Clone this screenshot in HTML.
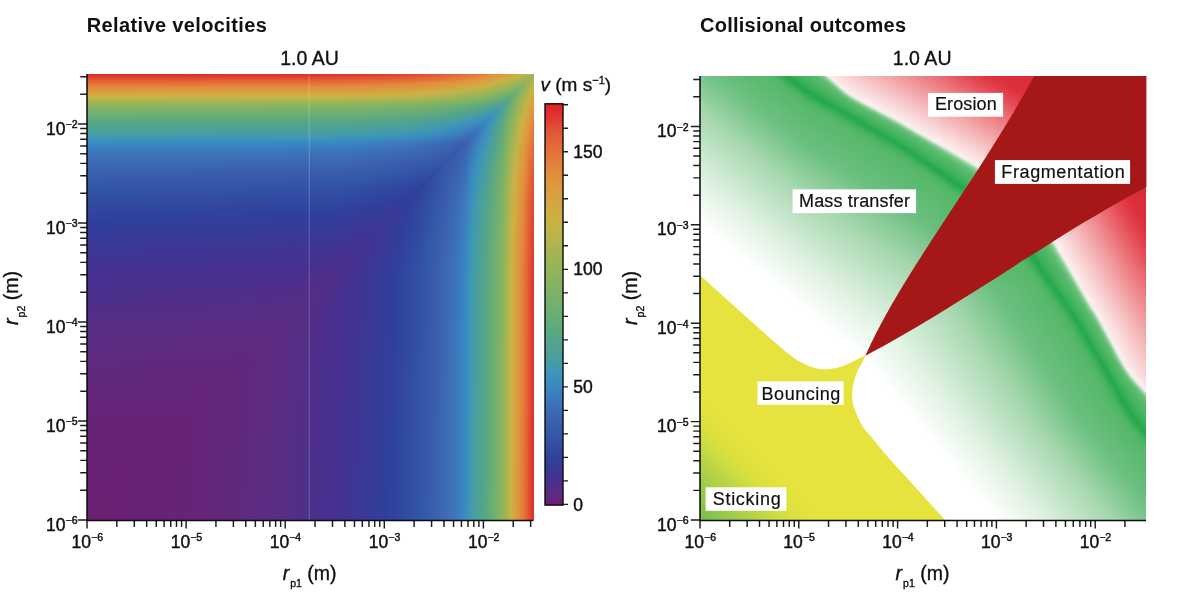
<!DOCTYPE html>
<html lang="en"><head><meta charset="utf-8"><title>Relative velocities and collisional outcomes</title><style>
html,body{margin:0;padding:0;background:#fff}
body{width:1196px;height:600px;overflow:hidden;font-family:'Liberation Sans',sans-serif}
svg{display:block;position:absolute;left:0;top:0}
text{font-family:'Liberation Sans',sans-serif;fill:#111;stroke:#111;stroke-width:.45px}
.tt{stroke-width:0}
.tk{font-size:17.5px}
.sp{font-size:10.5px}
.sp2{font-size:11px}
.sb{font-size:10.5px}
.ax{font-size:19.5px;stroke-width:.35px}
.tt{font-size:20px;font-weight:bold}
.lb{font-size:18px;stroke-width:.2px}
</style></head>
<body>
<svg width="1196" height="600" viewBox="0 0 1196 600">
<defs>
<linearGradient id="ta" gradientUnits="userSpaceOnUse" x1="87" y1="0" x2="533" y2="0"/>
<linearGradient id="tb" gradientUnits="userSpaceOnUse" x1="0" y1="76" x2="0" y2="520"/>
<linearGradient id="a0" href="#ta" x2="533.5"><stop offset="0" stop-color="#e12b2e"/><stop offset=".538" stop-color="#e02f2e"/><stop offset=".659" stop-color="#e0392f"/><stop offset=".749" stop-color="#e04d33"/><stop offset=".836" stop-color="#e36938"/><stop offset=".877" stop-color="#e47d3a"/><stop offset=".928" stop-color="#dd9a3e"/><stop offset=".971" stop-color="#c7b346"/><stop offset=".998" stop-color="#a2b453"/><stop offset="1" stop-color="#a4b452"/></linearGradient>
<linearGradient id="a1" href="#ta" x2="533.5"><stop offset="0" stop-color="#e0332e"/><stop offset=".509" stop-color="#e0382f"/><stop offset=".659" stop-color="#e04431"/><stop offset=".778" stop-color="#e05e36"/><stop offset=".85" stop-color="#e57539"/><stop offset=".915" stop-color="#de973e"/><stop offset=".964" stop-color="#c9b245"/><stop offset=".996" stop-color="#9fb454"/><stop offset=".998" stop-color="#a1b454"/><stop offset="1" stop-color="#a7b451"/></linearGradient>
<linearGradient id="a2" href="#ta" x2="533.5"><stop offset="0" stop-color="#e03b2f"/><stop offset=".507" stop-color="#e03f30"/><stop offset=".657" stop-color="#e04c33"/><stop offset=".762" stop-color="#e05f36"/><stop offset=".836" stop-color="#e57439"/><stop offset=".908" stop-color="#de973e"/><stop offset=".957" stop-color="#cbb244"/><stop offset=".993" stop-color="#9db455"/><stop offset=".996" stop-color="#9eb455"/><stop offset="1" stop-color="#abb44f"/></linearGradient>
<linearGradient id="a3" href="#ta" x2="533.5"><stop offset="0" stop-color="#e04331"/><stop offset=".507" stop-color="#e04732"/><stop offset=".688" stop-color="#e05635"/><stop offset=".794" stop-color="#e36b38"/><stop offset=".845" stop-color="#e47e3a"/><stop offset=".906" stop-color="#dd993e"/><stop offset=".955" stop-color="#c8b245"/><stop offset=".991" stop-color="#9bb456"/><stop offset=".996" stop-color="#a1b454"/><stop offset="1" stop-color="#aeb44e"/></linearGradient>
<linearGradient id="a4" href="#ta" x2="533"><stop offset="0" stop-color="#e04b32"/><stop offset=".518" stop-color="#e04f33"/><stop offset=".679" stop-color="#e05b36"/><stop offset=".803" stop-color="#e57138"/><stop offset=".892" stop-color="#df963e"/><stop offset=".944" stop-color="#cdaf43"/><stop offset=".955" stop-color="#c4b347"/><stop offset=".991" stop-color="#98b458"/><stop offset="1" stop-color="#aeb44e"/></linearGradient>
<linearGradient id="a5" href="#ta" x2="532"><stop offset="0" stop-color="#e05334"/><stop offset=".537" stop-color="#e05735"/><stop offset=".712" stop-color="#e16537"/><stop offset=".793" stop-color="#e57439"/><stop offset=".885" stop-color="#df973e"/><stop offset=".935" stop-color="#cead43"/><stop offset=".948" stop-color="#c7b346"/><stop offset=".991" stop-color="#95b459"/><stop offset="1" stop-color="#aab450"/></linearGradient>
<linearGradient id="a6" href="#ta" x2="531"><stop offset="0" stop-color="#e05c36"/><stop offset=".536" stop-color="#e06137"/><stop offset=".721" stop-color="#e46c38"/><stop offset=".8" stop-color="#e47e3a"/><stop offset=".881" stop-color="#de993e"/><stop offset=".935" stop-color="#ccb043"/><stop offset=".95" stop-color="#c0b449"/><stop offset=".991" stop-color="#92b45b"/><stop offset="1" stop-color="#a8b451"/></linearGradient>
<linearGradient id="a7" href="#ta" x2="530"><stop offset="0" stop-color="#e16437"/><stop offset=".58" stop-color="#e26837"/><stop offset=".718" stop-color="#e57338"/><stop offset=".824" stop-color="#e28b3c"/><stop offset=".892" stop-color="#d99f40"/><stop offset=".937" stop-color="#c8b245"/><stop offset=".984" stop-color="#96b459"/><stop offset=".991" stop-color="#8eb45d"/><stop offset="1" stop-color="#a5b452"/></linearGradient>
<linearGradient id="a8" href="#ta" x2="529"><stop offset="0" stop-color="#e36a38"/><stop offset=".581" stop-color="#e56e38"/><stop offset=".719" stop-color="#e47a39"/><stop offset=".848" stop-color="#df963e"/><stop offset=".905" stop-color="#d1a942"/><stop offset=".932" stop-color="#c7b346"/><stop offset=".98" stop-color="#98b458"/><stop offset=".991" stop-color="#8bb35e"/><stop offset="1" stop-color="#a3b453"/></linearGradient>
<linearGradient id="a9" href="#ta" x2="528"><stop offset="0" stop-color="#e57038"/><stop offset=".556" stop-color="#e57439"/><stop offset=".71" stop-color="#e4803a"/><stop offset=".839" stop-color="#de983e"/><stop offset=".896" stop-color="#d1a842"/><stop offset=".925" stop-color="#c8b245"/><stop offset=".975" stop-color="#99b457"/><stop offset=".991" stop-color="#88b360"/><stop offset="1" stop-color="#a0b454"/></linearGradient>
<linearGradient id="a10" href="#ta" x2="527"><stop offset="0" stop-color="#e57739"/><stop offset=".557" stop-color="#e47b39"/><stop offset=".734" stop-color="#e3883b"/><stop offset=".848" stop-color="#db9c3f"/><stop offset=".918" stop-color="#c9b245"/><stop offset=".961" stop-color="#a3b453"/><stop offset=".991" stop-color="#86b362"/><stop offset="1" stop-color="#9cb456"/></linearGradient>
<linearGradient id="a11" href="#ta" x2="526"><stop offset="0" stop-color="#e47d3a"/><stop offset=".569" stop-color="#e4823a"/><stop offset=".729" stop-color="#e28d3c"/><stop offset=".843" stop-color="#d99e40"/><stop offset=".911" stop-color="#c9b245"/><stop offset=".954" stop-color="#a6b452"/><stop offset=".991" stop-color="#83b364"/><stop offset="1" stop-color="#99b458"/></linearGradient>
<linearGradient id="a12" href="#ta" x2="525"><stop offset="0" stop-color="#e4833a"/><stop offset=".578" stop-color="#e3873b"/><stop offset=".769" stop-color="#df953d"/><stop offset=".861" stop-color="#d3a641"/><stop offset=".906" stop-color="#c8b245"/><stop offset=".952" stop-color="#a4b452"/><stop offset=".991" stop-color="#81b265"/><stop offset="1" stop-color="#95b459"/></linearGradient>
<linearGradient id="a13" href="#ta" x2="524"><stop offset="0" stop-color="#e3883b"/><stop offset=".579" stop-color="#e28c3c"/><stop offset=".764" stop-color="#de983e"/><stop offset=".851" stop-color="#d3a641"/><stop offset=".899" stop-color="#c8b245"/><stop offset=".947" stop-color="#a5b452"/><stop offset=".991" stop-color="#7eb267"/><stop offset="1" stop-color="#92b45b"/></linearGradient>
<linearGradient id="a14" href="#ta" x2="523"><stop offset="0" stop-color="#e28d3c"/><stop offset=".615" stop-color="#e1913d"/><stop offset=".791" stop-color="#da9e3f"/><stop offset=".89" stop-color="#c8b245"/><stop offset=".938" stop-color="#a9b450"/><stop offset=".986" stop-color="#80b266"/><stop offset=".991" stop-color="#7cb269"/><stop offset="1" stop-color="#8fb45c"/></linearGradient>
<linearGradient id="a15" href="#ta" x2="522"><stop offset="0" stop-color="#e1913d"/><stop offset=".614" stop-color="#df953d"/><stop offset=".791" stop-color="#d7a140"/><stop offset=".88" stop-color="#c8b245"/><stop offset=".931" stop-color="#aab450"/><stop offset=".982" stop-color="#82b265"/><stop offset=".991" stop-color="#79b16a"/><stop offset="1" stop-color="#8cb35e"/></linearGradient>
<linearGradient id="a16" href="#ta" x2="521"><stop offset="0" stop-color="#de973e"/><stop offset=".641" stop-color="#dc9b3f"/><stop offset=".781" stop-color="#d4a541"/><stop offset=".864" stop-color="#c8b245"/><stop offset=".917" stop-color="#acb44f"/><stop offset=".975" stop-color="#83b364"/><stop offset=".991" stop-color="#75b16d"/><stop offset="1" stop-color="#8ab35f"/></linearGradient>
<linearGradient id="a17" href="#ta" x2="520"><stop offset="0" stop-color="#db9c3f"/><stop offset=".642" stop-color="#d8a040"/><stop offset=".804" stop-color="#ceae43"/><stop offset=".845" stop-color="#c7b346"/><stop offset=".903" stop-color="#aeb44e"/><stop offset=".968" stop-color="#84b363"/><stop offset=".991" stop-color="#71b06f"/><stop offset="1" stop-color="#87b361"/></linearGradient>
<linearGradient id="a18" href="#ta" x2="519"><stop offset="0" stop-color="#d7a140"/><stop offset=".62" stop-color="#d4a541"/><stop offset=".812" stop-color="#c9b245"/><stop offset=".88" stop-color="#b2b44d"/><stop offset=".954" stop-color="#89b35f"/><stop offset=".991" stop-color="#6eaf72"/><stop offset="1" stop-color="#85b363"/></linearGradient>
<linearGradient id="a19" href="#ta" x2="518"><stop offset="0" stop-color="#d4a541"/><stop offset=".622" stop-color="#d1a942"/><stop offset=".791" stop-color="#c9b245"/><stop offset=".865" stop-color="#b3b44d"/><stop offset=".947" stop-color="#8ab35f"/><stop offset=".991" stop-color="#6baf74"/><stop offset="1" stop-color="#82b264"/></linearGradient>
<linearGradient id="a20" href="#ta" x2="517"><stop offset="0" stop-color="#d1a942"/><stop offset=".647" stop-color="#cead43"/><stop offset=".765" stop-color="#c8b245"/><stop offset=".847" stop-color="#b5b44c"/><stop offset=".93" stop-color="#90b45c"/><stop offset=".991" stop-color="#69ae75"/><stop offset="1" stop-color="#7eb268"/></linearGradient>
<linearGradient id="a21" href="#ta" x2="516"><stop offset="0" stop-color="#cfac43"/><stop offset=".648" stop-color="#ccb044"/><stop offset=".746" stop-color="#c5b346"/><stop offset=".834" stop-color="#b3b44d"/><stop offset=".923" stop-color="#90b45c"/><stop offset=".986" stop-color="#6aae75"/><stop offset=".991" stop-color="#66ad77"/><stop offset="1" stop-color="#79b16a"/></linearGradient>
<linearGradient id="a22" href="#ta" x2="515"><stop offset="0" stop-color="#ccb044"/><stop offset=".619" stop-color="#c9b245"/><stop offset=".764" stop-color="#bcb44a"/><stop offset=".857" stop-color="#a6b452"/><stop offset=".932" stop-color="#87b361"/><stop offset=".991" stop-color="#63ac7a"/><stop offset="1" stop-color="#75b16d"/></linearGradient>
<linearGradient id="a23" href="#ta" x2="514"><stop offset="0" stop-color="#c7b346"/><stop offset=".593" stop-color="#c3b348"/><stop offset=".747" stop-color="#b7b44c"/><stop offset=".85" stop-color="#a2b453"/><stop offset=".925" stop-color="#86b361"/><stop offset=".986" stop-color="#63ac7a"/><stop offset=".991" stop-color="#5fab7c"/><stop offset="1" stop-color="#72b06f"/></linearGradient>
<linearGradient id="a24" href="#ta" x2="513"><stop offset="0" stop-color="#c0b449"/><stop offset=".589" stop-color="#bcb44a"/><stop offset=".749" stop-color="#b0b44e"/><stop offset=".857" stop-color="#9ab457"/><stop offset=".927" stop-color="#80b265"/><stop offset=".986" stop-color="#5fab7c"/><stop offset=".991" stop-color="#5ca97f"/><stop offset="1" stop-color="#70b071"/></linearGradient>
<linearGradient id="a25" href="#ta" x2="512"><stop offset="0" stop-color="#b8b44b"/><stop offset=".588" stop-color="#b4b44c"/><stop offset=".758" stop-color="#a7b451"/><stop offset=".868" stop-color="#91b45b"/><stop offset=".939" stop-color="#77b16c"/><stop offset=".986" stop-color="#5ca97f"/><stop offset=".991" stop-color="#59a783"/><stop offset="1" stop-color="#6daf72"/></linearGradient>
<linearGradient id="a26" href="#ta" x2="511"><stop offset="0" stop-color="#b0b44d"/><stop offset=".594" stop-color="#acb44f"/><stop offset=".757" stop-color="#a1b454"/><stop offset=".861" stop-color="#8eb35d"/><stop offset=".939" stop-color="#72b06f"/><stop offset=".983" stop-color="#5aa882"/><stop offset=".991" stop-color="#56a687"/><stop offset="1" stop-color="#6aae75"/></linearGradient>
<linearGradient id="a27" href="#ta" x2="510"><stop offset="0" stop-color="#a9b450"/><stop offset=".598" stop-color="#a5b452"/><stop offset=".78" stop-color="#98b458"/><stop offset=".879" stop-color="#84b363"/><stop offset=".957" stop-color="#66ad78"/><stop offset=".986" stop-color="#56a587"/><stop offset=".991" stop-color="#54a48b"/><stop offset="1" stop-color="#67ad77"/></linearGradient>
<linearGradient id="a28" href="#ta" x2="509"><stop offset="0" stop-color="#a2b453"/><stop offset=".614" stop-color="#9eb455"/><stop offset=".78" stop-color="#92b45b"/><stop offset=".879" stop-color="#7fb267"/><stop offset=".955" stop-color="#63ac7a"/><stop offset=".983" stop-color="#55a489"/><stop offset=".991" stop-color="#51a38f"/><stop offset="1" stop-color="#63ac7a"/></linearGradient>
<linearGradient id="a29" href="#ta" x2="508"><stop offset="0" stop-color="#9cb456"/><stop offset=".62" stop-color="#98b458"/><stop offset=".784" stop-color="#8cb35e"/><stop offset=".886" stop-color="#78b16b"/><stop offset=".955" stop-color="#5fab7c"/><stop offset=".99" stop-color="#4fa193"/><stop offset="1" stop-color="#5fab7c"/></linearGradient>
<linearGradient id="a30" href="#ta" x2="507"><stop offset="0" stop-color="#96b459"/><stop offset=".621" stop-color="#92b45b"/><stop offset=".79" stop-color="#86b362"/><stop offset=".89" stop-color="#72b06f"/><stop offset=".952" stop-color="#5caa7f"/><stop offset=".99" stop-color="#4da098"/><stop offset="1" stop-color="#5ca980"/></linearGradient>
<linearGradient id="a31" href="#ta" x2="506"><stop offset="0" stop-color="#90b45c"/><stop offset=".625" stop-color="#8cb35e"/><stop offset=".8" stop-color="#7fb266"/><stop offset=".905" stop-color="#6aae74"/><stop offset=".952" stop-color="#59a783"/><stop offset=".99" stop-color="#4b9f9d"/><stop offset="1" stop-color="#59a783"/></linearGradient>
<linearGradient id="a32" href="#ta" x2="505"><stop offset="0" stop-color="#8ab35f"/><stop offset=".634" stop-color="#86b362"/><stop offset=".801" stop-color="#7ab16a"/><stop offset=".907" stop-color="#65ad78"/><stop offset=".947" stop-color="#57a685"/><stop offset=".986" stop-color="#4a9e9e"/><stop offset=".99" stop-color="#489ea2"/><stop offset="1" stop-color="#56a587"/></linearGradient>
<linearGradient id="a33" href="#ta" x2="504"><stop offset="0" stop-color="#85b362"/><stop offset=".638" stop-color="#81b265"/><stop offset=".803" stop-color="#75b16d"/><stop offset=".902" stop-color="#63ac7a"/><stop offset=".947" stop-color="#55a489"/><stop offset=".986" stop-color="#489da3"/><stop offset=".99" stop-color="#469ca6"/><stop offset="1" stop-color="#53a48c"/></linearGradient>
<linearGradient id="a34" href="#ta" x2="503"><stop offset="0" stop-color="#81b265"/><stop offset=".639" stop-color="#7db268"/><stop offset=".808" stop-color="#71b06f"/><stop offset=".899" stop-color="#61ab7b"/><stop offset=".95" stop-color="#52a38d"/><stop offset=".988" stop-color="#459ca8"/><stop offset=".99" stop-color="#449baa"/><stop offset="1" stop-color="#51a290"/></linearGradient>
<linearGradient id="a35" href="#ta" x2="502"><stop offset="0" stop-color="#7eb267"/><stop offset=".641" stop-color="#7ab16a"/><stop offset=".814" stop-color="#6eaf72"/><stop offset=".908" stop-color="#5ba980"/><stop offset=".959" stop-color="#4ea196"/><stop offset=".99" stop-color="#439aad"/><stop offset="1" stop-color="#4fa195"/></linearGradient>
<linearGradient id="a36" href="#ta" x2="501"><stop offset="0" stop-color="#7bb269"/><stop offset=".643" stop-color="#77b16c"/><stop offset=".821" stop-color="#6aae74"/><stop offset=".906" stop-color="#5aa882"/><stop offset=".957" stop-color="#4da097"/><stop offset=".99" stop-color="#4198b1"/><stop offset="1" stop-color="#4ca09a"/></linearGradient>
<linearGradient id="a37" href="#ta" x2="500"><stop offset="0" stop-color="#77b16c"/><stop offset=".644" stop-color="#73b06e"/><stop offset=".818" stop-color="#68ae76"/><stop offset=".898" stop-color="#59a883"/><stop offset=".952" stop-color="#4da098"/><stop offset=".985" stop-color="#4198b0"/><stop offset=".99" stop-color="#3f96b5"/><stop offset="1" stop-color="#4a9e9e"/></linearGradient>
<linearGradient id="a38" href="#ta" x2="499"><stop offset="0" stop-color="#74b06e"/><stop offset=".653" stop-color="#70b070"/><stop offset=".818" stop-color="#65ad78"/><stop offset=".891" stop-color="#58a784"/><stop offset=".949" stop-color="#4c9f9a"/><stop offset=".983" stop-color="#4097b2"/><stop offset=".99" stop-color="#3e95b9"/><stop offset="1" stop-color="#489ea1"/></linearGradient>
<linearGradient id="a39" href="#ta" x2="498"><stop offset="0" stop-color="#71b070"/><stop offset=".657" stop-color="#6daf73"/><stop offset=".815" stop-color="#62ac7a"/><stop offset=".888" stop-color="#57a686"/><stop offset=".946" stop-color="#4b9f9c"/><stop offset=".978" stop-color="#4198b1"/><stop offset=".99" stop-color="#3c93bc"/><stop offset="1" stop-color="#479da5"/></linearGradient>
<linearGradient id="a40" href="#ta" x2="497"><stop offset="0" stop-color="#6eaf72"/><stop offset=".659" stop-color="#6aae74"/><stop offset=".82" stop-color="#5fab7d"/><stop offset=".902" stop-color="#52a38d"/><stop offset=".954" stop-color="#479da3"/><stop offset=".988" stop-color="#3c92bc"/><stop offset=".993" stop-color="#3d94ba"/><stop offset="1" stop-color="#459ca8"/></linearGradient>
<linearGradient id="a41" href="#ta" x2="496"><stop offset="0" stop-color="#6caf74"/><stop offset=".658" stop-color="#68ae76"/><stop offset=".826" stop-color="#5ca980"/><stop offset=".905" stop-color="#50a291"/><stop offset=".958" stop-color="#449ba9"/><stop offset=".985" stop-color="#3c92bd"/><stop offset=".99" stop-color="#3b8fbd"/><stop offset=".995" stop-color="#3e95b8"/><stop offset="1" stop-color="#439aac"/></linearGradient>
<linearGradient id="a42" href="#ta" x2="495"><stop offset="0" stop-color="#69ae75"/><stop offset=".65" stop-color="#65ad78"/><stop offset=".814" stop-color="#5ba881"/><stop offset=".897" stop-color="#50a292"/><stop offset=".953" stop-color="#449baa"/><stop offset=".98" stop-color="#3c92bc"/><stop offset=".99" stop-color="#3b8ebe"/><stop offset=".995" stop-color="#3c93bb"/><stop offset="1" stop-color="#4299af"/></linearGradient>
<linearGradient id="a43" href="#ta" x2="494"><stop offset="0" stop-color="#66ad77"/><stop offset=".654" stop-color="#62ac7a"/><stop offset=".801" stop-color="#5aa883"/><stop offset=".887" stop-color="#50a292"/><stop offset=".946" stop-color="#459ca9"/><stop offset=".978" stop-color="#3c91bd"/><stop offset=".99" stop-color="#3b8cbf"/><stop offset=".998" stop-color="#3d94b9"/><stop offset="1" stop-color="#4097b3"/></linearGradient>
<linearGradient id="a44" href="#ta" x2="493"><stop offset="0" stop-color="#63ac7a"/><stop offset=".655" stop-color="#5fab7d"/><stop offset=".81" stop-color="#56a687"/><stop offset=".899" stop-color="#4da099"/><stop offset=".951" stop-color="#4299af"/><stop offset=".973" stop-color="#3c92bd"/><stop offset=".99" stop-color="#3a8abf"/><stop offset=".998" stop-color="#3c93bc"/><stop offset="1" stop-color="#3e95b7"/></linearGradient>
<linearGradient id="a45" href="#ta" x2="492"><stop offset="0" stop-color="#60ab7c"/><stop offset=".662" stop-color="#5ca97f"/><stop offset=".822" stop-color="#53a48b"/><stop offset=".906" stop-color="#4a9e9e"/><stop offset=".948" stop-color="#4198b2"/><stop offset=".97" stop-color="#3c91bd"/><stop offset=".99" stop-color="#3a88c0"/><stop offset="1" stop-color="#3d94ba"/></linearGradient>
<linearGradient id="a46" href="#ta" x2="491"><stop offset="0" stop-color="#5eaa7e"/><stop offset=".644" stop-color="#5ba881"/><stop offset=".809" stop-color="#53a38c"/><stop offset=".896" stop-color="#4a9e9e"/><stop offset=".943" stop-color="#4097b2"/><stop offset=".965" stop-color="#3c91bd"/><stop offset=".99" stop-color="#3a86c0"/><stop offset="1" stop-color="#3c92bc"/></linearGradient>
<linearGradient id="a47" href="#ta" x2="490"><stop offset="0" stop-color="#5ba980"/><stop offset=".648" stop-color="#58a784"/><stop offset=".806" stop-color="#51a38f"/><stop offset=".891" stop-color="#499ea0"/><stop offset=".938" stop-color="#4097b3"/><stop offset=".96" stop-color="#3c91bd"/><stop offset=".99" stop-color="#3a84bf"/><stop offset="1" stop-color="#3c90bd"/></linearGradient>
<linearGradient id="a48" href="#ta" x2="489"><stop offset="0" stop-color="#59a883"/><stop offset=".649" stop-color="#56a687"/><stop offset=".806" stop-color="#50a292"/><stop offset=".891" stop-color="#489da3"/><stop offset=".955" stop-color="#3c91bd"/><stop offset=".99" stop-color="#3a82be"/><stop offset="1" stop-color="#3b8fbe"/></linearGradient>
<linearGradient id="a49" href="#ta" x2="488"><stop offset="0" stop-color="#57a686"/><stop offset=".651" stop-color="#54a48a"/><stop offset=".813" stop-color="#4ea196"/><stop offset=".9" stop-color="#459ca9"/><stop offset=".948" stop-color="#3c91bd"/><stop offset=".985" stop-color="#3a82bf"/><stop offset=".99" stop-color="#3b80be"/><stop offset="1" stop-color="#3b8dbe"/></linearGradient>
<linearGradient id="a50" href="#ta" x2="487"><stop offset="0" stop-color="#55a589"/><stop offset=".637" stop-color="#53a38d"/><stop offset=".807" stop-color="#4da098"/><stop offset=".895" stop-color="#449bab"/><stop offset=".943" stop-color="#3c91bd"/><stop offset=".98" stop-color="#3a83bf"/><stop offset=".99" stop-color="#3b7dbd"/><stop offset="1" stop-color="#3b8bbf"/></linearGradient>
<linearGradient id="a51" href="#ta" x2="486"><stop offset="0" stop-color="#53a48b"/><stop offset=".637" stop-color="#51a28f"/><stop offset=".802" stop-color="#4c9f9b"/><stop offset=".89" stop-color="#439aad"/><stop offset=".937" stop-color="#3c91bd"/><stop offset=".977" stop-color="#3a82bf"/><stop offset=".99" stop-color="#3b7bbd"/><stop offset="1" stop-color="#3a8abf"/></linearGradient>
<linearGradient id="a52" href="#ta" x2="485"><stop offset="0" stop-color="#52a38e"/><stop offset=".638" stop-color="#50a292"/><stop offset=".799" stop-color="#4b9f9d"/><stop offset=".884" stop-color="#4299ae"/><stop offset=".93" stop-color="#3c91bd"/><stop offset=".972" stop-color="#3a83bf"/><stop offset=".99" stop-color="#3b7abc"/><stop offset="1" stop-color="#3a88c0"/></linearGradient>
<linearGradient id="a53" href="#ta" x2="484"><stop offset="0" stop-color="#51a290"/><stop offset=".64" stop-color="#4fa194"/><stop offset=".796" stop-color="#4a9e9f"/><stop offset=".877" stop-color="#4299ae"/><stop offset=".924" stop-color="#3c91bd"/><stop offset=".97" stop-color="#3a83bf"/><stop offset=".99" stop-color="#3b78bc"/><stop offset="1" stop-color="#3a86bf"/></linearGradient>
<linearGradient id="a54" href="#ta" x2="483"><stop offset="0" stop-color="#50a293"/><stop offset=".641" stop-color="#4ea097"/><stop offset=".803" stop-color="#489da2"/><stop offset=".879" stop-color="#4198b2"/><stop offset=".919" stop-color="#3c91bd"/><stop offset=".967" stop-color="#3a82bf"/><stop offset=".99" stop-color="#3b77bb"/><stop offset="1" stop-color="#3a83bf"/></linearGradient>
<linearGradient id="a55" href="#ta" x2="482"><stop offset="0" stop-color="#4fa195"/><stop offset=".638" stop-color="#4ca099"/><stop offset=".805" stop-color="#469da5"/><stop offset=".889" stop-color="#3e95b8"/><stop offset=".922" stop-color="#3b8fbe"/><stop offset=".965" stop-color="#3a81be"/><stop offset=".99" stop-color="#3b75ba"/><stop offset="1" stop-color="#3a81be"/></linearGradient>
<linearGradient id="a56" href="#ta" x2="481"><stop offset="0" stop-color="#4da097"/><stop offset=".627" stop-color="#4b9f9b"/><stop offset=".802" stop-color="#459ca7"/><stop offset=".906" stop-color="#3c91bd"/><stop offset=".959" stop-color="#3a82be"/><stop offset=".99" stop-color="#3c74ba"/><stop offset="1" stop-color="#3b7fbe"/></linearGradient>
<linearGradient id="a57" href="#ta" x2="480"><stop offset="0" stop-color="#4c9f9a"/><stop offset=".628" stop-color="#4a9e9e"/><stop offset=".796" stop-color="#449baa"/><stop offset=".898" stop-color="#3c90bd"/><stop offset=".954" stop-color="#3a82be"/><stop offset=".99" stop-color="#3c72b9"/><stop offset="1" stop-color="#3b7ebd"/></linearGradient>
<linearGradient id="a58" href="#ta" x2="479"><stop offset="0" stop-color="#4a9f9d"/><stop offset=".63" stop-color="#489ea1"/><stop offset=".788" stop-color="#439aac"/><stop offset=".888" stop-color="#3c90bd"/><stop offset=".946" stop-color="#3a83bf"/><stop offset=".99" stop-color="#3c71b8"/><stop offset="1" stop-color="#3b7cbd"/></linearGradient>
<linearGradient id="a59" href="#ta" x2="478"><stop offset="0" stop-color="#499ea1"/><stop offset=".632" stop-color="#479da5"/><stop offset=".78" stop-color="#4299af"/><stop offset=".875" stop-color="#3c90bd"/><stop offset=".939" stop-color="#3a83bf"/><stop offset=".99" stop-color="#3c6fb7"/><stop offset="1" stop-color="#3b7abd"/></linearGradient>
<linearGradient id="a60" href="#ta" x2="477"><stop offset="0" stop-color="#479da4"/><stop offset=".631" stop-color="#459ca8"/><stop offset=".795" stop-color="#3f96b5"/><stop offset=".864" stop-color="#3b90bd"/><stop offset=".931" stop-color="#3a83bf"/><stop offset=".99" stop-color="#3d6db6"/><stop offset="1" stop-color="#3b79bc"/></linearGradient>
<linearGradient id="a61" href="#ta" x2="476"><stop offset="0" stop-color="#459ca8"/><stop offset=".609" stop-color="#439aac"/><stop offset=".784" stop-color="#3e95b8"/><stop offset=".887" stop-color="#3a8abf"/><stop offset=".959" stop-color="#3b77bb"/><stop offset=".99" stop-color="#3d6bb5"/><stop offset="1" stop-color="#3b77bb"/></linearGradient>
<linearGradient id="a62" href="#ta" x2="475"><stop offset="0" stop-color="#439aac"/><stop offset=".613" stop-color="#4198b1"/><stop offset=".827" stop-color="#3b8fbd"/><stop offset=".91" stop-color="#3a83bf"/><stop offset=".977" stop-color="#3c6eb6"/><stop offset=".99" stop-color="#3d69b4"/><stop offset="1" stop-color="#3b75ba"/></linearGradient>
<linearGradient id="a63" href="#ta" x2="474"><stop offset="0" stop-color="#4198b1"/><stop offset=".615" stop-color="#3f96b5"/><stop offset=".819" stop-color="#3b8ebe"/><stop offset=".902" stop-color="#3a82bf"/><stop offset=".974" stop-color="#3d6db6"/><stop offset=".99" stop-color="#3c68b3"/><stop offset="1" stop-color="#3c73b9"/></linearGradient>
<linearGradient id="a64" href="#ta" x2="473"><stop offset="0" stop-color="#3f96b6"/><stop offset=".617" stop-color="#3d94ba"/><stop offset=".829" stop-color="#3a8abf"/><stop offset=".917" stop-color="#3b7bbd"/><stop offset=".99" stop-color="#3c66b2"/><stop offset="1" stop-color="#3c71b8"/></linearGradient>
<linearGradient id="a65" href="#ta" x2="472"><stop offset="0" stop-color="#3c93bb"/><stop offset=".686" stop-color="#3b90bd"/><stop offset=".847" stop-color="#3a85bf"/><stop offset=".945" stop-color="#3c71b8"/><stop offset=".99" stop-color="#3b64b1"/><stop offset="1" stop-color="#3c6fb7"/></linearGradient>
<linearGradient id="a66" href="#ta" x2="471"><stop offset="0" stop-color="#3c91bd"/><stop offset=".69" stop-color="#3b8dbe"/><stop offset=".833" stop-color="#3a84bf"/><stop offset=".938" stop-color="#3c70b8"/><stop offset=".99" stop-color="#3b63b0"/><stop offset="1" stop-color="#3d6db6"/></linearGradient>
<linearGradient id="a67" href="#ta" x2="470"><stop offset="0" stop-color="#3b8ebe"/><stop offset=".695" stop-color="#3a8abf"/><stop offset=".838" stop-color="#3b7fbe"/><stop offset=".943" stop-color="#3d6cb5"/><stop offset=".99" stop-color="#3a61af"/><stop offset="1" stop-color="#3d6bb5"/></linearGradient>
<linearGradient id="a68" href="#ta" x2="469"><stop offset="0" stop-color="#3b8bbf"/><stop offset=".683" stop-color="#3a87c0"/><stop offset=".848" stop-color="#3b7abd"/><stop offset=".971" stop-color="#3b63b0"/><stop offset=".99" stop-color="#3a5fae"/><stop offset="1" stop-color="#3d69b4"/></linearGradient>
<linearGradient id="a69" href="#ta" x2="468"><stop offset="0" stop-color="#3a89c0"/><stop offset=".659" stop-color="#3a86bf"/><stop offset=".837" stop-color="#3b79bc"/><stop offset=".969" stop-color="#3b63b0"/><stop offset=".992" stop-color="#3a60ae"/><stop offset="1" stop-color="#3c67b3"/></linearGradient>
<linearGradient id="a70" href="#ta" x2="467"><stop offset="0" stop-color="#3a88c0"/><stop offset=".655" stop-color="#3a84bf"/><stop offset=".837" stop-color="#3b78bc"/><stop offset=".963" stop-color="#3b63b0"/><stop offset=".992" stop-color="#3a5fae"/><stop offset="1" stop-color="#3c65b2"/></linearGradient>
<linearGradient id="a71" href="#ta" x2="466"><stop offset="0" stop-color="#3a86bf"/><stop offset=".657" stop-color="#3a82be"/><stop offset=".844" stop-color="#3b75ba"/><stop offset=".963" stop-color="#3b62b0"/><stop offset=".992" stop-color="#395ead"/><stop offset="1" stop-color="#3b64b0"/></linearGradient>
<linearGradient id="a72" href="#ta" x2="465"><stop offset="0" stop-color="#3a84bf"/><stop offset=".659" stop-color="#3b80be"/><stop offset=".852" stop-color="#3c73b9"/><stop offset=".966" stop-color="#3a61af"/><stop offset=".992" stop-color="#395ead"/><stop offset="1" stop-color="#3b62af"/></linearGradient>
<linearGradient id="a73" href="#ta" x2="464"><stop offset="0" stop-color="#3a82bf"/><stop offset=".658" stop-color="#3b7ebd"/><stop offset=".857" stop-color="#3c71b8"/><stop offset=".973" stop-color="#3a5eae"/><stop offset=".995" stop-color="#395ead"/><stop offset="1" stop-color="#3a60af"/></linearGradient>
<linearGradient id="a74" href="#ta" x2="463"><stop offset="0" stop-color="#3a80be"/><stop offset=".66" stop-color="#3b7cbd"/><stop offset=".856" stop-color="#3c6fb7"/><stop offset=".976" stop-color="#395ead"/><stop offset=".995" stop-color="#395ead"/><stop offset="1" stop-color="#3a60ae"/></linearGradient>
<linearGradient id="a75" href="#ta" x2="462"><stop offset="0" stop-color="#3b7ebe"/><stop offset=".661" stop-color="#3b7abd"/><stop offset=".856" stop-color="#3c6eb6"/><stop offset=".981" stop-color="#385cac"/><stop offset=".997" stop-color="#395ead"/><stop offset="1" stop-color="#3a5fae"/></linearGradient>
<linearGradient id="a76" href="#ta" x2="461"><stop offset="0" stop-color="#3b7cbd"/><stop offset=".663" stop-color="#3b78bc"/><stop offset=".856" stop-color="#3d6db5"/><stop offset=".984" stop-color="#375bab"/><stop offset="1" stop-color="#395ead"/></linearGradient>
<linearGradient id="a77" href="#ta" x2="460"><stop offset="0" stop-color="#3b7abd"/><stop offset=".676" stop-color="#3b76bb"/><stop offset=".863" stop-color="#3d6ab4"/><stop offset=".992" stop-color="#375bab"/><stop offset="1" stop-color="#395ead"/></linearGradient>
<linearGradient id="a78" href="#ta" x2="459"><stop offset="0" stop-color="#3b78bc"/><stop offset=".683" stop-color="#3c74ba"/><stop offset=".879" stop-color="#3c68b3"/><stop offset=".992" stop-color="#365baa"/><stop offset="1" stop-color="#395dad"/></linearGradient>
<linearGradient id="a79" href="#ta" x2="458"><stop offset="0" stop-color="#3b77bb"/><stop offset=".682" stop-color="#3c73b9"/><stop offset=".887" stop-color="#3c66b2"/><stop offset=".992" stop-color="#365aaa"/><stop offset="1" stop-color="#385dac"/></linearGradient>
<linearGradient id="a80" href="#ta" x2="457"><stop offset="0" stop-color="#3b76bb"/><stop offset=".684" stop-color="#3c72b8"/><stop offset=".895" stop-color="#3b64b1"/><stop offset=".992" stop-color="#355aa9"/><stop offset="1" stop-color="#385cac"/></linearGradient>
<linearGradient id="a81" href="#ta" x2="456"><stop offset="0" stop-color="#3c74ba"/><stop offset=".686" stop-color="#3c70b8"/><stop offset=".902" stop-color="#3b62b0"/><stop offset=".992" stop-color="#3559a9"/><stop offset="1" stop-color="#375cab"/></linearGradient>
<linearGradient id="a82" href="#ta" x2="455"><stop offset="0" stop-color="#3c73b9"/><stop offset=".688" stop-color="#3c6fb7"/><stop offset=".905" stop-color="#3b61af"/><stop offset=".995" stop-color="#355aa9"/><stop offset="1" stop-color="#375bab"/></linearGradient>
<linearGradient id="a83" href="#ta" x2="454"><stop offset="0" stop-color="#3c72b8"/><stop offset=".687" stop-color="#3c6eb6"/><stop offset=".902" stop-color="#3a61af"/><stop offset=".992" stop-color="#3458a8"/><stop offset="1" stop-color="#365baa"/></linearGradient>
<linearGradient id="a84" href="#ta" x2="453"><stop offset="0" stop-color="#3c71b8"/><stop offset=".689" stop-color="#3d6cb5"/><stop offset=".902" stop-color="#3a60af"/><stop offset=".992" stop-color="#3458a8"/><stop offset="1" stop-color="#365aaa"/></linearGradient>
<linearGradient id="a85" href="#ta" x2="452"><stop offset="0" stop-color="#3c6fb7"/><stop offset=".69" stop-color="#3d6bb5"/><stop offset=".899" stop-color="#3a60ae"/><stop offset=".992" stop-color="#3457a8"/><stop offset="1" stop-color="#365aaa"/></linearGradient>
<linearGradient id="a86" href="#ta" x2="451"><stop offset="0" stop-color="#3c6eb6"/><stop offset=".692" stop-color="#3d6ab4"/><stop offset=".904" stop-color="#3a5eae"/><stop offset=".992" stop-color="#3457a7"/><stop offset="1" stop-color="#3559a9"/></linearGradient>
<linearGradient id="a87" href="#ta" x2="450"><stop offset="0" stop-color="#3d6db6"/><stop offset=".708" stop-color="#3d68b3"/><stop offset=".939" stop-color="#375bab"/><stop offset=".992" stop-color="#3456a7"/><stop offset="1" stop-color="#3559a9"/></linearGradient>
<linearGradient id="a88" href="#ta" x2="449"><stop offset="0" stop-color="#3d6bb5"/><stop offset=".724" stop-color="#3c67b2"/><stop offset=".939" stop-color="#365baa"/><stop offset=".992" stop-color="#3355a7"/><stop offset="1" stop-color="#3559a9"/></linearGradient>
<linearGradient id="a89" href="#ta" x2="448"><stop offset="0" stop-color="#3d6ab4"/><stop offset=".726" stop-color="#3c66b2"/><stop offset=".936" stop-color="#365aaa"/><stop offset=".992" stop-color="#3355a6"/><stop offset="1" stop-color="#3458a8"/></linearGradient>
<linearGradient id="a90" href="#ta" x2="447"><stop offset="0" stop-color="#3d69b3"/><stop offset=".725" stop-color="#3c65b1"/><stop offset=".933" stop-color="#365aaa"/><stop offset=".992" stop-color="#3354a6"/><stop offset="1" stop-color="#3458a8"/></linearGradient>
<linearGradient id="a91" href="#ta" x2="446"><stop offset="0" stop-color="#3c68b3"/><stop offset=".727" stop-color="#3b64b1"/><stop offset=".936" stop-color="#3559a9"/><stop offset=".992" stop-color="#3353a6"/><stop offset="1" stop-color="#3457a7"/></linearGradient>
<linearGradient id="a92" href="#ta" x2="445"><stop offset="0" stop-color="#3c67b2"/><stop offset=".729" stop-color="#3b63b0"/><stop offset=".955" stop-color="#3457a7"/><stop offset=".992" stop-color="#3352a5"/><stop offset="1" stop-color="#3456a7"/></linearGradient>
<linearGradient id="a93" href="#ta" x2="444"><stop offset="0" stop-color="#3c66b2"/><stop offset=".731" stop-color="#3b62af"/><stop offset=".952" stop-color="#3456a7"/><stop offset=".992" stop-color="#3351a5"/><stop offset="1" stop-color="#3356a7"/></linearGradient>
<linearGradient id="a94" href="#ta" x2="443"><stop offset="0" stop-color="#3c65b1"/><stop offset=".73" stop-color="#3a61af"/><stop offset=".947" stop-color="#3456a7"/><stop offset=".992" stop-color="#3251a4"/><stop offset="1" stop-color="#3355a6"/></linearGradient>
<linearGradient id="a95" href="#ta" x2="442"><stop offset="0" stop-color="#3b63b0"/><stop offset=".732" stop-color="#3a5fae"/><stop offset=".938" stop-color="#3456a7"/><stop offset=".992" stop-color="#3250a4"/><stop offset="1" stop-color="#3354a6"/></linearGradient>
<linearGradient id="a96" href="#ta" x2="441"><stop offset="0" stop-color="#3b62b0"/><stop offset=".754" stop-color="#395ead"/><stop offset=".938" stop-color="#3355a7"/><stop offset=".992" stop-color="#324fa3"/><stop offset="1" stop-color="#3353a6"/></linearGradient>
<linearGradient id="a97" href="#ta" x2="440"><stop offset="0" stop-color="#3b61af"/><stop offset=".779" stop-color="#385dac"/><stop offset=".938" stop-color="#3354a6"/><stop offset=".992" stop-color="#324ea3"/><stop offset="1" stop-color="#3352a5"/></linearGradient>
<linearGradient id="a98" href="#ta" x2="439"><stop offset="0" stop-color="#3a60af"/><stop offset=".801" stop-color="#375cab"/><stop offset=".938" stop-color="#3353a6"/><stop offset=".991" stop-color="#324da3"/><stop offset="1" stop-color="#3351a5"/></linearGradient>
<linearGradient id="a99" href="#ta" x2="438"><stop offset="0" stop-color="#3a5fae"/><stop offset=".798" stop-color="#375bab"/><stop offset=".932" stop-color="#3353a6"/><stop offset=".991" stop-color="#324ca2"/><stop offset="1" stop-color="#3250a4"/></linearGradient>
<linearGradient id="a100" href="#ta" x2="437"><stop offset="0" stop-color="#395ead"/><stop offset=".797" stop-color="#365baa"/><stop offset=".931" stop-color="#3352a5"/><stop offset=".991" stop-color="#314ca2"/><stop offset="1" stop-color="#3250a4"/></linearGradient>
<linearGradient id="a101" href="#ta" x2="436"><stop offset="0" stop-color="#395ead"/><stop offset=".799" stop-color="#365aaa"/><stop offset=".937" stop-color="#3351a4"/><stop offset=".991" stop-color="#314ba1"/><stop offset="1" stop-color="#324fa3"/></linearGradient>
<linearGradient id="a102" href="#ta" x2="435"><stop offset="0" stop-color="#395dad"/><stop offset=".802" stop-color="#3559a9"/><stop offset=".948" stop-color="#324fa3"/><stop offset=".991" stop-color="#314aa1"/><stop offset="1" stop-color="#324ea3"/></linearGradient>
<linearGradient id="a103" href="#ta" x2="434"><stop offset="0" stop-color="#385dac"/><stop offset=".801" stop-color="#3559a9"/><stop offset=".957" stop-color="#324da2"/><stop offset=".991" stop-color="#314aa1"/><stop offset="1" stop-color="#324da2"/></linearGradient>
<linearGradient id="a104" href="#ta" x2="433"><stop offset="0" stop-color="#385cac"/><stop offset=".803" stop-color="#3458a8"/><stop offset=".965" stop-color="#314ba1"/><stop offset=".991" stop-color="#3149a0"/><stop offset="1" stop-color="#324ca2"/></linearGradient>
<linearGradient id="a105" href="#ta" x2="432"><stop offset="0" stop-color="#375cab"/><stop offset=".8" stop-color="#3458a8"/><stop offset=".968" stop-color="#314aa1"/><stop offset=".991" stop-color="#3148a0"/><stop offset="1" stop-color="#314ca2"/></linearGradient>
<linearGradient id="a106" href="#ta" x2="431"><stop offset="0" stop-color="#375bab"/><stop offset=".791" stop-color="#3457a8"/><stop offset=".965" stop-color="#314aa1"/><stop offset=".991" stop-color="#3148a0"/><stop offset="1" stop-color="#314ba1"/></linearGradient>
<linearGradient id="a107" href="#ta" x2="430"><stop offset="0" stop-color="#365aaa"/><stop offset=".778" stop-color="#3457a7"/><stop offset=".959" stop-color="#314aa1"/><stop offset=".991" stop-color="#30479f"/><stop offset="1" stop-color="#314aa1"/></linearGradient>
<linearGradient id="a108" href="#ta" x2="429"><stop offset="0" stop-color="#365aaa"/><stop offset=".769" stop-color="#3456a7"/><stop offset=".953" stop-color="#314aa1"/><stop offset=".991" stop-color="#30469f"/><stop offset="1" stop-color="#314aa1"/></linearGradient>
<linearGradient id="a109" href="#ta" x2="428"><stop offset="0" stop-color="#3559a9"/><stop offset=".754" stop-color="#3456a7"/><stop offset=".947" stop-color="#314aa1"/><stop offset=".991" stop-color="#30459f"/><stop offset="1" stop-color="#3149a0"/></linearGradient>
<linearGradient id="a110" href="#ta" x2="427"><stop offset="0" stop-color="#3559a9"/><stop offset=".738" stop-color="#3355a7"/><stop offset=".941" stop-color="#3149a1"/><stop offset=".991" stop-color="#30459e"/><stop offset="1" stop-color="#3148a0"/></linearGradient>
<linearGradient id="a111" href="#ta" x2="426"><stop offset="0" stop-color="#3458a8"/><stop offset=".737" stop-color="#3354a6"/><stop offset=".941" stop-color="#3149a0"/><stop offset=".991" stop-color="#30449e"/><stop offset="1" stop-color="#3147a0"/></linearGradient>
<linearGradient id="a112" href="#ta" x2="425"><stop offset="0" stop-color="#3457a8"/><stop offset=".743" stop-color="#3353a6"/><stop offset=".947" stop-color="#3147a0"/><stop offset=".991" stop-color="#30439e"/><stop offset="1" stop-color="#30479f"/></linearGradient>
<linearGradient id="a113" href="#ta" x2="424"><stop offset="0" stop-color="#3456a7"/><stop offset=".745" stop-color="#3352a5"/><stop offset=".95" stop-color="#30469f"/><stop offset=".991" stop-color="#30439d"/><stop offset="1" stop-color="#30469f"/></linearGradient>
<linearGradient id="a114" href="#ta" x2="423"><stop offset="0" stop-color="#3355a7"/><stop offset=".747" stop-color="#3351a5"/><stop offset=".949" stop-color="#30469f"/><stop offset=".991" stop-color="#2f429d"/><stop offset="1" stop-color="#30459f"/></linearGradient>
<linearGradient id="a115" href="#ta" x2="422"><stop offset="0" stop-color="#3355a6"/><stop offset=".746" stop-color="#3251a4"/><stop offset=".952" stop-color="#30459e"/><stop offset=".991" stop-color="#2f419d"/><stop offset="1" stop-color="#30459e"/></linearGradient>
<linearGradient id="a116" href="#ta" x2="421"><stop offset="0" stop-color="#3354a6"/><stop offset=".749" stop-color="#3250a4"/><stop offset=".952" stop-color="#30449e"/><stop offset=".991" stop-color="#2f419c"/><stop offset="1" stop-color="#30449e"/></linearGradient>
<linearGradient id="a117" href="#ta" x2="420"><stop offset="0" stop-color="#3353a6"/><stop offset=".751" stop-color="#324fa4"/><stop offset=".955" stop-color="#30439e"/><stop offset=".994" stop-color="#2f419d"/><stop offset="1" stop-color="#30439e"/></linearGradient>
<linearGradient id="a118" href="#ta" x2="419"><stop offset="0" stop-color="#3353a5"/><stop offset=".75" stop-color="#324fa3"/><stop offset=".955" stop-color="#30439d"/><stop offset=".994" stop-color="#2f419c"/><stop offset="1" stop-color="#30439d"/></linearGradient>
<linearGradient id="a119" href="#ta" x2="418"><stop offset="0" stop-color="#3352a5"/><stop offset=".752" stop-color="#324ea3"/><stop offset=".994" stop-color="#2f409c"/><stop offset="1" stop-color="#2f429d"/></linearGradient>
<linearGradient id="a120" href="#ta" x2="417"><stop offset="0" stop-color="#3351a5"/><stop offset=".752" stop-color="#324da3"/><stop offset=".994" stop-color="#2f409c"/><stop offset="1" stop-color="#2f429d"/></linearGradient>
<linearGradient id="a121" href="#ta" x2="416"><stop offset="0" stop-color="#3251a4"/><stop offset=".754" stop-color="#324ca2"/><stop offset=".96" stop-color="#2f419c"/><stop offset=".994" stop-color="#30409c"/><stop offset="1" stop-color="#2f419d"/></linearGradient>
<linearGradient id="a122" href="#ta" x2="415"><stop offset="0" stop-color="#3250a4"/><stop offset=".756" stop-color="#314ca2"/><stop offset=".976" stop-color="#313f9b"/><stop offset="1" stop-color="#2f419c"/></linearGradient>
<linearGradient id="a123" href="#ta" x2="414"><stop offset="0" stop-color="#324fa4"/><stop offset=".755" stop-color="#314ba1"/><stop offset=".972" stop-color="#313f9b"/><stop offset=".994" stop-color="#313f9b"/><stop offset="1" stop-color="#2f409c"/></linearGradient>
<linearGradient id="a124" href="#ta" x2="413"><stop offset="0" stop-color="#324ea3"/><stop offset=".758" stop-color="#314aa1"/><stop offset=".969" stop-color="#313f9b"/><stop offset=".994" stop-color="#313f9b"/><stop offset="1" stop-color="#2f409c"/></linearGradient>
<linearGradient id="a125" href="#ta" x2="412"><stop offset="0" stop-color="#324ea3"/><stop offset=".76" stop-color="#3149a1"/><stop offset=".963" stop-color="#313f9b"/><stop offset=".994" stop-color="#323e9b"/><stop offset="1" stop-color="#303f9b"/></linearGradient>
<linearGradient id="a126" href="#ta" x2="411"><stop offset="0" stop-color="#324da2"/><stop offset=".759" stop-color="#3149a0"/><stop offset=".96" stop-color="#313f9b"/><stop offset=".994" stop-color="#323e9a"/><stop offset="1" stop-color="#303f9b"/></linearGradient>
<linearGradient id="a127" href="#ta" x2="410"><stop offset="0" stop-color="#324ca2"/><stop offset=".762" stop-color="#3148a0"/><stop offset=".954" stop-color="#313f9b"/><stop offset=".994" stop-color="#323e9a"/><stop offset="1" stop-color="#313f9b"/></linearGradient>
<linearGradient id="a128" href="#ta" x2="409"><stop offset="0" stop-color="#314ca2"/><stop offset=".764" stop-color="#3147a0"/><stop offset=".947" stop-color="#313f9b"/><stop offset=".994" stop-color="#333d9a"/><stop offset="1" stop-color="#313e9b"/></linearGradient>
<linearGradient id="a129" href="#ta" x2="408"><stop offset="0" stop-color="#314ba1"/><stop offset=".763" stop-color="#30479f"/><stop offset=".941" stop-color="#313f9b"/><stop offset=".994" stop-color="#333d99"/><stop offset="1" stop-color="#323e9a"/></linearGradient>
<linearGradient id="a130" href="#ta" x2="407"><stop offset="0" stop-color="#314aa1"/><stop offset=".766" stop-color="#30469f"/><stop offset=".938" stop-color="#313e9b"/><stop offset=".994" stop-color="#343d99"/><stop offset="1" stop-color="#323e9a"/></linearGradient>
<linearGradient id="a131" href="#ta" x2="406"><stop offset="0" stop-color="#3149a1"/><stop offset=".768" stop-color="#30459f"/><stop offset=".931" stop-color="#313e9b"/><stop offset=".994" stop-color="#343c99"/><stop offset="1" stop-color="#333d9a"/></linearGradient>
<linearGradient id="a132" href="#ta" x2="405"><stop offset="0" stop-color="#3149a0"/><stop offset=".767" stop-color="#30459e"/><stop offset=".925" stop-color="#313e9b"/><stop offset=".994" stop-color="#353c99"/><stop offset="1" stop-color="#333d9a"/></linearGradient>
<linearGradient id="a133" href="#ta" x2="404"><stop offset="0" stop-color="#3148a0"/><stop offset=".77" stop-color="#30449e"/><stop offset=".918" stop-color="#323e9b"/><stop offset=".994" stop-color="#353c98"/><stop offset="1" stop-color="#343d99"/></linearGradient>
<linearGradient id="a134" href="#ta" x2="403"><stop offset="0" stop-color="#3147a0"/><stop offset=".772" stop-color="#30439e"/><stop offset=".915" stop-color="#323e9a"/><stop offset=".994" stop-color="#363b98"/><stop offset="1" stop-color="#343c99"/></linearGradient>
<linearGradient id="a135" href="#ta" x2="402"><stop offset="0" stop-color="#30479f"/><stop offset=".771" stop-color="#30429d"/><stop offset=".914" stop-color="#323e9a"/><stop offset=".994" stop-color="#363b98"/><stop offset="1" stop-color="#353c99"/></linearGradient>
<linearGradient id="a136" href="#ta" x2="401"><stop offset="0" stop-color="#30469f"/><stop offset=".774" stop-color="#2f429d"/><stop offset=".93" stop-color="#343d99"/><stop offset=".994" stop-color="#373b98"/><stop offset="1" stop-color="#353c98"/></linearGradient>
<linearGradient id="a137" href="#ta" x2="400"><stop offset="0" stop-color="#30459f"/><stop offset=".776" stop-color="#2f419c"/><stop offset=".971" stop-color="#383a97"/><stop offset=".997" stop-color="#363b98"/><stop offset="1" stop-color="#363b98"/></linearGradient>
<linearGradient id="a138" href="#ta" x2="399"><stop offset="0" stop-color="#30459e"/><stop offset=".779" stop-color="#2f409c"/><stop offset=".994" stop-color="#383a97"/><stop offset="1" stop-color="#363b98"/></linearGradient>
<linearGradient id="a139" href="#ta" x2="398"><stop offset="0" stop-color="#30449e"/><stop offset=".785" stop-color="#2f409c"/><stop offset=".994" stop-color="#383a97"/><stop offset="1" stop-color="#373b98"/></linearGradient>
<linearGradient id="a140" href="#ta" x2="397"><stop offset="0" stop-color="#30449e"/><stop offset=".797" stop-color="#303f9b"/><stop offset=".994" stop-color="#393997"/><stop offset="1" stop-color="#373a97"/></linearGradient>
<linearGradient id="a141" href="#ta" x2="396"><stop offset="0" stop-color="#30439e"/><stop offset=".809" stop-color="#313f9b"/><stop offset=".994" stop-color="#393996"/><stop offset="1" stop-color="#383a97"/></linearGradient>
<linearGradient id="a142" href="#ta" x2="395"><stop offset="0" stop-color="#30439d"/><stop offset=".805" stop-color="#313e9b"/><stop offset=".994" stop-color="#393996"/><stop offset="1" stop-color="#383a97"/></linearGradient>
<linearGradient id="a143" href="#ta" x2="394"><stop offset="0" stop-color="#2f429d"/><stop offset=".792" stop-color="#313e9b"/><stop offset=".993" stop-color="#3a3996"/><stop offset="1" stop-color="#383997"/></linearGradient>
<linearGradient id="a144" href="#ta" x2="393"><stop offset="0" stop-color="#2f429d"/><stop offset=".778" stop-color="#313e9b"/><stop offset=".993" stop-color="#3a3896"/><stop offset="1" stop-color="#393996"/></linearGradient>
<linearGradient id="a145" href="#ta" x2="392"><stop offset="0" stop-color="#2f419d"/><stop offset=".77" stop-color="#323e9b"/><stop offset=".993" stop-color="#3a3896"/><stop offset="1" stop-color="#393996"/></linearGradient>
<linearGradient id="a146" href="#ta" x2="391"><stop offset="0" stop-color="#2f419c"/><stop offset=".773" stop-color="#323e9a"/><stop offset=".993" stop-color="#3b3895"/><stop offset="1" stop-color="#393996"/></linearGradient>
<linearGradient id="a147" href="#ta" x2="390"><stop offset="0" stop-color="#2f409c"/><stop offset=".792" stop-color="#333d9a"/><stop offset=".993" stop-color="#3b3895"/><stop offset="1" stop-color="#3a3896"/></linearGradient>
<linearGradient id="a148" href="#ta" x2="389"><stop offset="0" stop-color="#2f409c"/><stop offset=".795" stop-color="#343d99"/><stop offset=".993" stop-color="#3b3795"/><stop offset="1" stop-color="#3a3896"/></linearGradient>
<linearGradient id="a149" href="#ta" x2="388"><stop offset="0" stop-color="#303f9c"/><stop offset=".797" stop-color="#343c99"/><stop offset=".993" stop-color="#3c3795"/><stop offset="1" stop-color="#3a3896"/></linearGradient>
<linearGradient id="a150" href="#ta" x2="387"><stop offset="0" stop-color="#303f9b"/><stop offset=".797" stop-color="#343c99"/><stop offset=".993" stop-color="#3c3795"/><stop offset="1" stop-color="#3b3895"/></linearGradient>
<linearGradient id="a151" href="#ta" x2="386"><stop offset="0" stop-color="#313f9b"/><stop offset=".799" stop-color="#353c99"/><stop offset=".993" stop-color="#3c3794"/><stop offset="1" stop-color="#3b3895"/></linearGradient>
<linearGradient id="a152" href="#ta" x2="385"><stop offset="0" stop-color="#313e9b"/><stop offset=".802" stop-color="#363b98"/><stop offset=".993" stop-color="#3d3794"/><stop offset="1" stop-color="#3b3795"/></linearGradient>
<linearGradient id="a153" href="#ta" x2="384"><stop offset="0" stop-color="#323e9a"/><stop offset=".801" stop-color="#363b98"/><stop offset=".993" stop-color="#3d3694"/><stop offset="1" stop-color="#3c3795"/></linearGradient>
<linearGradient id="a154" href="#ta" x2="383"><stop offset="0" stop-color="#323e9a"/><stop offset=".804" stop-color="#363b98"/><stop offset=".993" stop-color="#3d3694"/><stop offset="1" stop-color="#3c3795"/></linearGradient>
<linearGradient id="a155" href="#ta" x2="382"><stop offset="0" stop-color="#333d9a"/><stop offset=".807" stop-color="#373a98"/><stop offset=".993" stop-color="#3e3694"/><stop offset="1" stop-color="#3d3794"/></linearGradient>
<linearGradient id="a156" href="#ta" x2="381"><stop offset="0" stop-color="#333d9a"/><stop offset=".806" stop-color="#373a97"/><stop offset=".993" stop-color="#3e3694"/><stop offset="1" stop-color="#3d3694"/></linearGradient>
<linearGradient id="a157" href="#ta" x2="380"><stop offset="0" stop-color="#343d99"/><stop offset=".809" stop-color="#383a97"/><stop offset=".993" stop-color="#3e3593"/><stop offset="1" stop-color="#3d3694"/></linearGradient>
<linearGradient id="a158" href="#ta" x2="379"><stop offset="0" stop-color="#343c99"/><stop offset=".812" stop-color="#383997"/><stop offset=".993" stop-color="#3f3593"/><stop offset="1" stop-color="#3e3694"/></linearGradient>
<linearGradient id="a159" href="#ta" x2="378"><stop offset="0" stop-color="#353c99"/><stop offset=".811" stop-color="#393996"/><stop offset=".993" stop-color="#3f3593"/><stop offset="1" stop-color="#3e3694"/></linearGradient>
<linearGradient id="a160" href="#ta" x2="377"><stop offset="0" stop-color="#353c99"/><stop offset=".814" stop-color="#393996"/><stop offset=".993" stop-color="#3f3593"/><stop offset="1" stop-color="#3e3593"/></linearGradient>
<linearGradient id="a161" href="#ta" x2="376"><stop offset="0" stop-color="#353b98"/><stop offset=".817" stop-color="#3a3896"/><stop offset=".997" stop-color="#3f3593"/><stop offset="1" stop-color="#3f3593"/></linearGradient>
<linearGradient id="a162" href="#ta" x2="375"><stop offset="0" stop-color="#363b98"/><stop offset=".816" stop-color="#3a3896"/><stop offset=".997" stop-color="#3f3593"/><stop offset="1" stop-color="#3f3593"/></linearGradient>
<linearGradient id="a163" href="#ta" x2="374"><stop offset="0" stop-color="#363b98"/><stop offset=".819" stop-color="#3b3895"/><stop offset=".997" stop-color="#403493"/><stop offset="1" stop-color="#3f3593"/></linearGradient>
<linearGradient id="a164" href="#ta" x2="373"><stop offset="0" stop-color="#373a98"/><stop offset=".822" stop-color="#3b3795"/><stop offset=".997" stop-color="#403492"/><stop offset="1" stop-color="#403493"/></linearGradient>
<linearGradient id="a165" href="#ta" x2="372"><stop offset="0" stop-color="#373a97"/><stop offset=".821" stop-color="#3c3795"/><stop offset=".996" stop-color="#403492"/><stop offset="1" stop-color="#403492"/></linearGradient>
<linearGradient id="a166" href="#ta" x2="371"><stop offset="0" stop-color="#383a97"/><stop offset=".824" stop-color="#3c3795"/><stop offset=".996" stop-color="#413492"/><stop offset="1" stop-color="#403492"/></linearGradient>
<linearGradient id="a167" href="#ta" x2="370"><stop offset="0" stop-color="#383a97"/><stop offset=".827" stop-color="#3d3794"/><stop offset=".996" stop-color="#413392"/><stop offset="1" stop-color="#413492"/></linearGradient>
<linearGradient id="a168" href="#ta" x2="369"><stop offset="0" stop-color="#393997"/><stop offset=".826" stop-color="#3d3694"/><stop offset=".996" stop-color="#413392"/><stop offset="1" stop-color="#413492"/></linearGradient>
<linearGradient id="a169" href="#ta" x2="368"><stop offset="0" stop-color="#393996"/><stop offset=".829" stop-color="#3d3694"/><stop offset=".996" stop-color="#423391"/><stop offset="1" stop-color="#413392"/></linearGradient>
<linearGradient id="a170" href="#ta" x2="367"><stop offset="0" stop-color="#393996"/><stop offset=".832" stop-color="#3e3694"/><stop offset=".996" stop-color="#423391"/><stop offset="1" stop-color="#423391"/></linearGradient>
<linearGradient id="a171" href="#ta" x2="366"><stop offset="0" stop-color="#3a3896"/><stop offset=".832" stop-color="#3e3593"/><stop offset=".996" stop-color="#423291"/><stop offset="1" stop-color="#423391"/></linearGradient>
<linearGradient id="a172" href="#ta" x2="365"><stop offset="0" stop-color="#3a3896"/><stop offset=".835" stop-color="#3f3593"/><stop offset=".996" stop-color="#433291"/><stop offset="1" stop-color="#423391"/></linearGradient>
<linearGradient id="a173" href="#ta" x2="364"><stop offset="0" stop-color="#3b3895"/><stop offset=".838" stop-color="#3f3593"/><stop offset=".996" stop-color="#433291"/><stop offset="1" stop-color="#433291"/></linearGradient>
<linearGradient id="a174" href="#ta" x2="363"><stop offset="0" stop-color="#3b3895"/><stop offset=".837" stop-color="#3f3593"/><stop offset=".996" stop-color="#433291"/><stop offset="1" stop-color="#433291"/></linearGradient>
<linearGradient id="a175" href="#ta" x2="362"><stop offset="0" stop-color="#3b3795"/><stop offset=".84" stop-color="#403492"/><stop offset=".996" stop-color="#443290"/><stop offset="1" stop-color="#433291"/></linearGradient>
<linearGradient id="a176" href="#ta" x2="361"><stop offset="0" stop-color="#3c3795"/><stop offset=".843" stop-color="#403492"/><stop offset=".996" stop-color="#443290"/><stop offset="1" stop-color="#433290"/></linearGradient>
<linearGradient id="a177" href="#ta" x2="360"><stop offset="0" stop-color="#3c3795"/><stop offset=".842" stop-color="#413492"/><stop offset=".996" stop-color="#443190"/><stop offset="1" stop-color="#443290"/></linearGradient>
<linearGradient id="a178" href="#ta" x2="359"><stop offset="0" stop-color="#3d3794"/><stop offset=".846" stop-color="#413392"/><stop offset=".996" stop-color="#443190"/><stop offset="1" stop-color="#443190"/></linearGradient>
<linearGradient id="a179" href="#ta" x2="358"><stop offset="0" stop-color="#3d3694"/><stop offset=".849" stop-color="#413392"/><stop offset=".996" stop-color="#453190"/><stop offset="1" stop-color="#443190"/></linearGradient>
<linearGradient id="a180" href="#ta" x2="357"><stop offset="0" stop-color="#3d3694"/><stop offset=".848" stop-color="#423391"/><stop offset=".996" stop-color="#453190"/><stop offset="1" stop-color="#453190"/></linearGradient>
<linearGradient id="a181" href="#ta" x2="356"><stop offset="0" stop-color="#3e3694"/><stop offset=".851" stop-color="#423391"/><stop offset=".993" stop-color="#46308f"/><stop offset="1" stop-color="#453190"/></linearGradient>
<linearGradient id="a182" href="#ta" x2="355"><stop offset="0" stop-color="#3e3593"/><stop offset=".854" stop-color="#433291"/><stop offset=".993" stop-color="#46308f"/><stop offset="1" stop-color="#453190"/></linearGradient>
<linearGradient id="a183" href="#ta" x2="354"><stop offset="0" stop-color="#3f3593"/><stop offset=".858" stop-color="#433291"/><stop offset=".993" stop-color="#47308f"/><stop offset="1" stop-color="#45308f"/></linearGradient>
<linearGradient id="a184" href="#ta" x2="353"><stop offset="0" stop-color="#3f3593"/><stop offset=".857" stop-color="#433290"/><stop offset=".992" stop-color="#47308e"/><stop offset="1" stop-color="#46308f"/></linearGradient>
<linearGradient id="a185" href="#ta" x2="352"><stop offset="0" stop-color="#3f3593"/><stop offset=".86" stop-color="#443290"/><stop offset=".992" stop-color="#48308e"/><stop offset="1" stop-color="#46308f"/></linearGradient>
<linearGradient id="a186" href="#ta" x2="351"><stop offset="0" stop-color="#403493"/><stop offset=".864" stop-color="#443190"/><stop offset=".992" stop-color="#48308e"/><stop offset="1" stop-color="#46308f"/></linearGradient>
<linearGradient id="a187" href="#ta" x2="350"><stop offset="0" stop-color="#403492"/><stop offset=".863" stop-color="#453190"/><stop offset=".992" stop-color="#49308d"/><stop offset="1" stop-color="#47308e"/></linearGradient>
<linearGradient id="a188" href="#ta" x2="349"><stop offset="0" stop-color="#413492"/><stop offset=".866" stop-color="#453190"/><stop offset=".989" stop-color="#4a2f8d"/><stop offset="1" stop-color="#48308e"/></linearGradient>
<linearGradient id="a189" href="#ta" x2="348"><stop offset="0" stop-color="#413392"/><stop offset=".87" stop-color="#45308f"/><stop offset=".989" stop-color="#4b2f8c"/><stop offset="1" stop-color="#48308e"/></linearGradient>
<linearGradient id="a190" href="#ta" x2="347"><stop offset="0" stop-color="#413392"/><stop offset=".873" stop-color="#46308f"/><stop offset=".988" stop-color="#4b2f8c"/><stop offset="1" stop-color="#49308d"/></linearGradient>
<linearGradient id="a191" href="#ta" x2="346"><stop offset="0" stop-color="#423391"/><stop offset=".869" stop-color="#46308f"/><stop offset=".988" stop-color="#4c2f8c"/><stop offset="1" stop-color="#492f8d"/></linearGradient>
<linearGradient id="a192" href="#ta" x2="345"><stop offset="0" stop-color="#423391"/><stop offset=".864" stop-color="#47308f"/><stop offset=".988" stop-color="#4c2f8b"/><stop offset="1" stop-color="#4a2f8d"/></linearGradient>
<linearGradient id="a193" href="#ta" x2="344"><stop offset="0" stop-color="#433291"/><stop offset=".856" stop-color="#47308e"/><stop offset=".988" stop-color="#4d2f8b"/><stop offset="1" stop-color="#4a2f8c"/></linearGradient>
<linearGradient id="a194" href="#ta" x2="343"><stop offset="0" stop-color="#433291"/><stop offset=".848" stop-color="#47308e"/><stop offset=".988" stop-color="#4d2f8b"/><stop offset="1" stop-color="#4b2f8c"/></linearGradient>
<linearGradient id="a195" href="#ta" x2="342"><stop offset="0" stop-color="#433290"/><stop offset=".835" stop-color="#47308e"/><stop offset=".992" stop-color="#4d2f8b"/><stop offset="1" stop-color="#4b2f8c"/></linearGradient>
<linearGradient id="a196" href="#ta" x2="341"><stop offset="0" stop-color="#443290"/><stop offset=".827" stop-color="#48308e"/><stop offset=".992" stop-color="#4e2f8b"/><stop offset="1" stop-color="#4c2f8c"/></linearGradient>
<linearGradient id="a197" href="#ta" x2="340"><stop offset="0" stop-color="#443190"/><stop offset=".818" stop-color="#48308e"/><stop offset=".992" stop-color="#4e2f8a"/><stop offset="1" stop-color="#4c2f8b"/></linearGradient>
<linearGradient id="a198" href="#ta" x2="339"><stop offset="0" stop-color="#443190"/><stop offset=".813" stop-color="#48308e"/><stop offset=".992" stop-color="#4f2e8a"/><stop offset="1" stop-color="#4d2f8b"/></linearGradient>
<linearGradient id="a199" href="#ta" x2="338"><stop offset="0" stop-color="#443190"/><stop offset=".809" stop-color="#48308e"/><stop offset=".992" stop-color="#4f2e8a"/><stop offset="1" stop-color="#4e2f8b"/></linearGradient>
<linearGradient id="a200" href="#ta" x2="337"><stop offset="0" stop-color="#453190"/><stop offset=".8" stop-color="#48308e"/><stop offset=".996" stop-color="#4f2e8a"/><stop offset="1" stop-color="#4e2f8a"/></linearGradient>
<linearGradient id="a201" href="#ta" x2="336"><stop offset="0" stop-color="#453190"/><stop offset=".795" stop-color="#49308d"/><stop offset=".996" stop-color="#4f2e8a"/><stop offset="1" stop-color="#4e2e8a"/></linearGradient>
<linearGradient id="a202" href="#ta" x2="335"><stop offset="0" stop-color="#453190"/><stop offset=".786" stop-color="#492f8d"/><stop offset=".996" stop-color="#4f2e8a"/><stop offset="1" stop-color="#4f2e8a"/></linearGradient>
<linearGradient id="a203" href="#ta" x2="334"><stop offset="0" stop-color="#45318f"/><stop offset=".777" stop-color="#492f8d"/><stop offset=".996" stop-color="#4f2e89"/><stop offset="1" stop-color="#4f2e8a"/></linearGradient>
<linearGradient id="a204" href="#ta" x2="333"><stop offset="0" stop-color="#45308f"/><stop offset=".772" stop-color="#492f8d"/><stop offset=".996" stop-color="#502e89"/><stop offset="1" stop-color="#4f2e8a"/></linearGradient>
<linearGradient id="a205" href="#ta" x2="332"><stop offset="0" stop-color="#46308f"/><stop offset=".776" stop-color="#4a2f8d"/><stop offset=".996" stop-color="#502e89"/><stop offset="1" stop-color="#502e89"/></linearGradient>
<linearGradient id="a206" href="#ta" x2="331"><stop offset="0" stop-color="#46308f"/><stop offset=".783" stop-color="#4a2f8d"/><stop offset=".996" stop-color="#502e89"/><stop offset="1" stop-color="#502e89"/></linearGradient>
<linearGradient id="a207" href="#ta" x2="330"><stop offset="0" stop-color="#46308f"/><stop offset=".79" stop-color="#4b2f8c"/><stop offset=".996" stop-color="#512e89"/><stop offset="1" stop-color="#502e89"/></linearGradient>
<linearGradient id="a208" href="#ta" x2="329"><stop offset="0" stop-color="#46308f"/><stop offset=".793" stop-color="#4b2f8c"/><stop offset=".996" stop-color="#512e89"/><stop offset="1" stop-color="#502e89"/></linearGradient>
<linearGradient id="a209" href="#ta" x2="328"><stop offset="0" stop-color="#47308f"/><stop offset=".797" stop-color="#4c2f8c"/><stop offset=".996" stop-color="#512e88"/><stop offset="1" stop-color="#512e89"/></linearGradient>
<linearGradient id="a210" href="#ta" x2="327"><stop offset="0" stop-color="#47308e"/><stop offset=".796" stop-color="#4c2f8c"/><stop offset=".996" stop-color="#512e88"/><stop offset="1" stop-color="#512e89"/></linearGradient>
<linearGradient id="a211" href="#ta" x2="326"><stop offset="0" stop-color="#47308e"/><stop offset=".799" stop-color="#4c2f8b"/><stop offset=".996" stop-color="#522e88"/><stop offset="1" stop-color="#512e88"/></linearGradient>
<linearGradient id="a212" href="#ta" x2="325"><stop offset="0" stop-color="#48308e"/><stop offset=".798" stop-color="#4d2f8b"/><stop offset=".996" stop-color="#522e88"/><stop offset="1" stop-color="#512e88"/></linearGradient>
<linearGradient id="a213" href="#ta" x2="324"><stop offset="0" stop-color="#48308e"/><stop offset=".802" stop-color="#4d2f8b"/><stop offset=".996" stop-color="#522e88"/><stop offset="1" stop-color="#522e88"/></linearGradient>
<linearGradient id="a214" href="#ta" x2="323"><stop offset="0" stop-color="#48308e"/><stop offset=".805" stop-color="#4d2f8b"/><stop offset=".996" stop-color="#522e88"/><stop offset="1" stop-color="#522e88"/></linearGradient>
<linearGradient id="a215" href="#ta" x2="322"><stop offset="0" stop-color="#492f8d"/><stop offset=".804" stop-color="#4e2f8a"/><stop offset=".996" stop-color="#532e87"/><stop offset="1" stop-color="#522e88"/></linearGradient>
<linearGradient id="a216" href="#ta" x2="321"><stop offset="0" stop-color="#492f8d"/><stop offset=".808" stop-color="#4e2f8a"/><stop offset=".996" stop-color="#532e87"/><stop offset="1" stop-color="#532e88"/></linearGradient>
<linearGradient id="a217" href="#ta" x2="320"><stop offset="0" stop-color="#4a2f8d"/><stop offset=".807" stop-color="#4f2e8a"/><stop offset=".996" stop-color="#532e87"/><stop offset="1" stop-color="#532e87"/></linearGradient>
<linearGradient id="a218" href="#ta" x2="319"><stop offset="0" stop-color="#4a2f8d"/><stop offset=".81" stop-color="#4f2e8a"/><stop offset=".996" stop-color="#542e87"/><stop offset="1" stop-color="#532e87"/></linearGradient>
<linearGradient id="a219" href="#ta" x2="318"><stop offset="0" stop-color="#4a2f8c"/><stop offset=".814" stop-color="#4f2e89"/><stop offset=".996" stop-color="#542d87"/><stop offset="1" stop-color="#532e87"/></linearGradient>
<linearGradient id="a220" href="#ta" x2="317"><stop offset="0" stop-color="#4b2f8c"/><stop offset=".813" stop-color="#502e89"/><stop offset=".996" stop-color="#542d87"/><stop offset="1" stop-color="#542e87"/></linearGradient>
<linearGradient id="a221" href="#ta" x2="316"><stop offset="0" stop-color="#4b2f8c"/><stop offset=".817" stop-color="#502e89"/><stop offset=".996" stop-color="#542d87"/><stop offset="1" stop-color="#542d87"/></linearGradient>
<linearGradient id="a222" href="#ta" x2="315"><stop offset="0" stop-color="#4c2f8c"/><stop offset=".82" stop-color="#512e89"/><stop offset=".996" stop-color="#552d86"/><stop offset="1" stop-color="#542d87"/></linearGradient>
<linearGradient id="a223" href="#ta" x2="314"><stop offset="0" stop-color="#4c2f8c"/><stop offset=".824" stop-color="#512e89"/><stop offset=".996" stop-color="#552d86"/><stop offset="1" stop-color="#542d87"/></linearGradient>
<linearGradient id="a224" href="#ta" x2="313"><stop offset="0" stop-color="#4c2f8b"/><stop offset=".823" stop-color="#512e88"/><stop offset=".996" stop-color="#552d86"/><stop offset="1" stop-color="#552d86"/></linearGradient>
<linearGradient id="a225" href="#ta" x2="312"><stop offset="0" stop-color="#4d2f8b"/><stop offset=".827" stop-color="#522e88"/><stop offset=".996" stop-color="#552d86"/><stop offset="1" stop-color="#552d86"/></linearGradient>
<linearGradient id="a226" href="#ta" x2="311"><stop offset="0" stop-color="#4d2f8b"/><stop offset=".83" stop-color="#522e88"/><stop offset=".996" stop-color="#562d86"/><stop offset="1" stop-color="#552d86"/></linearGradient>
<linearGradient id="a227" href="#ta" x2="310"><stop offset="0" stop-color="#4d2f8b"/><stop offset=".834" stop-color="#522e88"/><stop offset=".996" stop-color="#562d86"/><stop offset="1" stop-color="#552d86"/></linearGradient>
<linearGradient id="a228" href="#ta" x2="309"><stop offset="0" stop-color="#4e2f8a"/><stop offset=".833" stop-color="#532e87"/><stop offset=".995" stop-color="#562d86"/><stop offset="1" stop-color="#562d86"/></linearGradient>
<linearGradient id="a229" href="#ta" x2="308"><stop offset="0" stop-color="#4e2f8a"/><stop offset=".837" stop-color="#532e87"/><stop offset=".995" stop-color="#562d85"/><stop offset="1" stop-color="#562d86"/></linearGradient>
<linearGradient id="a230" href="#ta" x2="307"><stop offset="0" stop-color="#4f2e8a"/><stop offset=".841" stop-color="#542e87"/><stop offset=".995" stop-color="#572d85"/><stop offset="1" stop-color="#562d85"/></linearGradient>
<linearGradient id="a231" href="#ta" x2="306"><stop offset="0" stop-color="#4f2e8a"/><stop offset=".845" stop-color="#542d87"/><stop offset=".995" stop-color="#572d85"/><stop offset="1" stop-color="#562d85"/></linearGradient>
<linearGradient id="a232" href="#ta" x2="305"><stop offset="0" stop-color="#4f2e8a"/><stop offset=".849" stop-color="#542d86"/><stop offset=".995" stop-color="#572d85"/><stop offset="1" stop-color="#572d85"/></linearGradient>
<linearGradient id="a233" href="#ta" x2="304"><stop offset="0" stop-color="#502e89"/><stop offset=".848" stop-color="#552d86"/><stop offset="1" stop-color="#572d85"/></linearGradient>
<linearGradient id="a234" href="#ta" x2="303"><stop offset="0" stop-color="#502e89"/><stop offset=".852" stop-color="#552d86"/><stop offset="1" stop-color="#572d85"/></linearGradient>
<linearGradient id="a235" href="#ta" x2="302"><stop offset="0" stop-color="#502e89"/><stop offset=".856" stop-color="#562d86"/><stop offset="1" stop-color="#572d85"/></linearGradient>
<linearGradient id="a236" href="#ta" x2="301"><stop offset="0" stop-color="#512e89"/><stop offset=".86" stop-color="#562d86"/><stop offset="1" stop-color="#582d85"/></linearGradient>
<linearGradient id="a237" href="#ta" x2="300"><stop offset="0" stop-color="#512e88"/><stop offset=".864" stop-color="#562d85"/><stop offset="1" stop-color="#582d84"/></linearGradient>
<linearGradient id="a238" href="#ta" x2="299"><stop offset="0" stop-color="#522e88"/><stop offset=".863" stop-color="#572d85"/><stop offset="1" stop-color="#582d84"/></linearGradient>
<linearGradient id="a239" href="#ta" x2="298"><stop offset="0" stop-color="#522e88"/><stop offset=".867" stop-color="#572d85"/><stop offset="1" stop-color="#582d84"/></linearGradient>
<linearGradient id="a240" href="#ta" x2="297"><stop offset="0" stop-color="#522e88"/><stop offset=".871" stop-color="#572d85"/><stop offset="1" stop-color="#592d84"/></linearGradient>
<linearGradient id="a241" href="#ta" x2="296"><stop offset="0" stop-color="#532e88"/><stop offset=".876" stop-color="#582d84"/><stop offset="1" stop-color="#592d84"/></linearGradient>
<linearGradient id="a242" href="#ta" x2="295"><stop offset="0" stop-color="#532e87"/><stop offset=".88" stop-color="#582d84"/><stop offset="1" stop-color="#592d84"/></linearGradient>
<linearGradient id="a243" href="#ta" x2="294"><stop offset="0" stop-color="#532e87"/><stop offset=".884" stop-color="#592d84"/><stop offset="1" stop-color="#592c84"/></linearGradient>
<linearGradient id="a244" href="#ta" x2="293"><stop offset="0" stop-color="#542d87"/><stop offset=".883" stop-color="#592d84"/><stop offset="1" stop-color="#5a2c83"/></linearGradient>
<linearGradient id="a245" href="#ta" x2="292"><stop offset="0" stop-color="#542d87"/><stop offset=".888" stop-color="#592c84"/><stop offset="1" stop-color="#5a2c83"/></linearGradient>
<linearGradient id="a246" href="#ta" x2="291"><stop offset="0" stop-color="#552d86"/><stop offset=".892" stop-color="#5a2c83"/><stop offset="1" stop-color="#5a2c83"/></linearGradient>
<linearGradient id="a247" href="#ta" x2="290"><stop offset="0" stop-color="#552d86"/><stop offset=".897" stop-color="#5a2c83"/><stop offset="1" stop-color="#5a2c83"/></linearGradient>
<linearGradient id="a248" href="#ta" x2="289"><stop offset="0" stop-color="#552d86"/><stop offset=".901" stop-color="#5a2c83"/><stop offset="1" stop-color="#5b2c83"/></linearGradient>
<linearGradient id="a249" href="#ta" x2="288"><stop offset="0" stop-color="#562d86"/><stop offset=".905" stop-color="#5b2c83"/><stop offset="1" stop-color="#5b2c83"/></linearGradient>
<linearGradient id="a250" href="#ta" x2="287"><stop offset="0" stop-color="#562d85"/><stop offset=".91" stop-color="#5b2c82"/><stop offset="1" stop-color="#5b2c82"/></linearGradient>
<linearGradient id="a251" href="#ta" x2="286"><stop offset="0" stop-color="#562d85"/><stop offset=".915" stop-color="#5c2c82"/><stop offset="1" stop-color="#5b2c82"/></linearGradient>
<linearGradient id="a252" href="#ta" x2="285"><stop offset="0" stop-color="#572d85"/><stop offset=".919" stop-color="#5c2c82"/><stop offset="1" stop-color="#5c2c82"/></linearGradient>
<linearGradient id="a253" href="#ta" x2="284"><stop offset="0" stop-color="#572d85"/><stop offset=".934" stop-color="#5c2c82"/><stop offset="1" stop-color="#5c2c82"/></linearGradient>
<linearGradient id="a254" href="#ta" x2="283"><stop offset="0" stop-color="#582d85"/><stop offset=".954" stop-color="#5d2b81"/><stop offset="1" stop-color="#5c2c82"/></linearGradient>
<linearGradient id="a255" href="#ta" x2="282"><stop offset="0" stop-color="#582d84"/><stop offset="1" stop-color="#5c2c82"/></linearGradient>
<linearGradient id="a256" href="#ta" x2="281"><stop offset="0" stop-color="#582d84"/><stop offset="1" stop-color="#5d2c81"/></linearGradient>
<linearGradient id="a257" href="#ta" x2="280"><stop offset="0" stop-color="#582d84"/><stop offset="1" stop-color="#5d2b81"/></linearGradient>
<linearGradient id="a258" href="#ta" x2="279"><stop offset="0" stop-color="#592d84"/><stop offset="1" stop-color="#5d2b81"/></linearGradient>
<linearGradient id="a259" href="#ta" x2="278"><stop offset="0" stop-color="#592d84"/><stop offset="1" stop-color="#5d2b81"/></linearGradient>
<linearGradient id="a260" href="#ta" x2="277"><stop offset="0" stop-color="#592d84"/><stop offset="1" stop-color="#5d2b81"/></linearGradient>
<linearGradient id="a261" href="#ta" x2="276"><stop offset="0" stop-color="#592c84"/><stop offset="1" stop-color="#5d2b80"/></linearGradient>
<linearGradient id="a262" href="#ta" x2="275"><stop offset="0" stop-color="#5a2c83"/><stop offset="1" stop-color="#5d2b80"/></linearGradient>
<linearGradient id="a263" href="#ta" x2="274"><stop offset="0" stop-color="#5a2c83"/><stop offset="1" stop-color="#5e2b80"/></linearGradient>
<linearGradient id="a264" href="#ta" x2="273"><stop offset="0" stop-color="#5a2c83"/><stop offset="1" stop-color="#5e2b80"/></linearGradient>
<linearGradient id="a265" href="#ta" x2="272"><stop offset="0" stop-color="#5a2c83"/><stop offset="1" stop-color="#5e2a80"/></linearGradient>
<linearGradient id="a266" href="#ta" x2="271"><stop offset="0" stop-color="#5b2c83"/><stop offset="1" stop-color="#5e2a80"/></linearGradient>
<linearGradient id="a267" href="#ta" x2="270"><stop offset="0" stop-color="#5b2c83"/><stop offset="1" stop-color="#5e2a80"/></linearGradient>
<linearGradient id="a268" href="#ta" x2="269"><stop offset="0" stop-color="#5b2c82"/><stop offset="1" stop-color="#5e2a7f"/></linearGradient>
<linearGradient id="a269" href="#ta" x2="268"><stop offset="0" stop-color="#5b2c82"/><stop offset="1" stop-color="#5e2a7f"/></linearGradient>
<linearGradient id="a270" href="#ta" x2="267"><stop offset="0" stop-color="#5c2c82"/><stop offset="1" stop-color="#5e2a7f"/></linearGradient>
<linearGradient id="a271" href="#ta" x2="266"><stop offset="0" stop-color="#5c2c82"/><stop offset="1" stop-color="#5e2a7f"/></linearGradient>
<linearGradient id="a272" href="#ta" x2="265"><stop offset="0" stop-color="#5c2c82"/><stop offset="1" stop-color="#5f2a7f"/></linearGradient>
<linearGradient id="a273" href="#ta" x2="264"><stop offset="0" stop-color="#5c2c82"/><stop offset="1" stop-color="#5f2a7f"/></linearGradient>
<linearGradient id="a274" href="#ta" x2="263"><stop offset="0" stop-color="#5c2c81"/><stop offset="1" stop-color="#5f2a7f"/></linearGradient>
<linearGradient id="a275" href="#ta" x2="262"><stop offset="0" stop-color="#5d2b81"/><stop offset="1" stop-color="#5f297e"/></linearGradient>
<linearGradient id="a276" href="#ta" x2="261"><stop offset="0" stop-color="#5d2b81"/><stop offset="1" stop-color="#5f297e"/></linearGradient>
<linearGradient id="a277" href="#ta" x2="260"><stop offset="0" stop-color="#5d2b81"/><stop offset="1" stop-color="#5f297e"/></linearGradient>
<linearGradient id="a278" href="#ta" x2="259"><stop offset="0" stop-color="#5d2b81"/><stop offset="1" stop-color="#5f297e"/></linearGradient>
<linearGradient id="a279" href="#ta" x2="258"><stop offset="0" stop-color="#5d2b80"/><stop offset="1" stop-color="#5f297e"/></linearGradient>
<linearGradient id="a280" href="#ta" x2="257"><stop offset="0" stop-color="#5e2b80"/><stop offset="1" stop-color="#60297e"/></linearGradient>
<linearGradient id="a281" href="#ta" x2="256"><stop offset="0" stop-color="#5e2b80"/><stop offset="1" stop-color="#60297e"/></linearGradient>
<linearGradient id="a282" href="#ta" x2="255"><stop offset="0" stop-color="#5e2a80"/><stop offset="1" stop-color="#60297d"/></linearGradient>
<linearGradient id="a283" href="#ta" x2="254"><stop offset="0" stop-color="#5e2a80"/><stop offset="1" stop-color="#60297d"/></linearGradient>
<linearGradient id="a284" href="#ta" x2="253"><stop offset="0" stop-color="#5e2a7f"/><stop offset="1" stop-color="#60287d"/></linearGradient>
<linearGradient id="a285" href="#ta" x2="252"><stop offset="0" stop-color="#5e2a7f"/><stop offset="1" stop-color="#60287d"/></linearGradient>
<linearGradient id="a286" href="#ta" x2="251"><stop offset="0" stop-color="#5f2a7f"/><stop offset="1" stop-color="#60287d"/></linearGradient>
<linearGradient id="a287" href="#ta" x2="250"><stop offset="0" stop-color="#5f2a7f"/><stop offset="1" stop-color="#60287d"/></linearGradient>
<linearGradient id="a288" href="#ta" x2="249"><stop offset="0" stop-color="#5f297f"/><stop offset="1" stop-color="#61287d"/></linearGradient>
<linearGradient id="a289" href="#ta" x2="248"><stop offset="0" stop-color="#5f297e"/><stop offset="1" stop-color="#61287c"/></linearGradient>
<linearGradient id="a290" href="#ta" x2="247"><stop offset="0" stop-color="#5f297e"/><stop offset="1" stop-color="#61287c"/></linearGradient>
<linearGradient id="a291" href="#ta" x2="246"><stop offset="0" stop-color="#5f297e"/><stop offset="1" stop-color="#61287c"/></linearGradient>
<linearGradient id="a292" href="#ta" x2="245"><stop offset="0" stop-color="#60297e"/><stop offset="1" stop-color="#61287c"/></linearGradient>
<linearGradient id="a293" href="#ta" x2="244"><stop offset="0" stop-color="#60297d"/><stop offset="1" stop-color="#61277c"/></linearGradient>
<linearGradient id="a294" href="#ta" x2="243"><stop offset="0" stop-color="#60297d"/><stop offset="1" stop-color="#61277c"/></linearGradient>
<linearGradient id="a295" href="#ta" x2="242"><stop offset="0" stop-color="#60287d"/><stop offset="1" stop-color="#61277b"/></linearGradient>
<linearGradient id="a296" href="#ta" x2="241"><stop offset="0" stop-color="#60287d"/><stop offset="1" stop-color="#62277b"/></linearGradient>
<linearGradient id="a297" href="#ta" x2="240"><stop offset="0" stop-color="#60287d"/><stop offset="1" stop-color="#62277b"/></linearGradient>
<linearGradient id="a298" href="#ta" x2="239"><stop offset="0" stop-color="#61287c"/><stop offset="1" stop-color="#62277b"/></linearGradient>
<linearGradient id="a299" href="#ta" x2="238"><stop offset="0" stop-color="#61287c"/><stop offset="1" stop-color="#62277b"/></linearGradient>
<linearGradient id="a300" href="#ta" x2="237"><stop offset="0" stop-color="#61287c"/><stop offset="1" stop-color="#62277b"/></linearGradient>
<linearGradient id="a301" href="#ta" x2="236"><stop offset="0" stop-color="#61287c"/><stop offset="1" stop-color="#62277b"/></linearGradient>
<linearGradient id="a302" href="#ta" x2="235"><stop offset="0" stop-color="#61287c"/><stop offset="1" stop-color="#62267a"/></linearGradient>
<linearGradient id="a303" href="#ta" x2="234"><stop offset="0" stop-color="#61287c"/><stop offset="1" stop-color="#62267a"/></linearGradient>
<linearGradient id="a304" href="#ta" x2="233"><stop offset="0" stop-color="#61277c"/><stop offset="1" stop-color="#63267a"/></linearGradient>
<linearGradient id="a305" href="#ta" x2="232"><stop offset="0" stop-color="#61277c"/><stop offset="1" stop-color="#63267a"/></linearGradient>
<linearGradient id="a306" href="#ta" x2="231"><stop offset="0" stop-color="#61277b"/><stop offset="1" stop-color="#63267a"/></linearGradient>
<linearGradient id="a307" href="#ta" x2="230"><stop offset="0" stop-color="#62277b"/><stop offset="1" stop-color="#63267a"/></linearGradient>
<linearGradient id="a308" href="#ta" x2="229"><stop offset="0" stop-color="#62277b"/><stop offset="1" stop-color="#63267a"/></linearGradient>
<linearGradient id="a309" href="#ta" x2="228"><stop offset="0" stop-color="#62277b"/><stop offset="1" stop-color="#63267a"/></linearGradient>
<linearGradient id="a310" href="#ta" x2="227"><stop offset="0" stop-color="#62277b"/><stop offset="1" stop-color="#63267a"/></linearGradient>
<linearGradient id="a311" href="#ta" x2="226"><stop offset="0" stop-color="#62277b"/><stop offset="1" stop-color="#632679"/></linearGradient>
<linearGradient id="a312" href="#ta" x2="225"><stop offset="0" stop-color="#62277b"/><stop offset="1" stop-color="#632679"/></linearGradient>
<linearGradient id="a313" href="#ta" x2="224"><stop offset="0" stop-color="#62277b"/><stop offset="1" stop-color="#632679"/></linearGradient>
<linearGradient id="a314" href="#ta" x2="223"><stop offset="0" stop-color="#62277a"/><stop offset="1" stop-color="#632679"/></linearGradient>
<linearGradient id="a315" href="#ta" x2="222"><stop offset="0" stop-color="#62267a"/><stop offset="1" stop-color="#632679"/></linearGradient>
<linearGradient id="a316" href="#ta" x2="221"><stop offset="0" stop-color="#62267a"/><stop offset="1" stop-color="#642579"/></linearGradient>
<linearGradient id="a317" href="#ta" x2="220"><stop offset="0" stop-color="#63267a"/><stop offset="1" stop-color="#642579"/></linearGradient>
<linearGradient id="a318" href="#ta" x2="219"><stop offset="0" stop-color="#63267a"/><stop offset="1" stop-color="#642579"/></linearGradient>
<linearGradient id="a319" href="#ta" x2="218"><stop offset="0" stop-color="#63267a"/><stop offset="1" stop-color="#642579"/></linearGradient>
<linearGradient id="a320" href="#ta" x2="217"><stop offset="0" stop-color="#63267a"/><stop offset="1" stop-color="#642579"/></linearGradient>
<linearGradient id="a321" href="#ta" x2="216"><stop offset="0" stop-color="#63267a"/><stop offset="1" stop-color="#642578"/></linearGradient>
<linearGradient id="a322" href="#ta" x2="215"><stop offset="0" stop-color="#632679"/><stop offset="1" stop-color="#642578"/></linearGradient>
<linearGradient id="a323" href="#ta" x2="214"><stop offset="0" stop-color="#632679"/><stop offset="1" stop-color="#642578"/></linearGradient>
<linearGradient id="a324" href="#ta" x2="213"><stop offset="0" stop-color="#632679"/><stop offset="1" stop-color="#642578"/></linearGradient>
<linearGradient id="a325" href="#ta" x2="212"><stop offset="0" stop-color="#632679"/><stop offset="1" stop-color="#642578"/></linearGradient>
<linearGradient id="a326" href="#ta" x2="211"><stop offset="0" stop-color="#642579"/><stop offset="1" stop-color="#642578"/></linearGradient>
<linearGradient id="a327" href="#ta" x2="210"><stop offset="0" stop-color="#642579"/><stop offset="1" stop-color="#642578"/></linearGradient>
<linearGradient id="a328" href="#ta" x2="209"><stop offset="0" stop-color="#642579"/><stop offset="1" stop-color="#652578"/></linearGradient>
<linearGradient id="a329" href="#ta" x2="208"><stop offset="0" stop-color="#642579"/><stop offset="1" stop-color="#652578"/></linearGradient>
<linearGradient id="a330" href="#ta" x2="207"><stop offset="0" stop-color="#642578"/><stop offset="1" stop-color="#652478"/></linearGradient>
<linearGradient id="a331" href="#ta" x2="206"><stop offset="0" stop-color="#642578"/><stop offset="1" stop-color="#652477"/></linearGradient>
<linearGradient id="a332" href="#ta" x2="205"><stop offset="0" stop-color="#642578"/><stop offset="1" stop-color="#652477"/></linearGradient>
<linearGradient id="a333" href="#ta" x2="204"><stop offset="0" stop-color="#642578"/><stop offset="1" stop-color="#652477"/></linearGradient>
<linearGradient id="a334" href="#ta" x2="203"><stop offset="0" stop-color="#642578"/><stop offset="1" stop-color="#652477"/></linearGradient>
<linearGradient id="a335" href="#ta" x2="202"><stop offset="0" stop-color="#642578"/><stop offset="1" stop-color="#652477"/></linearGradient>
<linearGradient id="a336" href="#ta" x2="201"><stop offset="0" stop-color="#652578"/><stop offset="1" stop-color="#652477"/></linearGradient>
<linearGradient id="a337" href="#ta" x2="200"><stop offset="0" stop-color="#652578"/><stop offset="1" stop-color="#652477"/></linearGradient>
<linearGradient id="a338" href="#ta" x2="199"><stop offset="0" stop-color="#652477"/><stop offset="1" stop-color="#652477"/></linearGradient>
<linearGradient id="a339" href="#ta" x2="198"><stop offset="0" stop-color="#652477"/><stop offset="1" stop-color="#652477"/></linearGradient>
<linearGradient id="a340" href="#ta" x2="197"><stop offset="0" stop-color="#652477"/><stop offset="1" stop-color="#662477"/></linearGradient>
<linearGradient id="a341" href="#ta" x2="196"><stop offset="0" stop-color="#652477"/><stop offset="1" stop-color="#662476"/></linearGradient>
<linearGradient id="a342" href="#ta" x2="195"><stop offset="0" stop-color="#652477"/><stop offset="1" stop-color="#662476"/></linearGradient>
<linearGradient id="a343" href="#ta" x2="194"><stop offset="0" stop-color="#652477"/><stop offset="1" stop-color="#662476"/></linearGradient>
<linearGradient id="a344" href="#ta" x2="193"><stop offset="0" stop-color="#652477"/><stop offset="1" stop-color="#662376"/></linearGradient>
<linearGradient id="a345" href="#ta" x2="192"><stop offset="0" stop-color="#652477"/><stop offset="1" stop-color="#662376"/></linearGradient>
<linearGradient id="a346" href="#ta" x2="191"><stop offset="0" stop-color="#662477"/><stop offset="1" stop-color="#662376"/></linearGradient>
<linearGradient id="a347" href="#ta" x2="190"><stop offset="0" stop-color="#662476"/><stop offset="1" stop-color="#662376"/></linearGradient>
<linearGradient id="a348" href="#ta" x2="189"><stop offset="0" stop-color="#662476"/><stop offset="1" stop-color="#662376"/></linearGradient>
<linearGradient id="a349" href="#ta" x2="188"><stop offset="0" stop-color="#662376"/><stop offset="1" stop-color="#662376"/></linearGradient>
<linearGradient id="a350" href="#ta" x2="187"><stop offset="0" stop-color="#662376"/><stop offset="1" stop-color="#662376"/></linearGradient>
<linearGradient id="a351" href="#ta" x2="186"><stop offset="0" stop-color="#662376"/><stop offset="1" stop-color="#662375"/></linearGradient>
<linearGradient id="a352" href="#ta" x2="185"><stop offset="0" stop-color="#662376"/><stop offset="1" stop-color="#672375"/></linearGradient>
<linearGradient id="a353" href="#ta" x2="184"><stop offset="0" stop-color="#662376"/><stop offset="1" stop-color="#672375"/></linearGradient>
<linearGradient id="a354" href="#ta" x2="183"><stop offset="0" stop-color="#662376"/><stop offset="1" stop-color="#672375"/></linearGradient>
<linearGradient id="a355" href="#ta" x2="182"><stop offset="0" stop-color="#662375"/><stop offset="1" stop-color="#672375"/></linearGradient>
<linearGradient id="a356" href="#ta" x2="181"><stop offset="0" stop-color="#672375"/><stop offset="1" stop-color="#672375"/></linearGradient>
<linearGradient id="a357" href="#ta" x2="180"><stop offset="0" stop-color="#672375"/><stop offset="1" stop-color="#672375"/></linearGradient>
<linearGradient id="a358" href="#ta" x2="179"><stop offset="0" stop-color="#672375"/><stop offset="1" stop-color="#672275"/></linearGradient>
<linearGradient id="a359" href="#ta" x2="178"><stop offset="0" stop-color="#672375"/><stop offset="1" stop-color="#672275"/></linearGradient>
<linearGradient id="a360" href="#ta" x2="177"><stop offset="0" stop-color="#672375"/><stop offset="1" stop-color="#672275"/></linearGradient>
<linearGradient id="a361" href="#ta" x2="176"><stop offset="0" stop-color="#672375"/><stop offset="1" stop-color="#672275"/></linearGradient>
<linearGradient id="a362" href="#ta" x2="175"><stop offset="0" stop-color="#672375"/><stop offset="1" stop-color="#672274"/></linearGradient>
<linearGradient id="a363" href="#ta" x2="174"><stop offset="0" stop-color="#672375"/><stop offset="1" stop-color="#672274"/></linearGradient>
<linearGradient id="a364" href="#ta" x2="173"><stop offset="0" stop-color="#672375"/><stop offset="1" stop-color="#672274"/></linearGradient>
<linearGradient id="a365" href="#ta" x2="172"><stop offset="0" stop-color="#672375"/><stop offset="1" stop-color="#672274"/></linearGradient>
<linearGradient id="a366" href="#ta" x2="171"><stop offset="0" stop-color="#672275"/><stop offset="1" stop-color="#672274"/></linearGradient>
<linearGradient id="a367" href="#ta" x2="170"><stop offset="0" stop-color="#672275"/><stop offset="1" stop-color="#672274"/></linearGradient>
<linearGradient id="a368" href="#ta" x2="169"><stop offset="0" stop-color="#672275"/><stop offset="1" stop-color="#672274"/></linearGradient>
<linearGradient id="a369" href="#ta" x2="168"><stop offset="0" stop-color="#672275"/><stop offset="1" stop-color="#672274"/></linearGradient>
<linearGradient id="a370" href="#ta" x2="167"><stop offset="0" stop-color="#672275"/><stop offset="1" stop-color="#672274"/></linearGradient>
<linearGradient id="a371" href="#ta" x2="166"><stop offset="0" stop-color="#672275"/><stop offset="1" stop-color="#682274"/></linearGradient>
<linearGradient id="a372" href="#ta" x2="165"><stop offset="0" stop-color="#672275"/><stop offset="1" stop-color="#682274"/></linearGradient>
<linearGradient id="a373" href="#ta" x2="164"><stop offset="0" stop-color="#672275"/><stop offset="1" stop-color="#682274"/></linearGradient>
<linearGradient id="a374" href="#ta" x2="163"><stop offset="0" stop-color="#672274"/><stop offset="1" stop-color="#682274"/></linearGradient>
<linearGradient id="a375" href="#ta" x2="162"><stop offset="0" stop-color="#672274"/><stop offset="1" stop-color="#682274"/></linearGradient>
<linearGradient id="a376" href="#ta" x2="161"><stop offset="0" stop-color="#672274"/><stop offset="1" stop-color="#682274"/></linearGradient>
<linearGradient id="a377" href="#ta" x2="160"><stop offset="0" stop-color="#672274"/><stop offset="1" stop-color="#682274"/></linearGradient>
<linearGradient id="a378" href="#ta" x2="159"><stop offset="0" stop-color="#672274"/><stop offset="1" stop-color="#682274"/></linearGradient>
<linearGradient id="a379" href="#ta" x2="158"><stop offset="0" stop-color="#672274"/><stop offset="1" stop-color="#682274"/></linearGradient>
<linearGradient id="a380" href="#ta" x2="157"><stop offset="0" stop-color="#672274"/><stop offset="1" stop-color="#682274"/></linearGradient>
<linearGradient id="a381" href="#ta" x2="156"><stop offset="0" stop-color="#682274"/><stop offset="1" stop-color="#682274"/></linearGradient>
<linearGradient id="a382" href="#ta" x2="155"><stop offset="0" stop-color="#682274"/><stop offset="1" stop-color="#682274"/></linearGradient>
<linearGradient id="a383" href="#ta" x2="154"><stop offset="0" stop-color="#682274"/><stop offset="1" stop-color="#682274"/></linearGradient>
<linearGradient id="a384" href="#ta" x2="153"><stop offset="0" stop-color="#682274"/><stop offset="1" stop-color="#682274"/></linearGradient>
<linearGradient id="a385" href="#ta" x2="152"><stop offset="0" stop-color="#682274"/><stop offset="1" stop-color="#682274"/></linearGradient>
<linearGradient id="a386" href="#ta" x2="151"><stop offset="0" stop-color="#682274"/><stop offset="1" stop-color="#682274"/></linearGradient>
<linearGradient id="a387" href="#ta" x2="150"><stop offset="0" stop-color="#682274"/><stop offset="1" stop-color="#682274"/></linearGradient>
<linearGradient id="a388" href="#ta" x2="149"><stop offset="0" stop-color="#682274"/><stop offset="1" stop-color="#682274"/></linearGradient>
<linearGradient id="a389" href="#ta" x2="148"><stop offset="0" stop-color="#682274"/><stop offset="1" stop-color="#682274"/></linearGradient>
<linearGradient id="a390" href="#ta" x2="147"><stop offset="0" stop-color="#682274"/><stop offset="1" stop-color="#682274"/></linearGradient>
<linearGradient id="a391" href="#ta" x2="146"><stop offset="0" stop-color="#682274"/><stop offset="1" stop-color="#682274"/></linearGradient>
<linearGradient id="a392" href="#ta" x2="145"><stop offset="0" stop-color="#682274"/><stop offset="1" stop-color="#682273"/></linearGradient>
<linearGradient id="a393" href="#ta" x2="144"><stop offset="0" stop-color="#682274"/><stop offset="1" stop-color="#682273"/></linearGradient>
<linearGradient id="a394" href="#ta" x2="143"><stop offset="0" stop-color="#682274"/><stop offset="1" stop-color="#682173"/></linearGradient>
<linearGradient id="a395" href="#ta" x2="142"><stop offset="0" stop-color="#682274"/><stop offset="1" stop-color="#682173"/></linearGradient>
<linearGradient id="a396" href="#ta" x2="141"><stop offset="0" stop-color="#682274"/><stop offset="1" stop-color="#682173"/></linearGradient>
<linearGradient id="a397" href="#ta" x2="140"><stop offset="0" stop-color="#682274"/><stop offset="1" stop-color="#682173"/></linearGradient>
<linearGradient id="a398" href="#ta" x2="139"><stop offset="0" stop-color="#682273"/><stop offset="1" stop-color="#682173"/></linearGradient>
<linearGradient id="a399" href="#ta" x2="138"><stop offset="0" stop-color="#682173"/><stop offset="1" stop-color="#682173"/></linearGradient>
<linearGradient id="a400" href="#ta" x2="137"><stop offset="0" stop-color="#682173"/><stop offset="1" stop-color="#682173"/></linearGradient>
<linearGradient id="a401" href="#ta" x2="136"><stop offset="0" stop-color="#682173"/><stop offset="1" stop-color="#682173"/></linearGradient>
<linearGradient id="a402" href="#ta" x2="135"><stop offset="0" stop-color="#682173"/><stop offset="1" stop-color="#682173"/></linearGradient>
<linearGradient id="a403" href="#ta" x2="134"><stop offset="0" stop-color="#682173"/><stop offset="1" stop-color="#682173"/></linearGradient>
<linearGradient id="a404" href="#ta" x2="133"><stop offset="0" stop-color="#682173"/><stop offset="1" stop-color="#682173"/></linearGradient>
<linearGradient id="a405" href="#ta" x2="132"><stop offset="0" stop-color="#682173"/><stop offset="1" stop-color="#682173"/></linearGradient>
<linearGradient id="a406" href="#ta" x2="131"><stop offset="0" stop-color="#682173"/><stop offset="1" stop-color="#682173"/></linearGradient>
<linearGradient id="a407" href="#ta" x2="130"><stop offset="0" stop-color="#682173"/><stop offset="1" stop-color="#682173"/></linearGradient>
<linearGradient id="a408" href="#ta" x2="129"><stop offset="0" stop-color="#682173"/><stop offset="1" stop-color="#692173"/></linearGradient>
<linearGradient id="a409" href="#ta" x2="128"><stop offset="0" stop-color="#682173"/><stop offset="1" stop-color="#692173"/></linearGradient>
<linearGradient id="a410" href="#ta" x2="127"><stop offset="0" stop-color="#692173"/><stop offset="1" stop-color="#692173"/></linearGradient>
<linearGradient id="a411" href="#ta" x2="126"><stop offset="0" stop-color="#692173"/><stop offset="1" stop-color="#692173"/></linearGradient>
<linearGradient id="a412" href="#ta" x2="125"><stop offset="0" stop-color="#692173"/><stop offset="1" stop-color="#692173"/></linearGradient>
<linearGradient id="a413" href="#ta" x2="124"><stop offset="0" stop-color="#692173"/><stop offset="1" stop-color="#692173"/></linearGradient>
<linearGradient id="a414" href="#ta" x2="123"><stop offset="0" stop-color="#692173"/><stop offset="1" stop-color="#692173"/></linearGradient>
<linearGradient id="a415" href="#ta" x2="122"><stop offset="0" stop-color="#692173"/><stop offset="1" stop-color="#692173"/></linearGradient>
<linearGradient id="a416" href="#ta" x2="121"><stop offset="0" stop-color="#692173"/><stop offset="1" stop-color="#692173"/></linearGradient>
<linearGradient id="a417" href="#ta" x2="120"><stop offset="0" stop-color="#692173"/><stop offset="1" stop-color="#692173"/></linearGradient>
<linearGradient id="a418" href="#ta" x2="119"><stop offset="0" stop-color="#692173"/><stop offset="1" stop-color="#692173"/></linearGradient>
<linearGradient id="a419" href="#ta" x2="118"><stop offset="0" stop-color="#692173"/><stop offset="1" stop-color="#692173"/></linearGradient>
<linearGradient id="a420" href="#ta" x2="117"><stop offset="0" stop-color="#692173"/><stop offset="1" stop-color="#692173"/></linearGradient>
<linearGradient id="a421" href="#ta" x2="116"><stop offset="0" stop-color="#692173"/><stop offset="1" stop-color="#692173"/></linearGradient>
<linearGradient id="a422" href="#ta" x2="115"><stop offset="0" stop-color="#692172"/><stop offset="1" stop-color="#692173"/></linearGradient>
<linearGradient id="a423" href="#ta" x2="114"><stop offset="0" stop-color="#692172"/><stop offset="1" stop-color="#692172"/></linearGradient>
<linearGradient id="a424" href="#ta" x2="113"><stop offset="0" stop-color="#692172"/><stop offset="1" stop-color="#692172"/></linearGradient>
<linearGradient id="a425" href="#ta" x2="112"><stop offset="0" stop-color="#692172"/><stop offset="1" stop-color="#692172"/></linearGradient>
<linearGradient id="a426" href="#ta" x2="111"><stop offset="0" stop-color="#692172"/><stop offset="1" stop-color="#692172"/></linearGradient>
<linearGradient id="a427" href="#ta" x2="110"><stop offset="0" stop-color="#692172"/><stop offset="1" stop-color="#692172"/></linearGradient>
<linearGradient id="a428" href="#ta" x2="109"><stop offset="0" stop-color="#692172"/><stop offset="1" stop-color="#692172"/></linearGradient>
<linearGradient id="a429" href="#ta" x2="108"><stop offset="0" stop-color="#692172"/><stop offset="1" stop-color="#692172"/></linearGradient>
<linearGradient id="a430" href="#ta" x2="107"><stop offset="0" stop-color="#692172"/><stop offset="1" stop-color="#692172"/></linearGradient>
<linearGradient id="a431" href="#ta" x2="106"><stop offset="0" stop-color="#692172"/><stop offset="1" stop-color="#692172"/></linearGradient>
<linearGradient id="a432" href="#ta" x2="105"><stop offset="0" stop-color="#692072"/><stop offset="1" stop-color="#692172"/></linearGradient>
<linearGradient id="a433" href="#ta" x2="104"><stop offset="0" stop-color="#692072"/><stop offset="1" stop-color="#692172"/></linearGradient>
<linearGradient id="a434" href="#ta" x2="103"><stop offset="0" stop-color="#692072"/><stop offset="1" stop-color="#692172"/></linearGradient>
<linearGradient id="a435" href="#ta" x2="102"><stop offset="0" stop-color="#692072"/><stop offset="1" stop-color="#692072"/></linearGradient>
<linearGradient id="a436" href="#ta" x2="101"><stop offset="0" stop-color="#692072"/><stop offset="1" stop-color="#692072"/></linearGradient>
<linearGradient id="a437" href="#ta" x2="100"><stop offset="0" stop-color="#692072"/><stop offset="1" stop-color="#692072"/></linearGradient>
<linearGradient id="a438" href="#ta" x2="99"><stop offset="0" stop-color="#692072"/><stop offset="1" stop-color="#692072"/></linearGradient>
<linearGradient id="a439" href="#ta" x2="98"><stop offset="0" stop-color="#6a2072"/><stop offset="1" stop-color="#692072"/></linearGradient>
<linearGradient id="a440" href="#ta" x2="97"><stop offset="0" stop-color="#6a2072"/><stop offset="1" stop-color="#692072"/></linearGradient>
<linearGradient id="a441" href="#ta" x2="96"><stop offset="0" stop-color="#6a2072"/><stop offset="1" stop-color="#692072"/></linearGradient>
<linearGradient id="a442" href="#ta" x2="95"><stop offset="0" stop-color="#6a2072"/><stop offset="1" stop-color="#692072"/></linearGradient>
<linearGradient id="a443" href="#ta" x2="94"><stop offset="0" stop-color="#6a2072"/><stop offset="1" stop-color="#6a2072"/></linearGradient>
<linearGradient id="a444" href="#ta" x2="93"><stop offset="0" stop-color="#6a2072"/><stop offset="1" stop-color="#6a2072"/></linearGradient>
<linearGradient id="a445" href="#ta" x2="92"><stop offset="0" stop-color="#6a2072"/><stop offset="1" stop-color="#6a2072"/></linearGradient>
<linearGradient id="b0" href="#tb" y2="520"><stop offset="0" stop-color="#7bc58d"/><stop offset=".079" stop-color="#a6d7ae"/><stop offset=".225" stop-color="#def1e0"/><stop offset=".336" stop-color="#fff"/><stop offset="1" stop-color="#fff"/></linearGradient>
<linearGradient id="b1" href="#tb" y2="520"><stop offset="0" stop-color="#78c48c"/><stop offset=".081" stop-color="#a5d7ae"/><stop offset=".227" stop-color="#def1e0"/><stop offset=".34" stop-color="#fff"/><stop offset="1" stop-color="#fff"/></linearGradient>
<linearGradient id="b2" href="#tb" y2="520"><stop offset="0" stop-color="#76c48a"/><stop offset=".086" stop-color="#a6d7ae"/><stop offset=".232" stop-color="#def1e0"/><stop offset=".342" stop-color="#fff"/><stop offset="1" stop-color="#fff"/></linearGradient>
<linearGradient id="b3" href="#tb" y2="518"><stop offset="0" stop-color="#74c388"/><stop offset=".088" stop-color="#a5d7ae"/><stop offset=".235" stop-color="#def0e0"/><stop offset=".348" stop-color="#fff"/><stop offset="1" stop-color="#fff"/></linearGradient>
<linearGradient id="b4" href="#tb" y2="516"><stop offset="0" stop-color="#73c287"/><stop offset=".093" stop-color="#a5d7ae"/><stop offset=".241" stop-color="#def1e0"/><stop offset=".355" stop-color="#fff"/><stop offset="1" stop-color="#fff"/></linearGradient>
<linearGradient id="b5" href="#tb" y2="514"><stop offset="0" stop-color="#71c185"/><stop offset=".098" stop-color="#a6d7ae"/><stop offset=".247" stop-color="#def1e0"/><stop offset=".358" stop-color="#fff"/><stop offset="1" stop-color="#fff"/></linearGradient>
<linearGradient id="b6" href="#tb" y2="512"><stop offset="0" stop-color="#6fc184"/><stop offset=".103" stop-color="#a6d8af"/><stop offset=".252" stop-color="#def1e1"/><stop offset=".365" stop-color="#fff"/><stop offset="1" stop-color="#fff"/></linearGradient>
<linearGradient id="b7" href="#tb" y2="510"><stop offset="0" stop-color="#6dc082"/><stop offset=".108" stop-color="#a7d8af"/><stop offset=".258" stop-color="#dff1e1"/><stop offset=".371" stop-color="#fff"/><stop offset="1" stop-color="#fff"/></linearGradient>
<linearGradient id="b8" href="#tb" y2="508"><stop offset="0" stop-color="#6cc081"/><stop offset=".116" stop-color="#a8d9b0"/><stop offset=".264" stop-color="#dff1e1"/><stop offset=".375" stop-color="#fff"/><stop offset="1" stop-color="#fff"/></linearGradient>
<linearGradient id="b9" href="#tb" y2="506"><stop offset="0" stop-color="#6abf7f"/><stop offset=".121" stop-color="#a8d9b0"/><stop offset=".27" stop-color="#dff1e1"/><stop offset=".381" stop-color="#fff"/><stop offset="1" stop-color="#fff"/></linearGradient>
<linearGradient id="b10" href="#tb" y2="504"><stop offset="0" stop-color="#69bf7e"/><stop offset=".129" stop-color="#aad9b2"/><stop offset=".276" stop-color="#e0f1e2"/><stop offset=".388" stop-color="#fff"/><stop offset="1" stop-color="#fff"/></linearGradient>
<linearGradient id="b11" href="#tb" y2="502"><stop offset="0" stop-color="#68be7d"/><stop offset=".066" stop-color="#89cb98"/><stop offset=".155" stop-color="#b2ddb9"/><stop offset=".3" stop-color="#e6f4e7"/><stop offset=".392" stop-color="#fff"/><stop offset="1" stop-color="#fff"/></linearGradient>
<linearGradient id="b12" href="#tb" y2="500"><stop offset="0" stop-color="#67be7c"/><stop offset=".059" stop-color="#83c893"/><stop offset=".139" stop-color="#aadab2"/><stop offset=".288" stop-color="#e0f2e2"/><stop offset=".399" stop-color="#fff"/><stop offset="1" stop-color="#fff"/></linearGradient>
<linearGradient id="b13" href="#tb" y2="498"><stop offset="0" stop-color="#65bd7b"/><stop offset=".057" stop-color="#7fc791"/><stop offset=".137" stop-color="#a8d9b0"/><stop offset=".289" stop-color="#dff1e1"/><stop offset=".403" stop-color="#fff"/><stop offset="1" stop-color="#fff"/></linearGradient>
<linearGradient id="b14" href="#tb" y2="496"><stop offset="0" stop-color="#64bd7a"/><stop offset=".057" stop-color="#7dc68f"/><stop offset=".138" stop-color="#a6d8af"/><stop offset=".293" stop-color="#def1e1"/><stop offset=".41" stop-color="#fff"/><stop offset="1" stop-color="#fff"/></linearGradient>
<linearGradient id="b15" href="#tb" y2="494"><stop offset="0" stop-color="#63bd78"/><stop offset=".057" stop-color="#7bc58d"/><stop offset=".141" stop-color="#a6d7ae"/><stop offset=".297" stop-color="#def1e0"/><stop offset=".416" stop-color="#fff"/><stop offset="1" stop-color="#fff"/></linearGradient>
<linearGradient id="b16" href="#tb" y2="492"><stop offset="0" stop-color="#62bc77"/><stop offset=".058" stop-color="#79c48c"/><stop offset=".144" stop-color="#a5d7ae"/><stop offset=".3" stop-color="#def0e0"/><stop offset=".421" stop-color="#fff"/><stop offset="1" stop-color="#fff"/></linearGradient>
<linearGradient id="b17" href="#tb" y2="490"><stop offset="0" stop-color="#62bc76"/><stop offset=".058" stop-color="#77c48a"/><stop offset=".15" stop-color="#a6d7ae"/><stop offset=".307" stop-color="#def1e0"/><stop offset=".428" stop-color="#fff"/><stop offset="1" stop-color="#fff"/></linearGradient>
<linearGradient id="b18" href="#tb" y2="488"><stop offset="0" stop-color="#61bc76"/><stop offset=".058" stop-color="#75c388"/><stop offset=".153" stop-color="#a5d7ad"/><stop offset=".313" stop-color="#def1e0"/><stop offset=".434" stop-color="#fff"/><stop offset="1" stop-color="#fff"/></linearGradient>
<linearGradient id="b19" href="#tb" y2="486"><stop offset="0" stop-color="#60bb75"/><stop offset=".061" stop-color="#74c388"/><stop offset=".159" stop-color="#a5d7ae"/><stop offset=".317" stop-color="#def0e0"/><stop offset=".439" stop-color="#fff"/><stop offset="1" stop-color="#fff"/></linearGradient>
<linearGradient id="b20" href="#tb" y2="484"><stop offset="0" stop-color="#5fbb74"/><stop offset=".064" stop-color="#73c287"/><stop offset=".164" stop-color="#a6d7ae"/><stop offset=".324" stop-color="#def1e0"/><stop offset=".446" stop-color="#fff"/><stop offset="1" stop-color="#fff"/></linearGradient>
<linearGradient id="b21" href="#tb" y2="482"><stop offset="0" stop-color="#5ebb73"/><stop offset=".067" stop-color="#72c287"/><stop offset=".167" stop-color="#a5d7ae"/><stop offset=".33" stop-color="#def1e0"/><stop offset=".453" stop-color="#fff"/><stop offset="1" stop-color="#fff"/></linearGradient>
<linearGradient id="b22" href="#tb" y2="480"><stop offset="0" stop-color="#5ebb72"/><stop offset=".069" stop-color="#72c286"/><stop offset=".173" stop-color="#a6d7ae"/><stop offset=".334" stop-color="#def0e0"/><stop offset=".458" stop-color="#fff"/><stop offset="1" stop-color="#fff"/></linearGradient>
<linearGradient id="b23" href="#tb" y2="478"><stop offset="0" stop-color="#5dba71"/><stop offset=".07" stop-color="#70c185"/><stop offset=".179" stop-color="#a6d8ae"/><stop offset=".341" stop-color="#def1e0"/><stop offset=".465" stop-color="#fff"/><stop offset="1" stop-color="#fff"/></linearGradient>
<linearGradient id="b24" href="#tb" y2="476"><stop offset="0" stop-color="#5cba70"/><stop offset=".075" stop-color="#70c185"/><stop offset=".182" stop-color="#a5d7ae"/><stop offset=".347" stop-color="#def1e0"/><stop offset=".472" stop-color="#fff"/><stop offset="1" stop-color="#fff"/></linearGradient>
<linearGradient id="b25" href="#tb" y2="474"><stop offset="0" stop-color="#5bba6f"/><stop offset=".078" stop-color="#70c184"/><stop offset=".188" stop-color="#a6d7ae"/><stop offset=".352" stop-color="#def1e0"/><stop offset=".477" stop-color="#fff"/><stop offset="1" stop-color="#fff"/></linearGradient>
<linearGradient id="b26" href="#tb" y2="472"><stop offset="0" stop-color="#5bba6f"/><stop offset=".081" stop-color="#6fc184"/><stop offset=".194" stop-color="#a6d8ae"/><stop offset=".359" stop-color="#def1e0"/><stop offset=".485" stop-color="#fff"/><stop offset="1" stop-color="#fff"/></linearGradient>
<linearGradient id="b27" href="#tb" y2="470"><stop offset="0" stop-color="#5aba6e"/><stop offset=".084" stop-color="#6fc183"/><stop offset=".201" stop-color="#a6d8af"/><stop offset=".365" stop-color="#def1e1"/><stop offset=".49" stop-color="#fff"/><stop offset="1" stop-color="#fff"/></linearGradient>
<linearGradient id="b28" href="#tb" y2="468"><stop offset="0" stop-color="#59b96d"/><stop offset=".087" stop-color="#6ec083"/><stop offset=".207" stop-color="#a7d8af"/><stop offset=".372" stop-color="#dff1e1"/><stop offset=".497" stop-color="#fff"/><stop offset="1" stop-color="#fff"/></linearGradient>
<linearGradient id="b29" href="#tb" y2="466"><stop offset="0" stop-color="#59b96c"/><stop offset=".09" stop-color="#6dc082"/><stop offset=".213" stop-color="#a7d8af"/><stop offset=".379" stop-color="#dff1e1"/><stop offset=".505" stop-color="#fff"/><stop offset="1" stop-color="#fff"/></linearGradient>
<linearGradient id="b30" href="#tb" y2="464"><stop offset="0" stop-color="#58b96c"/><stop offset=".093" stop-color="#6dc082"/><stop offset=".216" stop-color="#a7d8af"/><stop offset=".384" stop-color="#def1e1"/><stop offset=".51" stop-color="#fff"/><stop offset="1" stop-color="#fff"/></linearGradient>
<linearGradient id="b31" href="#tb" y2="462"><stop offset="0" stop-color="#57b96b"/><stop offset=".098" stop-color="#6dc082"/><stop offset=".223" stop-color="#a7d8af"/><stop offset=".391" stop-color="#dff1e1"/><stop offset=".518" stop-color="#fff"/><stop offset="1" stop-color="#fff"/></linearGradient>
<linearGradient id="b32" href="#tb" y2="460"><stop offset="0" stop-color="#57b96a"/><stop offset=".102" stop-color="#6dc081"/><stop offset=".229" stop-color="#a7d8b0"/><stop offset=".398" stop-color="#dff1e1"/><stop offset=".526" stop-color="#fff"/><stop offset="1" stop-color="#fff"/></linearGradient>
<linearGradient id="b33" href="#tb" y2="458"><stop offset="0" stop-color="#56b86a"/><stop offset=".105" stop-color="#6cc081"/><stop offset=".236" stop-color="#a8d8b0"/><stop offset=".406" stop-color="#dff1e1"/><stop offset=".531" stop-color="#fff"/><stop offset="1" stop-color="#fff"/></linearGradient>
<linearGradient id="b34" href="#tb" y2="456"><stop offset="0" stop-color="#56b869"/><stop offset=".108" stop-color="#6bbf80"/><stop offset=".242" stop-color="#a8d9b0"/><stop offset=".411" stop-color="#dff1e1"/><stop offset=".539" stop-color="#fff"/><stop offset="1" stop-color="#fff"/></linearGradient>
<linearGradient id="b35" href="#tb" y2="454"><stop offset="0" stop-color="#53b768"/><stop offset=".116" stop-color="#6dc082"/><stop offset=".243" stop-color="#a7d8af"/><stop offset=".415" stop-color="#def1e1"/><stop offset=".548" stop-color="#fff"/><stop offset="1" stop-color="#fff"/></linearGradient>
<linearGradient id="b36" href="#tb" y2="452"><stop offset="0" stop-color="#50b665"/><stop offset=".016" stop-color="#57b86a"/><stop offset=".12" stop-color="#6cc081"/><stop offset=".25" stop-color="#a7d8af"/><stop offset=".423" stop-color="#dff1e1"/><stop offset=".553" stop-color="#fff"/><stop offset="1" stop-color="#fff"/></linearGradient>
<linearGradient id="b37" href="#tb" y2="450"><stop offset="0" stop-color="#4bb562"/><stop offset=".013" stop-color="#56b869"/><stop offset=".123" stop-color="#6cc081"/><stop offset=".257" stop-color="#a7d8b0"/><stop offset=".43" stop-color="#dff1e1"/><stop offset=".561" stop-color="#fff"/><stop offset="1" stop-color="#fff"/></linearGradient>
<linearGradient id="b38" href="#tb" y2="448"><stop offset="0" stop-color="#45b35e"/><stop offset=".016" stop-color="#55b869"/><stop offset=".129" stop-color="#6cc081"/><stop offset=".263" stop-color="#a8d8b0"/><stop offset=".438" stop-color="#dff1e1"/><stop offset=".567" stop-color="#fff"/><stop offset="1" stop-color="#fff"/></linearGradient>
<linearGradient id="b39" href="#tb" y2="446"><stop offset="0" stop-color="#3eb15a"/><stop offset=".016" stop-color="#53b767"/><stop offset=".138" stop-color="#6dc082"/><stop offset=".268" stop-color="#a7d8af"/><stop offset=".443" stop-color="#dff1e1"/><stop offset=".576" stop-color="#fff"/><stop offset="1" stop-color="#fff"/></linearGradient>
<linearGradient id="b40" href="#tb" y2="444"><stop offset="0" stop-color="#37ae55"/><stop offset=".019" stop-color="#51b766"/><stop offset=".052" stop-color="#59b96d"/><stop offset=".144" stop-color="#6ec083"/><stop offset=".272" stop-color="#a7d8af"/><stop offset=".448" stop-color="#def1e0"/><stop offset=".584" stop-color="#fff"/><stop offset="1" stop-color="#fff"/></linearGradient>
<linearGradient id="b41" href="#tb" y2="442"><stop offset="0" stop-color="#2eac50"/><stop offset=".019" stop-color="#4db563"/><stop offset=".033" stop-color="#56b869"/><stop offset=".142" stop-color="#6bbf80"/><stop offset=".281" stop-color="#a8d9b0"/><stop offset=".459" stop-color="#dff1e1"/><stop offset=".59" stop-color="#fff"/><stop offset="1" stop-color="#fff"/></linearGradient>
<linearGradient id="b42" href="#tb" y2="440"><stop offset="0" stop-color="#25a94b"/><stop offset=".019" stop-color="#48b460"/><stop offset=".036" stop-color="#56b869"/><stop offset=".148" stop-color="#6cc081"/><stop offset=".286" stop-color="#a7d8af"/><stop offset=".464" stop-color="#dff1e1"/><stop offset=".599" stop-color="#fff"/><stop offset="1" stop-color="#fff"/></linearGradient>
<linearGradient id="b43" href="#tb" y2="438"><stop offset="0" stop-color="#22a849"/><stop offset=".003" stop-color="#22a849"/><stop offset=".025" stop-color="#49b461"/><stop offset=".041" stop-color="#56b869"/><stop offset=".155" stop-color="#6cc081"/><stop offset=".293" stop-color="#a8d8b0"/><stop offset=".472" stop-color="#dff1e1"/><stop offset=".608" stop-color="#fff"/><stop offset="1" stop-color="#fff"/></linearGradient>
<linearGradient id="b44" href="#tb" y2="436"><stop offset="0" stop-color="#2aab4e"/><stop offset=".006" stop-color="#20a747"/><stop offset=".031" stop-color="#4bb562"/><stop offset=".044" stop-color="#56b869"/><stop offset=".158" stop-color="#6bbf81"/><stop offset=".3" stop-color="#a8d9b0"/><stop offset=".481" stop-color="#dff1e1"/><stop offset=".614" stop-color="#fff"/><stop offset="1" stop-color="#fff"/></linearGradient>
<linearGradient id="b45" href="#tb" y2="434"><stop offset="0" stop-color="#31ad53"/><stop offset=".011" stop-color="#21a848"/><stop offset=".034" stop-color="#49b461"/><stop offset=".05" stop-color="#56b869"/><stop offset=".165" stop-color="#6cc081"/><stop offset=".304" stop-color="#a7d8b0"/><stop offset=".486" stop-color="#dff1e1"/><stop offset=".623" stop-color="#fff"/><stop offset="1" stop-color="#fff"/></linearGradient>
<linearGradient id="b46" href="#tb" y2="432"><stop offset="0" stop-color="#36af56"/><stop offset=".014" stop-color="#20a748"/><stop offset=".039" stop-color="#4ab562"/><stop offset=".053" stop-color="#56b869"/><stop offset=".169" stop-color="#6bbf80"/><stop offset=".312" stop-color="#a8d8b0"/><stop offset=".494" stop-color="#dff1e1"/><stop offset=".632" stop-color="#fff"/><stop offset="1" stop-color="#fff"/></linearGradient>
<linearGradient id="b47" href="#tb" y2="430"><stop offset="0" stop-color="#3bb158"/><stop offset=".014" stop-color="#28aa4d"/><stop offset=".02" stop-color="#20a748"/><stop offset=".042" stop-color="#48b460"/><stop offset=".059" stop-color="#56b869"/><stop offset=".175" stop-color="#6cc081"/><stop offset=".316" stop-color="#a7d8af"/><stop offset=".5" stop-color="#dff1e1"/><stop offset=".638" stop-color="#fff"/><stop offset="1" stop-color="#fff"/></linearGradient>
<linearGradient id="b48" href="#tb" y2="428"><stop offset="0" stop-color="#3fb25b"/><stop offset=".017" stop-color="#2bab4f"/><stop offset=".023" stop-color="#21a848"/><stop offset=".051" stop-color="#4db664"/><stop offset=".065" stop-color="#56b869"/><stop offset=".182" stop-color="#6cc081"/><stop offset=".324" stop-color="#a8d8b0"/><stop offset=".509" stop-color="#dff1e1"/><stop offset=".648" stop-color="#fff"/><stop offset="1" stop-color="#fff"/></linearGradient>
<linearGradient id="b49" href="#tb" y2="426"><stop offset="0" stop-color="#44b45e"/><stop offset=".023" stop-color="#28aa4d"/><stop offset=".029" stop-color="#20a748"/><stop offset=".051" stop-color="#48b460"/><stop offset=".069" stop-color="#56b869"/><stop offset=".186" stop-color="#6cc081"/><stop offset=".329" stop-color="#a7d8af"/><stop offset=".514" stop-color="#dff1e1"/><stop offset=".657" stop-color="#fff"/><stop offset="1" stop-color="#fff"/></linearGradient>
<linearGradient id="b50" href="#tb" y2="424"><stop offset="0" stop-color="#47b560"/><stop offset=".026" stop-color="#2bab4f"/><stop offset=".032" stop-color="#20a848"/><stop offset=".057" stop-color="#4ab562"/><stop offset=".072" stop-color="#56b869"/><stop offset=".19" stop-color="#6bbf80"/><stop offset=".336" stop-color="#a8d8b0"/><stop offset=".523" stop-color="#dff1e1"/><stop offset=".664" stop-color="#fff"/><stop offset="1" stop-color="#fff"/></linearGradient>
<linearGradient id="b51" href="#tb" y2="422"><stop offset="0" stop-color="#4ab662"/><stop offset=".026" stop-color="#31ad53"/><stop offset=".038" stop-color="#21a848"/><stop offset=".061" stop-color="#48b461"/><stop offset=".078" stop-color="#56b869"/><stop offset=".197" stop-color="#6cc081"/><stop offset=".344" stop-color="#a8d9b0"/><stop offset=".532" stop-color="#dff1e1"/><stop offset=".673" stop-color="#fff"/><stop offset="1" stop-color="#fff"/></linearGradient>
<linearGradient id="b52" href="#tb" y2="420"><stop offset="0" stop-color="#4cb663"/><stop offset=".026" stop-color="#36af55"/><stop offset=".041" stop-color="#1fa747"/><stop offset=".064" stop-color="#47b460"/><stop offset=".081" stop-color="#56b869"/><stop offset=".201" stop-color="#6bbf80"/><stop offset=".349" stop-color="#a8d8b0"/><stop offset=".538" stop-color="#dff1e1"/><stop offset=".68" stop-color="#fff"/><stop offset="1" stop-color="#fff"/></linearGradient>
<linearGradient id="b53" href="#tb" y2="418"><stop offset="0" stop-color="#4fb765"/><stop offset=".026" stop-color="#3ab058"/><stop offset=".041" stop-color="#26aa4c"/><stop offset=".044" stop-color="#21a848"/><stop offset=".05" stop-color="#28aa4d"/><stop offset=".07" stop-color="#4ab461"/><stop offset=".085" stop-color="#55b869"/><stop offset=".208" stop-color="#6cc081"/><stop offset=".354" stop-color="#a7d8af"/><stop offset=".547" stop-color="#dff1e1"/><stop offset=".69" stop-color="#fff"/><stop offset="1" stop-color="#fff"/></linearGradient>
<linearGradient id="b54" href="#tb" y2="416"><stop offset="0" stop-color="#52b867"/><stop offset=".029" stop-color="#3bb159"/><stop offset=".044" stop-color="#28aa4d"/><stop offset=".05" stop-color="#21a848"/><stop offset=".074" stop-color="#48b461"/><stop offset=".091" stop-color="#56b869"/><stop offset=".212" stop-color="#6bbf80"/><stop offset=".362" stop-color="#a8d8b0"/><stop offset=".553" stop-color="#dff1e1"/><stop offset=".7" stop-color="#fff"/><stop offset="1" stop-color="#fff"/></linearGradient>
<linearGradient id="b55" href="#tb" y2="414"><stop offset="0" stop-color="#55b969"/><stop offset=".033" stop-color="#3cb159"/><stop offset=".047" stop-color="#2aab4e"/><stop offset=".053" stop-color="#1fa747"/><stop offset=".077" stop-color="#48b460"/><stop offset=".095" stop-color="#56b869"/><stop offset=".216" stop-color="#6bbf80"/><stop offset=".37" stop-color="#a8d9b0"/><stop offset=".562" stop-color="#dff1e1"/><stop offset=".707" stop-color="#fff"/><stop offset="1" stop-color="#fff"/></linearGradient>
<linearGradient id="b56" href="#tb" y2="412"><stop offset="0" stop-color="#58b96b"/><stop offset=".036" stop-color="#3db25a"/><stop offset=".051" stop-color="#2bab4f"/><stop offset=".057" stop-color="#20a748"/><stop offset=".083" stop-color="#4ab562"/><stop offset=".098" stop-color="#56b869"/><stop offset=".223" stop-color="#6cc081"/><stop offset=".375" stop-color="#a8d8b0"/><stop offset=".571" stop-color="#dff1e1"/><stop offset=".717" stop-color="#fff"/><stop offset="1" stop-color="#fff"/></linearGradient>
<linearGradient id="b57" href="#tb" y2="410"><stop offset="0" stop-color="#5aba6c"/><stop offset=".039" stop-color="#3eb25a"/><stop offset=".054" stop-color="#2cac4f"/><stop offset=".06" stop-color="#21a848"/><stop offset=".069" stop-color="#2fac50"/><stop offset=".09" stop-color="#4db563"/><stop offset=".105" stop-color="#56b869"/><stop offset=".228" stop-color="#6bbf81"/><stop offset=".38" stop-color="#a7d8b0"/><stop offset=".578" stop-color="#dff1e1"/><stop offset=".728" stop-color="#fff"/><stop offset="1" stop-color="#fff"/></linearGradient>
<linearGradient id="b58" href="#tb" y2="408"><stop offset="0" stop-color="#5ebc6f"/><stop offset=".045" stop-color="#3bb159"/><stop offset=".06" stop-color="#27aa4c"/><stop offset=".063" stop-color="#22a849"/><stop offset=".066" stop-color="#22a849"/><stop offset=".09" stop-color="#49b461"/><stop offset=".108" stop-color="#56b869"/><stop offset=".232" stop-color="#6bbf80"/><stop offset=".389" stop-color="#a8d9b0"/><stop offset=".587" stop-color="#dff1e1"/><stop offset=".735" stop-color="#fff"/><stop offset="1" stop-color="#fff"/></linearGradient>
<linearGradient id="b59" href="#tb" y2="406"><stop offset="0" stop-color="#69c079"/><stop offset=".006" stop-color="#5cbb6e"/><stop offset=".048" stop-color="#3cb159"/><stop offset=".064" stop-color="#28aa4d"/><stop offset=".07" stop-color="#21a848"/><stop offset=".094" stop-color="#49b461"/><stop offset=".112" stop-color="#56b869"/><stop offset=".239" stop-color="#6cc081"/><stop offset=".394" stop-color="#a8d8b0"/><stop offset=".594" stop-color="#dff1e1"/><stop offset=".745" stop-color="#fff"/><stop offset="1" stop-color="#fff"/></linearGradient>
<linearGradient id="b60" href="#tb" y2="404"><stop offset="0" stop-color="#73c583"/><stop offset=".009" stop-color="#5ebb6f"/><stop offset=".052" stop-color="#3db25a"/><stop offset=".067" stop-color="#29ab4e"/><stop offset=".073" stop-color="#20a748"/><stop offset=".098" stop-color="#48b460"/><stop offset=".116" stop-color="#56b869"/><stop offset=".244" stop-color="#6cc081"/><stop offset=".399" stop-color="#a7d8af"/><stop offset=".601" stop-color="#def1e1"/><stop offset=".756" stop-color="#fff"/><stop offset="1" stop-color="#fff"/></linearGradient>
<linearGradient id="b61" href="#tb" y2="402"><stop offset="0" stop-color="#82cb90"/><stop offset=".009" stop-color="#69c079"/><stop offset=".015" stop-color="#5cbb6d"/><stop offset=".055" stop-color="#3eb25a"/><stop offset=".071" stop-color="#2aab4e"/><stop offset=".077" stop-color="#20a747"/><stop offset=".101" stop-color="#48b460"/><stop offset=".12" stop-color="#56b869"/><stop offset=".248" stop-color="#6bbf80"/><stop offset=".408" stop-color="#a8d8b0"/><stop offset=".61" stop-color="#dff1e1"/><stop offset=".764" stop-color="#fff"/><stop offset="1" stop-color="#fff"/></linearGradient>
<linearGradient id="b62" href="#tb" y2="400"><stop offset="0" stop-color="#a6dbaf"/><stop offset=".006" stop-color="#7cc88b"/><stop offset=".019" stop-color="#5ebb6f"/><stop offset=".059" stop-color="#3fb25b"/><stop offset=".074" stop-color="#2bab4f"/><stop offset=".08" stop-color="#1fa747"/><stop offset=".105" stop-color="#47b460"/><stop offset=".123" stop-color="#56b869"/><stop offset=".253" stop-color="#6bbf80"/><stop offset=".414" stop-color="#a7d8b0"/><stop offset=".62" stop-color="#dff1e1"/><stop offset=".775" stop-color="#fff"/><stop offset="1" stop-color="#fff"/></linearGradient>
<linearGradient id="b63" href="#tb" y2="398"><stop offset="0" stop-color="#eaf5ea"/><stop offset=".003" stop-color="#bfe5c5"/><stop offset=".006" stop-color="#9ed8a8"/><stop offset=".009" stop-color="#87cd94"/><stop offset=".012" stop-color="#79c788"/><stop offset=".025" stop-color="#5cbb6d"/><stop offset=".065" stop-color="#3cb159"/><stop offset=".078" stop-color="#2cab4f"/><stop offset=".084" stop-color="#1fa747"/><stop offset=".109" stop-color="#47b460"/><stop offset=".127" stop-color="#56b869"/><stop offset=".258" stop-color="#6bbf80"/><stop offset=".422" stop-color="#a8d9b0"/><stop offset=".63" stop-color="#dff1e2"/><stop offset=".786" stop-color="#fff"/><stop offset="1" stop-color="#fff"/></linearGradient>
<linearGradient id="b64" href="#tb" y2="396"><stop offset="0" stop-color="#fdefef"/><stop offset=".003" stop-color="#fdf2f1"/><stop offset=".006" stop-color="#e0f1e2"/><stop offset=".009" stop-color="#b2e0ba"/><stop offset=".016" stop-color="#7fca8e"/><stop offset=".028" stop-color="#5ebc6f"/><stop offset=".069" stop-color="#3db15a"/><stop offset=".084" stop-color="#26aa4c"/><stop offset=".087" stop-color="#20a748"/><stop offset=".116" stop-color="#4ab562"/><stop offset=".131" stop-color="#55b869"/><stop offset=".266" stop-color="#6cc081"/><stop offset=".428" stop-color="#a8d8b0"/><stop offset=".637" stop-color="#dff1e1"/><stop offset=".794" stop-color="#fff"/><stop offset="1" stop-color="#fff"/></linearGradient>
<linearGradient id="b65" href="#tb" y2="394"><stop offset="0" stop-color="#fceceb"/><stop offset=".006" stop-color="#fdf0f0"/><stop offset=".009" stop-color="#f7f8f4"/><stop offset=".013" stop-color="#d5edd9"/><stop offset=".016" stop-color="#a8dcb1"/><stop offset=".022" stop-color="#7bc88a"/><stop offset=".035" stop-color="#5cbb6e"/><stop offset=".072" stop-color="#3eb25a"/><stop offset=".088" stop-color="#27aa4c"/><stop offset=".091" stop-color="#21a848"/><stop offset=".119" stop-color="#4ab562"/><stop offset=".135" stop-color="#55b869"/><stop offset=".27" stop-color="#6bbf81"/><stop offset=".434" stop-color="#a7d8b0"/><stop offset=".645" stop-color="#dff1e1"/><stop offset=".805" stop-color="#fff"/><stop offset="1" stop-color="#fff"/></linearGradient>
<linearGradient id="b66" href="#tb" y2="392"><stop offset="0" stop-color="#fce8e7"/><stop offset=".013" stop-color="#fdf0f0"/><stop offset=".016" stop-color="#f3f7f1"/><stop offset=".022" stop-color="#a3daad"/><stop offset=".025" stop-color="#8acf97"/><stop offset=".028" stop-color="#79c788"/><stop offset=".038" stop-color="#60bc71"/><stop offset=".079" stop-color="#3bb159"/><stop offset=".092" stop-color="#28aa4d"/><stop offset=".095" stop-color="#21a849"/><stop offset=".101" stop-color="#29aa4d"/><stop offset=".123" stop-color="#4ab461"/><stop offset=".139" stop-color="#55b869"/><stop offset=".275" stop-color="#6bbf80"/><stop offset=".443" stop-color="#a8d9b0"/><stop offset=".655" stop-color="#dff1e1"/><stop offset=".816" stop-color="#fff"/><stop offset="1" stop-color="#fff"/></linearGradient>
<linearGradient id="b67" href="#tb" y2="390"><stop offset="0" stop-color="#fbe4e4"/><stop offset=".019" stop-color="#fdf0f0"/><stop offset=".022" stop-color="#f0f6ee"/><stop offset=".029" stop-color="#9ed8a8"/><stop offset=".032" stop-color="#84cc92"/><stop offset=".038" stop-color="#6ec37e"/><stop offset=".045" stop-color="#5dbb6e"/><stop offset=".083" stop-color="#3cb159"/><stop offset=".096" stop-color="#29aa4d"/><stop offset=".099" stop-color="#22a849"/><stop offset=".102" stop-color="#22a849"/><stop offset=".124" stop-color="#46b35f"/><stop offset=".143" stop-color="#55b869"/><stop offset=".28" stop-color="#6bbf80"/><stop offset=".449" stop-color="#a8d8b0"/><stop offset=".662" stop-color="#dff1e1"/><stop offset=".825" stop-color="#fff"/><stop offset="1" stop-color="#fff"/></linearGradient>
<linearGradient id="b68" href="#tb" y2="388"><stop offset="0" stop-color="#fbe1e0"/><stop offset=".026" stop-color="#fdf1f0"/><stop offset=".029" stop-color="#ecf5eb"/><stop offset=".032" stop-color="#bbe3c2"/><stop offset=".035" stop-color="#98d5a4"/><stop offset=".038" stop-color="#7ec98d"/><stop offset=".051" stop-color="#5cbb6d"/><stop offset=".087" stop-color="#3db25a"/><stop offset=".099" stop-color="#2aab4e"/><stop offset=".103" stop-color="#23a849"/><stop offset=".106" stop-color="#22a849"/><stop offset=".131" stop-color="#49b461"/><stop offset=".151" stop-color="#56b869"/><stop offset=".288" stop-color="#6cc081"/><stop offset=".455" stop-color="#a7d8af"/><stop offset=".673" stop-color="#dff1e1"/><stop offset=".837" stop-color="#fff"/><stop offset="1" stop-color="#fff"/></linearGradient>
<linearGradient id="b69" href="#tb" y2="386"><stop offset="0" stop-color="#fadddc"/><stop offset=".032" stop-color="#fdf1f1"/><stop offset=".035" stop-color="#e5f3e6"/><stop offset=".039" stop-color="#b0dfb8"/><stop offset=".042" stop-color="#92d29e"/><stop offset=".045" stop-color="#7bc88a"/><stop offset=".055" stop-color="#5fbc70"/><stop offset=".094" stop-color="#3ab058"/><stop offset=".103" stop-color="#2bab4f"/><stop offset=".11" stop-color="#21a848"/><stop offset=".135" stop-color="#49b461"/><stop offset=".155" stop-color="#56b869"/><stop offset=".294" stop-color="#6cbf81"/><stop offset=".465" stop-color="#a8d9b0"/><stop offset=".684" stop-color="#dff1e1"/><stop offset=".848" stop-color="#fff"/><stop offset="1" stop-color="#fff"/></linearGradient>
<linearGradient id="b70" href="#tb" y2="384"><stop offset="0" stop-color="#fadad9"/><stop offset=".039" stop-color="#fdf2f1"/><stop offset=".042" stop-color="#d8eedb"/><stop offset=".045" stop-color="#a5dbaf"/><stop offset=".049" stop-color="#89ce96"/><stop offset=".052" stop-color="#78c787"/><stop offset=".062" stop-color="#5dbb6e"/><stop offset=".094" stop-color="#3fb25b"/><stop offset=".114" stop-color="#21a848"/><stop offset=".14" stop-color="#48b460"/><stop offset=".159" stop-color="#56b869"/><stop offset=".299" stop-color="#6bbf80"/><stop offset=".471" stop-color="#a8d8b0"/><stop offset=".692" stop-color="#dff1e1"/><stop offset=".857" stop-color="#fff"/><stop offset="1" stop-color="#fff"/></linearGradient>
<linearGradient id="b71" href="#tb" y2="382"><stop offset="0" stop-color="#f9d7d6"/><stop offset=".042" stop-color="#fdf0f0"/><stop offset=".046" stop-color="#f3f7f1"/><stop offset=".052" stop-color="#9bd6a6"/><stop offset=".056" stop-color="#7ec98d"/><stop offset=".065" stop-color="#60bc71"/><stop offset=".101" stop-color="#3cb159"/><stop offset=".118" stop-color="#20a748"/><stop offset=".144" stop-color="#48b460"/><stop offset=".163" stop-color="#56b869"/><stop offset=".304" stop-color="#6bbf80"/><stop offset=".48" stop-color="#a8d9b0"/><stop offset=".703" stop-color="#dff1e1"/><stop offset=".869" stop-color="#fff"/><stop offset="1" stop-color="#fff"/></linearGradient>
<linearGradient id="b72" href="#tb" y2="380"><stop offset="0" stop-color="#f9d4d3"/><stop offset=".049" stop-color="#fdf1f1"/><stop offset=".053" stop-color="#e4f3e6"/><stop offset=".056" stop-color="#abddb4"/><stop offset=".059" stop-color="#8dd09a"/><stop offset=".062" stop-color="#78c788"/><stop offset=".072" stop-color="#5cbb6e"/><stop offset=".105" stop-color="#3db15a"/><stop offset=".118" stop-color="#26aa4c"/><stop offset=".122" stop-color="#1fa747"/><stop offset=".148" stop-color="#48b460"/><stop offset=".168" stop-color="#56b869"/><stop offset=".312" stop-color="#6cc081"/><stop offset=".487" stop-color="#a8d8b0"/><stop offset=".711" stop-color="#dff1e1"/><stop offset=".882" stop-color="#fff"/><stop offset="1" stop-color="#fff"/></linearGradient>
<linearGradient id="b73" href="#tb" y2="378"><stop offset="0" stop-color="#f8d2d1"/><stop offset=".053" stop-color="#fdf0f0"/><stop offset=".056" stop-color="#f4f7f2"/><stop offset=".063" stop-color="#9ad6a5"/><stop offset=".066" stop-color="#7dc98c"/><stop offset=".076" stop-color="#5ebc6f"/><stop offset=".109" stop-color="#3eb25a"/><stop offset=".123" stop-color="#27aa4c"/><stop offset=".126" stop-color="#1fa747"/><stop offset=".152" stop-color="#47b460"/><stop offset=".172" stop-color="#55b869"/><stop offset=".318" stop-color="#6cbf81"/><stop offset=".493" stop-color="#a7d8b0"/><stop offset=".719" stop-color="#dff1e1"/><stop offset=".891" stop-color="#fff"/><stop offset="1" stop-color="#fff"/></linearGradient>
<linearGradient id="b74" href="#tb" y2="376"><stop offset="0" stop-color="#f8cfce"/><stop offset=".06" stop-color="#fdf1f1"/><stop offset=".063" stop-color="#daefdd"/><stop offset=".067" stop-color="#a4daae"/><stop offset=".07" stop-color="#86cd94"/><stop offset=".073" stop-color="#76c685"/><stop offset=".08" stop-color="#62bd72"/><stop offset=".09" stop-color="#55b969"/><stop offset=".113" stop-color="#3fb25b"/><stop offset=".127" stop-color="#28aa4d"/><stop offset=".13" stop-color="#20a748"/><stop offset=".16" stop-color="#4ab562"/><stop offset=".177" stop-color="#55b869"/><stop offset=".323" stop-color="#6bbf80"/><stop offset=".503" stop-color="#a8d9b0"/><stop offset=".73" stop-color="#dff1e1"/><stop offset=".903" stop-color="#fff"/><stop offset="1" stop-color="#fff"/></linearGradient>
<linearGradient id="b75" href="#tb" y2="374"><stop offset="0" stop-color="#f8cdcc"/><stop offset=".064" stop-color="#fdf1f0"/><stop offset=".067" stop-color="#eaf4ea"/><stop offset=".07" stop-color="#b0dfb8"/><stop offset=".074" stop-color="#8ed19b"/><stop offset=".077" stop-color="#78c788"/><stop offset=".087" stop-color="#5cbb6d"/><stop offset=".117" stop-color="#3fb25b"/><stop offset=".131" stop-color="#2aab4e"/><stop offset=".134" stop-color="#21a849"/><stop offset=".141" stop-color="#29aa4d"/><stop offset=".164" stop-color="#4ab461"/><stop offset=".181" stop-color="#55b869"/><stop offset=".329" stop-color="#6bbf80"/><stop offset=".51" stop-color="#a8d8b0"/><stop offset=".742" stop-color="#dff1e1"/><stop offset=".913" stop-color="#fff"/><stop offset="1" stop-color="#fff"/></linearGradient>
<linearGradient id="b76" href="#tb" y2="372"><stop offset="0" stop-color="#f7cbca"/><stop offset=".068" stop-color="#fdf0f0"/><stop offset=".071" stop-color="#f1f6ef"/><stop offset=".074" stop-color="#bde4c4"/><stop offset=".078" stop-color="#95d4a1"/><stop offset=".081" stop-color="#7bc88a"/><stop offset=".091" stop-color="#5dbb6e"/><stop offset=".122" stop-color="#40b35c"/><stop offset=".135" stop-color="#2bab4f"/><stop offset=".139" stop-color="#23a849"/><stop offset=".142" stop-color="#22a849"/><stop offset=".166" stop-color="#46b35f"/><stop offset=".186" stop-color="#55b869"/><stop offset=".338" stop-color="#6cc081"/><stop offset=".517" stop-color="#a7d8b0"/><stop offset=".75" stop-color="#dff1e1"/><stop offset=".926" stop-color="#fff"/><stop offset="1" stop-color="#fff"/></linearGradient>
<linearGradient id="b77" href="#tb" y2="370"><stop offset="0" stop-color="#f7c8c8"/><stop offset=".071" stop-color="#fdf0ef"/><stop offset=".075" stop-color="#f7f8f4"/><stop offset=".082" stop-color="#9bd6a6"/><stop offset=".085" stop-color="#7dc98c"/><stop offset=".095" stop-color="#5ebb6f"/><stop offset=".129" stop-color="#3cb159"/><stop offset=".143" stop-color="#24a94a"/><stop offset=".146" stop-color="#21a848"/><stop offset=".173" stop-color="#49b461"/><stop offset=".194" stop-color="#56b869"/><stop offset=".344" stop-color="#6cbf81"/><stop offset=".527" stop-color="#a8d9b0"/><stop offset=".762" stop-color="#dff1e1"/><stop offset=".939" stop-color="#fff"/><stop offset="1" stop-color="#fff"/></linearGradient>
<linearGradient id="b78" href="#tb" y2="368"><stop offset="0" stop-color="#f7c6c6"/><stop offset=".079" stop-color="#fdf2f1"/><stop offset=".082" stop-color="#d2ecd6"/><stop offset=".086" stop-color="#a0d9aa"/><stop offset=".089" stop-color="#81cb8f"/><stop offset=".099" stop-color="#5fbc70"/><stop offset=".134" stop-color="#3db25a"/><stop offset=".151" stop-color="#20a748"/><stop offset=".178" stop-color="#48b460"/><stop offset=".199" stop-color="#56b869"/><stop offset=".349" stop-color="#6bbf80"/><stop offset=".534" stop-color="#a8d8b0"/><stop offset=".771" stop-color="#dff1e1"/><stop offset=".949" stop-color="#fff"/><stop offset="1" stop-color="#fff"/></linearGradient>
<linearGradient id="b79" href="#tb" y2="366"><stop offset="0" stop-color="#f6c4c4"/><stop offset=".083" stop-color="#fdf1f1"/><stop offset=".086" stop-color="#daefdd"/><stop offset=".09" stop-color="#a4daae"/><stop offset=".093" stop-color="#85cd93"/><stop offset=".097" stop-color="#75c685"/><stop offset=".103" stop-color="#61bd72"/><stop offset=".124" stop-color="#4cb663"/><stop offset=".145" stop-color="#34ae55"/><stop offset=".155" stop-color="#1fa747"/><stop offset=".183" stop-color="#48b460"/><stop offset=".203" stop-color="#55b869"/><stop offset=".355" stop-color="#6bbf80"/><stop offset=".545" stop-color="#a8d9b0"/><stop offset=".783" stop-color="#dff1e1"/><stop offset=".962" stop-color="#fff"/><stop offset="1" stop-color="#fff"/></linearGradient>
<linearGradient id="b80" href="#tb" y2="364"><stop offset="0" stop-color="#f6c2c2"/><stop offset=".087" stop-color="#fdf1f1"/><stop offset=".09" stop-color="#e1f1e3"/><stop offset=".094" stop-color="#a8dcb1"/><stop offset=".097" stop-color="#89ce96"/><stop offset=".101" stop-color="#77c686"/><stop offset=".111" stop-color="#5cbb6d"/><stop offset=".142" stop-color="#3fb25b"/><stop offset=".156" stop-color="#28aa4d"/><stop offset=".16" stop-color="#20a748"/><stop offset=".191" stop-color="#4ab562"/><stop offset=".208" stop-color="#55b869"/><stop offset=".365" stop-color="#6cbf81"/><stop offset=".552" stop-color="#a8d8b0"/><stop offset=".792" stop-color="#dff1e1"/><stop offset=".976" stop-color="#fff"/><stop offset="1" stop-color="#fff"/></linearGradient>
<linearGradient id="b81" href="#tb" y2="362"><stop offset="0" stop-color="#f6c0c0"/><stop offset=".091" stop-color="#fdf1f1"/><stop offset=".094" stop-color="#e6f3e7"/><stop offset=".098" stop-color="#abddb4"/><stop offset=".101" stop-color="#8cd099"/><stop offset=".105" stop-color="#78c787"/><stop offset=".115" stop-color="#5cbb6d"/><stop offset=".147" stop-color="#3fb25b"/><stop offset=".161" stop-color="#2aab4e"/><stop offset=".164" stop-color="#22a849"/><stop offset=".171" stop-color="#29aa4d"/><stop offset=".196" stop-color="#4ab461"/><stop offset=".213" stop-color="#55b869"/><stop offset=".371" stop-color="#6bbf80"/><stop offset=".559" stop-color="#a7d8b0"/><stop offset=".804" stop-color="#dff1e1"/><stop offset=".986" stop-color="#fff"/><stop offset="1" stop-color="#fff"/></linearGradient>
<linearGradient id="b82" href="#tb" y2="360"><stop offset="0" stop-color="#f5bebe"/><stop offset=".095" stop-color="#fdf1f0"/><stop offset=".099" stop-color="#e9f4ea"/><stop offset=".102" stop-color="#afdfb8"/><stop offset=".106" stop-color="#8ed19b"/><stop offset=".109" stop-color="#79c788"/><stop offset=".12" stop-color="#5cbb6d"/><stop offset=".151" stop-color="#40b35c"/><stop offset=".165" stop-color="#2bab4f"/><stop offset=".169" stop-color="#23a84a"/><stop offset=".173" stop-color="#22a849"/><stop offset=".197" stop-color="#45b35f"/><stop offset=".218" stop-color="#55b869"/><stop offset=".377" stop-color="#6bbf80"/><stop offset=".57" stop-color="#a8d9b0"/><stop offset=".817" stop-color="#dff1e1"/><stop offset="1" stop-color="#fff"/></linearGradient>
<linearGradient id="b83" href="#tb" y2="358"><stop offset="0" stop-color="#f5bbbc"/><stop offset=".099" stop-color="#fdf1f0"/><stop offset=".103" stop-color="#ebf5eb"/><stop offset=".106" stop-color="#b2e0ba"/><stop offset=".11" stop-color="#90d29d"/><stop offset=".113" stop-color="#79c789"/><stop offset=".124" stop-color="#5cbb6e"/><stop offset=".16" stop-color="#3cb159"/><stop offset=".177" stop-color="#21a848"/><stop offset=".206" stop-color="#48b460"/><stop offset=".227" stop-color="#55b869"/><stop offset=".387" stop-color="#6cc081"/><stop offset=".578" stop-color="#a8d8b0"/><stop offset=".826" stop-color="#dff1e1"/><stop offset="1" stop-color="#fff"/></linearGradient>
<linearGradient id="b84" href="#tb" y2="356"><stop offset="0" stop-color="#f5b9ba"/><stop offset=".104" stop-color="#fdf1f0"/><stop offset=".107" stop-color="#ecf5ec"/><stop offset=".111" stop-color="#b5e1bc"/><stop offset=".114" stop-color="#92d29e"/><stop offset=".118" stop-color="#7ac889"/><stop offset=".129" stop-color="#5dbb6e"/><stop offset=".164" stop-color="#3db15a"/><stop offset=".179" stop-color="#26a94c"/><stop offset=".182" stop-color="#20a747"/><stop offset=".211" stop-color="#48b460"/><stop offset=".232" stop-color="#55b869"/><stop offset=".393" stop-color="#6bbf80"/><stop offset=".589" stop-color="#a8d9b0"/><stop offset=".839" stop-color="#dff1e1"/><stop offset="1" stop-color="#fdfefd"/></linearGradient>
<linearGradient id="b85" href="#tb" y2="354"><stop offset="0" stop-color="#f4b7b8"/><stop offset=".108" stop-color="#fdf1f0"/><stop offset=".112" stop-color="#ecf5ec"/><stop offset=".115" stop-color="#b7e2be"/><stop offset=".119" stop-color="#93d39f"/><stop offset=".122" stop-color="#7ac88a"/><stop offset=".133" stop-color="#5dbb6e"/><stop offset=".169" stop-color="#3eb25a"/><stop offset=".183" stop-color="#28aa4d"/><stop offset=".187" stop-color="#20a747"/><stop offset=".216" stop-color="#47b460"/><stop offset=".237" stop-color="#55b869"/><stop offset=".399" stop-color="#6bbf80"/><stop offset=".597" stop-color="#a8d8b0"/><stop offset=".849" stop-color="#dff1e1"/><stop offset="1" stop-color="#fafdfb"/></linearGradient>
<linearGradient id="b86" href="#tb" y2="352"><stop offset="0" stop-color="#f4b5b6"/><stop offset=".112" stop-color="#fdf1f0"/><stop offset=".116" stop-color="#edf5ec"/><stop offset=".12" stop-color="#b8e2bf"/><stop offset=".123" stop-color="#94d3a0"/><stop offset=".127" stop-color="#7bc88a"/><stop offset=".138" stop-color="#5dbb6e"/><stop offset=".174" stop-color="#3eb25b"/><stop offset=".188" stop-color="#29ab4d"/><stop offset=".192" stop-color="#21a848"/><stop offset=".228" stop-color="#4db663"/><stop offset=".246" stop-color="#56b869"/><stop offset=".409" stop-color="#6cc081"/><stop offset=".605" stop-color="#a7d8af"/><stop offset=".859" stop-color="#dff1e1"/><stop offset="1" stop-color="#f8fcf8"/></linearGradient>
<linearGradient id="b87" href="#tb" y2="350"><stop offset="0" stop-color="#f4b3b4"/><stop offset=".117" stop-color="#fdf0f0"/><stop offset=".12" stop-color="#edf5ed"/><stop offset=".124" stop-color="#bae3c1"/><stop offset=".128" stop-color="#95d4a1"/><stop offset=".131" stop-color="#7bc88a"/><stop offset=".142" stop-color="#5ebb6f"/><stop offset=".179" stop-color="#3fb25b"/><stop offset=".193" stop-color="#2aab4e"/><stop offset=".197" stop-color="#23a849"/><stop offset=".201" stop-color="#22a849"/><stop offset=".226" stop-color="#46b35f"/><stop offset=".248" stop-color="#55b869"/><stop offset=".416" stop-color="#6cbf81"/><stop offset=".617" stop-color="#a8d8b0"/><stop offset=".872" stop-color="#dff1e1"/><stop offset="1" stop-color="#f6fbf6"/></linearGradient>
<linearGradient id="b88" href="#tb" y2="348"><stop offset="0" stop-color="#f4b1b2"/><stop offset=".121" stop-color="#fdf0f0"/><stop offset=".125" stop-color="#eef6ed"/><stop offset=".129" stop-color="#bbe3c2"/><stop offset=".132" stop-color="#96d4a2"/><stop offset=".136" stop-color="#7cc88b"/><stop offset=".147" stop-color="#5fbc70"/><stop offset=".184" stop-color="#40b25b"/><stop offset=".206" stop-color="#21a848"/><stop offset=".235" stop-color="#49b461"/><stop offset=".257" stop-color="#55b869"/><stop offset=".423" stop-color="#6bbf80"/><stop offset=".625" stop-color="#a7d8b0"/><stop offset=".886" stop-color="#dff1e1"/><stop offset="1" stop-color="#f3faf4"/></linearGradient>
<linearGradient id="b89" href="#tb" y2="346"><stop offset="0" stop-color="#f3afb0"/><stop offset=".126" stop-color="#fdf0f0"/><stop offset=".13" stop-color="#eff6ee"/><stop offset=".133" stop-color="#bde4c4"/><stop offset=".137" stop-color="#97d5a3"/><stop offset=".141" stop-color="#7cc98b"/><stop offset=".152" stop-color="#5fbc70"/><stop offset=".193" stop-color="#3cb159"/><stop offset=".211" stop-color="#20a748"/><stop offset=".241" stop-color="#48b460"/><stop offset=".263" stop-color="#55b869"/><stop offset=".43" stop-color="#6bbf80"/><stop offset=".637" stop-color="#a8d9b0"/><stop offset=".896" stop-color="#dff1e1"/><stop offset=".97" stop-color="#e9f5ea"/><stop offset="1" stop-color="#e9f5ea"/></linearGradient>
<linearGradient id="b90" href="#tb" y2="344"><stop offset="0" stop-color="#f3adae"/><stop offset=".131" stop-color="#fdf0f0"/><stop offset=".134" stop-color="#f0f6ef"/><stop offset=".138" stop-color="#c0e5c6"/><stop offset=".142" stop-color="#99d5a4"/><stop offset=".146" stop-color="#7dc98c"/><stop offset=".157" stop-color="#60bc71"/><stop offset=".198" stop-color="#3cb159"/><stop offset=".213" stop-color="#27aa4c"/><stop offset=".216" stop-color="#1fa747"/><stop offset=".246" stop-color="#47b460"/><stop offset=".269" stop-color="#55b869"/><stop offset=".44" stop-color="#6cbf81"/><stop offset=".646" stop-color="#a8d8b0"/><stop offset=".91" stop-color="#dff1e1"/><stop offset=".966" stop-color="#e5f4e7"/><stop offset="1" stop-color="#e5f4e7"/></linearGradient>
<linearGradient id="b91" href="#tb" y2="342"><stop offset="0" stop-color="#f3abac"/><stop offset=".135" stop-color="#fdf0f0"/><stop offset=".139" stop-color="#f2f6f0"/><stop offset=".143" stop-color="#c3e6c9"/><stop offset=".147" stop-color="#9ad6a5"/><stop offset=".15" stop-color="#7ec98d"/><stop offset=".162" stop-color="#61bd72"/><stop offset=".188" stop-color="#4bb662"/><stop offset=".214" stop-color="#2fad52"/><stop offset=".222" stop-color="#20a748"/><stop offset=".256" stop-color="#4ab562"/><stop offset=".274" stop-color="#55b869"/><stop offset=".447" stop-color="#6bbf80"/><stop offset=".658" stop-color="#a8d9b0"/><stop offset=".925" stop-color="#dff1e1"/><stop offset="1" stop-color="#e2f2e4"/></linearGradient>
<linearGradient id="b92" href="#tb" y2="340"><stop offset="0" stop-color="#f2a9aa"/><stop offset=".14" stop-color="#fdf0f0"/><stop offset=".144" stop-color="#f3f7f1"/><stop offset=".152" stop-color="#9cd7a7"/><stop offset=".155" stop-color="#80ca8e"/><stop offset=".167" stop-color="#62bd72"/><stop offset=".178" stop-color="#56b96a"/><stop offset=".208" stop-color="#3eb25a"/><stop offset=".223" stop-color="#29ab4e"/><stop offset=".227" stop-color="#22a849"/><stop offset=".235" stop-color="#29aa4d"/><stop offset=".261" stop-color="#4ab461"/><stop offset=".28" stop-color="#55b869"/><stop offset=".455" stop-color="#6bbf80"/><stop offset=".667" stop-color="#a8d8b0"/><stop offset=".932" stop-color="#def1e1"/><stop offset="1" stop-color="#def1e1"/></linearGradient>
<linearGradient id="b93" href="#tb" y2="338"><stop offset="0" stop-color="#f2a7a9"/><stop offset=".145" stop-color="#fdf0f0"/><stop offset=".149" stop-color="#f5f7f2"/><stop offset=".156" stop-color="#9ed8a9"/><stop offset=".16" stop-color="#82cb90"/><stop offset=".172" stop-color="#63bd73"/><stop offset=".179" stop-color="#59ba6c"/><stop offset=".214" stop-color="#3eb25b"/><stop offset=".229" stop-color="#2aab4e"/><stop offset=".233" stop-color="#23a84a"/><stop offset=".237" stop-color="#22a849"/><stop offset=".263" stop-color="#45b35f"/><stop offset=".286" stop-color="#55b869"/><stop offset=".466" stop-color="#6cc081"/><stop offset=".676" stop-color="#a7d8b0"/><stop offset=".927" stop-color="#dbefde"/><stop offset="1" stop-color="#dbefde"/></linearGradient>
<linearGradient id="b94" href="#tb" y2="336"><stop offset="0" stop-color="#f2a5a7"/><stop offset=".15" stop-color="#fdf0f0"/><stop offset=".154" stop-color="#f7f8f3"/><stop offset=".158" stop-color="#cdead2"/><stop offset=".162" stop-color="#a0d9ab"/><stop offset=".165" stop-color="#84cc92"/><stop offset=".173" stop-color="#6dc27d"/><stop offset=".181" stop-color="#5cbb6d"/><stop offset=".219" stop-color="#3fb25b"/><stop offset=".242" stop-color="#21a848"/><stop offset=".273" stop-color="#48b460"/><stop offset=".296" stop-color="#55b869"/><stop offset=".473" stop-color="#6bbf81"/><stop offset=".688" stop-color="#a8d9b0"/><stop offset=".923" stop-color="#d8eedb"/><stop offset="1" stop-color="#d8eedb"/></linearGradient>
<linearGradient id="b95" href="#tb" y2="334"><stop offset="0" stop-color="#f1a3a5"/><stop offset=".155" stop-color="#fdf0ef"/><stop offset=".159" stop-color="#f9f8f5"/><stop offset=".163" stop-color="#d2ecd6"/><stop offset=".167" stop-color="#a3daad"/><stop offset=".171" stop-color="#87cd94"/><stop offset=".174" stop-color="#77c686"/><stop offset=".186" stop-color="#5cbb6e"/><stop offset=".225" stop-color="#40b25b"/><stop offset=".24" stop-color="#2dac50"/><stop offset=".248" stop-color="#20a748"/><stop offset=".279" stop-color="#48b460"/><stop offset=".302" stop-color="#55b869"/><stop offset=".481" stop-color="#6bbf80"/><stop offset=".698" stop-color="#a8d8b0"/><stop offset=".922" stop-color="#d5ecd8"/><stop offset="1" stop-color="#d5ecd8"/></linearGradient>
<linearGradient id="b96" href="#tb" y2="332"><stop offset="0" stop-color="#f1a0a3"/><stop offset=".16" stop-color="#fdf0ef"/><stop offset=".164" stop-color="#fbf9f6"/><stop offset=".168" stop-color="#d6edd9"/><stop offset=".172" stop-color="#a5dbaf"/><stop offset=".176" stop-color="#89ce97"/><stop offset=".18" stop-color="#78c787"/><stop offset=".191" stop-color="#5dbb6e"/><stop offset=".234" stop-color="#3cb159"/><stop offset=".25" stop-color="#27aa4c"/><stop offset=".254" stop-color="#1fa747"/><stop offset=".285" stop-color="#47b460"/><stop offset=".309" stop-color="#55b869"/><stop offset=".488" stop-color="#6bbf80"/><stop offset=".711" stop-color="#a8d9b0"/><stop offset=".914" stop-color="#d1ebd4"/><stop offset="1" stop-color="#d1ebd4"/></linearGradient>
<linearGradient id="b97" href="#tb" y2="330"><stop offset="0" stop-color="#f19ea1"/><stop offset=".169" stop-color="#fdf1f1"/><stop offset=".173" stop-color="#dbefde"/><stop offset=".177" stop-color="#a8dcb1"/><stop offset=".181" stop-color="#8cd099"/><stop offset=".185" stop-color="#79c788"/><stop offset=".197" stop-color="#5dbb6e"/><stop offset=".24" stop-color="#3db15a"/><stop offset=".256" stop-color="#28aa4d"/><stop offset=".26" stop-color="#21a848"/><stop offset=".295" stop-color="#4ab561"/><stop offset=".315" stop-color="#55b869"/><stop offset=".5" stop-color="#6cbf81"/><stop offset=".72" stop-color="#a8d8b0"/><stop offset=".913" stop-color="#cee9d2"/><stop offset="1" stop-color="#cee9d2"/></linearGradient>
<linearGradient id="b98" href="#tb" y2="328"><stop offset="0" stop-color="#f09c9f"/><stop offset=".175" stop-color="#fdf1f1"/><stop offset=".179" stop-color="#e0f1e2"/><stop offset=".183" stop-color="#abddb4"/><stop offset=".187" stop-color="#8fd19c"/><stop offset=".19" stop-color="#7ac889"/><stop offset=".202" stop-color="#5ebc6f"/><stop offset=".246" stop-color="#3db25a"/><stop offset=".262" stop-color="#2aab4e"/><stop offset=".266" stop-color="#22a849"/><stop offset=".27" stop-color="#22a849"/><stop offset=".298" stop-color="#46b35f"/><stop offset=".321" stop-color="#55b869"/><stop offset=".508" stop-color="#6bbf80"/><stop offset=".73" stop-color="#a7d8b0"/><stop offset=".909" stop-color="#cae8cf"/><stop offset="1" stop-color="#cae8cf"/></linearGradient>
<linearGradient id="b99" href="#tb" y2="326"><stop offset="0" stop-color="#f09a9d"/><stop offset=".18" stop-color="#fdf1f1"/><stop offset=".184" stop-color="#e6f3e7"/><stop offset=".188" stop-color="#b1e0b9"/><stop offset=".192" stop-color="#92d29e"/><stop offset=".196" stop-color="#7bc88a"/><stop offset=".208" stop-color="#60bc70"/><stop offset=".256" stop-color="#3ab058"/><stop offset=".268" stop-color="#2bab4f"/><stop offset=".276" stop-color="#21a848"/><stop offset=".304" stop-color="#45b35e"/><stop offset=".328" stop-color="#55b868"/><stop offset=".516" stop-color="#6bbf80"/><stop offset=".744" stop-color="#a8d9b0"/><stop offset=".9" stop-color="#c6e6cb"/><stop offset="1" stop-color="#c6e6cb"/></linearGradient>
<linearGradient id="b100" href="#tb" y2="324"><stop offset="0" stop-color="#f0989b"/><stop offset=".185" stop-color="#fdf1f0"/><stop offset=".19" stop-color="#ebf5eb"/><stop offset=".194" stop-color="#b8e2bf"/><stop offset=".198" stop-color="#96d4a2"/><stop offset=".202" stop-color="#7cc98b"/><stop offset=".214" stop-color="#61bd72"/><stop offset=".238" stop-color="#4eb765"/><stop offset=".262" stop-color="#3bb158"/><stop offset=".282" stop-color="#20a747"/><stop offset=".315" stop-color="#48b460"/><stop offset=".339" stop-color="#55b869"/><stop offset=".528" stop-color="#6cbf81"/><stop offset=".754" stop-color="#a8d8b0"/><stop offset=".895" stop-color="#c2e4c7"/><stop offset="1" stop-color="#c2e4c7"/></linearGradient>
<linearGradient id="b101" href="#tb" y2="322"><stop offset="0" stop-color="#f09599"/><stop offset=".191" stop-color="#fdf0f0"/><stop offset=".195" stop-color="#eef6ee"/><stop offset=".199" stop-color="#bfe5c6"/><stop offset=".203" stop-color="#9ad6a5"/><stop offset=".207" stop-color="#7fca8d"/><stop offset=".224" stop-color="#5cbb6d"/><stop offset=".264" stop-color="#40b35c"/><stop offset=".285" stop-color="#27aa4c"/><stop offset=".289" stop-color="#20a748"/><stop offset=".325" stop-color="#4ab562"/><stop offset=".346" stop-color="#55b869"/><stop offset=".537" stop-color="#6bbf80"/><stop offset=".768" stop-color="#a8d9b0"/><stop offset=".89" stop-color="#bfe3c4"/><stop offset="1" stop-color="#bfe3c4"/></linearGradient>
<linearGradient id="b102" href="#tb" y2="320"><stop offset="0" stop-color="#ef9397"/><stop offset=".197" stop-color="#fdf0f0"/><stop offset=".201" stop-color="#f3f7f0"/><stop offset=".209" stop-color="#9ed8a9"/><stop offset=".213" stop-color="#83cc91"/><stop offset=".221" stop-color="#6dc27d"/><stop offset=".23" stop-color="#5cbb6e"/><stop offset=".275" stop-color="#3db15a"/><stop offset=".291" stop-color="#29aa4d"/><stop offset=".295" stop-color="#22a849"/><stop offset=".303" stop-color="#29aa4d"/><stop offset=".332" stop-color="#4ab461"/><stop offset=".352" stop-color="#55b869"/><stop offset=".545" stop-color="#6bbf80"/><stop offset=".779" stop-color="#a8d8b0"/><stop offset=".881" stop-color="#bae1c0"/><stop offset="1" stop-color="#bae1c0"/></linearGradient>
<linearGradient id="b103" href="#tb" y2="318"><stop offset="0" stop-color="#ef9195"/><stop offset=".202" stop-color="#fdf0f0"/><stop offset=".207" stop-color="#f7f8f4"/><stop offset=".211" stop-color="#d0ebd4"/><stop offset=".215" stop-color="#a3daad"/><stop offset=".219" stop-color="#88ce95"/><stop offset=".223" stop-color="#78c787"/><stop offset=".236" stop-color="#5dbb6e"/><stop offset=".281" stop-color="#3eb25a"/><stop offset=".306" stop-color="#21a848"/><stop offset=".335" stop-color="#45b35e"/><stop offset=".36" stop-color="#55b868"/><stop offset=".558" stop-color="#6cbf81"/><stop offset=".789" stop-color="#a7d8af"/><stop offset=".876" stop-color="#b6dfbd"/><stop offset="1" stop-color="#b6dfbd"/></linearGradient>
<linearGradient id="b104" href="#tb" y2="316"><stop offset="0" stop-color="#ef8f93"/><stop offset=".208" stop-color="#fdf0ef"/><stop offset=".212" stop-color="#fcf9f7"/><stop offset=".217" stop-color="#d9eedc"/><stop offset=".221" stop-color="#a7dcb1"/><stop offset=".225" stop-color="#8cd099"/><stop offset=".229" stop-color="#79c788"/><stop offset=".242" stop-color="#5ebc6f"/><stop offset=".292" stop-color="#3bb158"/><stop offset=".308" stop-color="#26a94b"/><stop offset=".312" stop-color="#1fa747"/><stop offset=".346" stop-color="#48b460"/><stop offset=".371" stop-color="#55b869"/><stop offset=".567" stop-color="#6bbf80"/><stop offset=".804" stop-color="#a8d8b0"/><stop offset=".871" stop-color="#b3deb9"/><stop offset="1" stop-color="#b3deb9"/></linearGradient>
<linearGradient id="b105" href="#tb" y2="314"><stop offset="0" stop-color="#ee8c91"/><stop offset=".218" stop-color="#fdf1f1"/><stop offset=".223" stop-color="#e1f1e3"/><stop offset=".227" stop-color="#aedeb6"/><stop offset=".231" stop-color="#91d29e"/><stop offset=".235" stop-color="#7bc88a"/><stop offset=".248" stop-color="#60bc71"/><stop offset=".298" stop-color="#3cb159"/><stop offset=".315" stop-color="#28aa4d"/><stop offset=".319" stop-color="#21a848"/><stop offset=".357" stop-color="#4ab561"/><stop offset=".378" stop-color="#55b869"/><stop offset=".576" stop-color="#6bbf80"/><stop offset=".819" stop-color="#a8d9b0"/><stop offset=".87" stop-color="#afdcb6"/><stop offset="1" stop-color="#afdcb6"/></linearGradient>
<linearGradient id="b106" href="#tb" y2="312"><stop offset="0" stop-color="#ee8a8f"/><stop offset=".225" stop-color="#fdf1f1"/><stop offset=".229" stop-color="#e9f4ea"/><stop offset=".233" stop-color="#b6e2be"/><stop offset=".237" stop-color="#96d4a2"/><stop offset=".242" stop-color="#7cc98c"/><stop offset=".258" stop-color="#5cbb6d"/><stop offset=".305" stop-color="#3db25a"/><stop offset=".322" stop-color="#2aab4e"/><stop offset=".326" stop-color="#23a849"/><stop offset=".331" stop-color="#22a849"/><stop offset=".36" stop-color="#45b35e"/><stop offset=".386" stop-color="#55b869"/><stop offset=".589" stop-color="#6bbf80"/><stop offset=".831" stop-color="#a8d8b0"/><stop offset="1" stop-color="#aadab2"/></linearGradient>
<linearGradient id="b107" href="#tb" y2="310"><stop offset="0" stop-color="#ee888c"/><stop offset=".231" stop-color="#fdf1f0"/><stop offset=".235" stop-color="#edf5ed"/><stop offset=".239" stop-color="#bfe5c5"/><stop offset=".244" stop-color="#9bd6a6"/><stop offset=".248" stop-color="#80ca8f"/><stop offset=".265" stop-color="#5cbb6e"/><stop offset=".312" stop-color="#3eb25a"/><stop offset=".329" stop-color="#2cac4f"/><stop offset=".338" stop-color="#20a747"/><stop offset=".372" stop-color="#48b460"/><stop offset=".397" stop-color="#55b869"/><stop offset=".598" stop-color="#6bbf80"/><stop offset=".838" stop-color="#a7d8af"/><stop offset="1" stop-color="#a7d8af"/></linearGradient>
<linearGradient id="b108" href="#tb" y2="308"><stop offset="0" stop-color="#ed868a"/><stop offset=".237" stop-color="#fdf0f0"/><stop offset=".241" stop-color="#f1f6f0"/><stop offset=".25" stop-color="#9fd8a9"/><stop offset=".254" stop-color="#85cc93"/><stop offset=".259" stop-color="#77c686"/><stop offset=".272" stop-color="#5dbb6e"/><stop offset=".323" stop-color="#3bb159"/><stop offset=".341" stop-color="#27aa4c"/><stop offset=".345" stop-color="#21a848"/><stop offset=".384" stop-color="#4ab561"/><stop offset=".405" stop-color="#55b869"/><stop offset=".612" stop-color="#6cbf81"/><stop offset=".836" stop-color="#a3d6ab"/><stop offset="1" stop-color="#a3d6ab"/></linearGradient>
<linearGradient id="b109" href="#tb" y2="306"><stop offset="0" stop-color="#ed8388"/><stop offset=".243" stop-color="#fdf0f0"/><stop offset=".248" stop-color="#f5f7f2"/><stop offset=".252" stop-color="#cfebd3"/><stop offset=".257" stop-color="#a3daad"/><stop offset=".261" stop-color="#89ce97"/><stop offset=".265" stop-color="#78c788"/><stop offset=".278" stop-color="#5fbc70"/><stop offset=".33" stop-color="#3cb159"/><stop offset=".348" stop-color="#2aab4e"/><stop offset=".352" stop-color="#23a84a"/><stop offset=".357" stop-color="#22a849"/><stop offset=".387" stop-color="#45b35e"/><stop offset=".413" stop-color="#55b868"/><stop offset=".622" stop-color="#6bbf80"/><stop offset=".83" stop-color="#9fd4a8"/><stop offset="1" stop-color="#9fd4a8"/></linearGradient>
<linearGradient id="b110" href="#tb" y2="304"><stop offset="0" stop-color="#ed8186"/><stop offset=".25" stop-color="#fdf0ef"/><stop offset=".254" stop-color="#f9f8f5"/><stop offset=".259" stop-color="#d6edd9"/><stop offset=".263" stop-color="#a7dcb1"/><stop offset=".268" stop-color="#8ed09a"/><stop offset=".272" stop-color="#7ac889"/><stop offset=".285" stop-color="#60bd71"/><stop offset=".342" stop-color="#3ab058"/><stop offset=".36" stop-color="#25a94b"/><stop offset=".364" stop-color="#1fa747"/><stop offset=".399" stop-color="#47b460"/><stop offset=".425" stop-color="#55b869"/><stop offset=".632" stop-color="#6bbf80"/><stop offset=".829" stop-color="#9ad2a5"/><stop offset="1" stop-color="#9ad2a5"/></linearGradient>
<linearGradient id="b111" href="#tb" y2="303"><stop offset="0" stop-color="#ec7f84"/><stop offset=".26" stop-color="#fdf2f1"/><stop offset=".264" stop-color="#ddf0df"/><stop offset=".269" stop-color="#acdeb5"/><stop offset=".278" stop-color="#7bc88b"/><stop offset=".295" stop-color="#5cbb6d"/><stop offset=".344" stop-color="#3fb25b"/><stop offset=".366" stop-color="#28aa4d"/><stop offset=".37" stop-color="#21a848"/><stop offset=".383" stop-color="#2fac51"/><stop offset=".414" stop-color="#4db563"/><stop offset=".436" stop-color="#55b869"/><stop offset=".643" stop-color="#6bbf80"/><stop offset=".815" stop-color="#95cfa0"/><stop offset="1" stop-color="#95cfa0"/></linearGradient>
<linearGradient id="b112" href="#tb" y2="301"><stop offset="0" stop-color="#ec7c82"/><stop offset=".267" stop-color="#fdf1f1"/><stop offset=".271" stop-color="#e4f2e5"/><stop offset=".276" stop-color="#b3e0bb"/><stop offset=".284" stop-color="#7dc98c"/><stop offset=".302" stop-color="#5dbb6e"/><stop offset=".356" stop-color="#3cb159"/><stop offset=".382" stop-color="#21a848"/><stop offset=".413" stop-color="#45b35e"/><stop offset=".44" stop-color="#55b868"/><stop offset=".658" stop-color="#6cc081"/><stop offset=".809" stop-color="#90cd9d"/><stop offset="1" stop-color="#90cd9d"/></linearGradient>
<linearGradient id="b113" href="#tb" y2="299"><stop offset="0" stop-color="#ec7a80"/><stop offset=".274" stop-color="#fdf1f1"/><stop offset=".278" stop-color="#e9f4ea"/><stop offset=".283" stop-color="#bae3c1"/><stop offset=".287" stop-color="#99d6a5"/><stop offset=".291" stop-color="#81cb8f"/><stop offset=".309" stop-color="#5dbb6e"/><stop offset=".363" stop-color="#3eb25a"/><stop offset=".386" stop-color="#26aa4c"/><stop offset=".39" stop-color="#20a747"/><stop offset=".426" stop-color="#47b460"/><stop offset=".453" stop-color="#55b869"/><stop offset=".668" stop-color="#6bbf80"/><stop offset=".803" stop-color="#8acb99"/><stop offset="1" stop-color="#8acb99"/></linearGradient>
<linearGradient id="b114" href="#tb" y2="297"><stop offset="0" stop-color="#eb787e"/><stop offset=".281" stop-color="#fdf1f0"/><stop offset=".285" stop-color="#edf5ec"/><stop offset=".29" stop-color="#c1e6c7"/><stop offset=".294" stop-color="#9dd7a8"/><stop offset=".299" stop-color="#85cc93"/><stop offset=".303" stop-color="#77c787"/><stop offset=".317" stop-color="#5fbc70"/><stop offset=".376" stop-color="#3bb159"/><stop offset=".394" stop-color="#29aa4d"/><stop offset=".398" stop-color="#22a849"/><stop offset=".403" stop-color="#22a849"/><stop offset=".434" stop-color="#45b35f"/><stop offset=".462" stop-color="#55b869"/><stop offset=".679" stop-color="#6bbf80"/><stop offset=".796" stop-color="#85c995"/><stop offset="1" stop-color="#85c995"/></linearGradient>
<linearGradient id="b115" href="#tb" y2="295"><stop offset="0" stop-color="#eb757c"/><stop offset=".288" stop-color="#fdf0f0"/><stop offset=".292" stop-color="#f0f6ef"/><stop offset=".301" stop-color="#a1d9ab"/><stop offset=".306" stop-color="#89ce96"/><stop offset=".311" stop-color="#79c788"/><stop offset=".324" stop-color="#60bd71"/><stop offset=".384" stop-color="#3cb159"/><stop offset=".402" stop-color="#2bab4f"/><stop offset=".411" stop-color="#20a747"/><stop offset=".447" stop-color="#48b460"/><stop offset=".475" stop-color="#55b869"/><stop offset=".694" stop-color="#6bbf80"/><stop offset=".79" stop-color="#7fc791"/><stop offset="1" stop-color="#7fc791"/></linearGradient>
<linearGradient id="b116" href="#tb" y2="293"><stop offset="0" stop-color="#eb7379"/><stop offset=".295" stop-color="#fdf0f0"/><stop offset=".3" stop-color="#f3f7f1"/><stop offset=".304" stop-color="#ceead3"/><stop offset=".309" stop-color="#a5dbae"/><stop offset=".313" stop-color="#8dd09a"/><stop offset=".318" stop-color="#7ac889"/><stop offset=".336" stop-color="#5cbb6d"/><stop offset=".392" stop-color="#3eb25a"/><stop offset=".415" stop-color="#27aa4c"/><stop offset=".419" stop-color="#21a848"/><stop offset=".461" stop-color="#4ab461"/><stop offset=".484" stop-color="#55b869"/><stop offset=".705" stop-color="#6bbf80"/><stop offset=".788" stop-color="#7ac58d"/><stop offset="1" stop-color="#7ac58d"/></linearGradient>
<linearGradient id="b117" href="#tb" y2="291"><stop offset="0" stop-color="#eb7077"/><stop offset=".302" stop-color="#fdf0f0"/><stop offset=".307" stop-color="#f7f8f3"/><stop offset=".312" stop-color="#d5edd8"/><stop offset=".316" stop-color="#a8dcb2"/><stop offset=".326" stop-color="#7cc88b"/><stop offset=".344" stop-color="#5dbb6e"/><stop offset=".4" stop-color="#3fb25b"/><stop offset=".423" stop-color="#2aab4e"/><stop offset=".433" stop-color="#21a848"/><stop offset=".465" stop-color="#45b35e"/><stop offset=".493" stop-color="#55b868"/><stop offset=".721" stop-color="#6cbf81"/><stop offset=".781" stop-color="#75c389"/><stop offset="1" stop-color="#75c389"/></linearGradient>
<linearGradient id="b118" href="#tb" y2="289"><stop offset="0" stop-color="#ea6e75"/><stop offset=".31" stop-color="#fdf0ef"/><stop offset=".315" stop-color="#faf8f6"/><stop offset=".319" stop-color="#dcefde"/><stop offset=".324" stop-color="#aedeb6"/><stop offset=".333" stop-color="#7dc98c"/><stop offset=".352" stop-color="#5ebb6e"/><stop offset=".413" stop-color="#3cb159"/><stop offset=".432" stop-color="#2cac4f"/><stop offset=".441" stop-color="#20a747"/><stop offset=".479" stop-color="#47b460"/><stop offset=".507" stop-color="#55b869"/><stop offset=".732" stop-color="#6bbf80"/><stop offset=".784" stop-color="#6fc184"/><stop offset="1" stop-color="#6fc184"/></linearGradient>
<linearGradient id="b119" href="#tb" y2="287"><stop offset="0" stop-color="#ea6c73"/><stop offset=".265" stop-color="#fadad9"/><stop offset=".322" stop-color="#fdf1f1"/><stop offset=".327" stop-color="#e2f2e4"/><stop offset=".332" stop-color="#b5e1bd"/><stop offset=".336" stop-color="#98d5a4"/><stop offset=".341" stop-color="#81cb8f"/><stop offset=".36" stop-color="#5fbc70"/><stop offset=".422" stop-color="#3eb25a"/><stop offset=".445" stop-color="#28aa4d"/><stop offset=".45" stop-color="#22a849"/><stop offset=".455" stop-color="#22a849"/><stop offset=".488" stop-color="#45b35f"/><stop offset=".517" stop-color="#55b869"/><stop offset=".773" stop-color="#6cbf81"/><stop offset="1" stop-color="#6cbf81"/></linearGradient>
<linearGradient id="b120" href="#tb" y2="285"><stop offset="0" stop-color="#ea6971"/><stop offset=".273" stop-color="#fad9d9"/><stop offset=".33" stop-color="#fdf1f1"/><stop offset=".335" stop-color="#e8f4e9"/><stop offset=".34" stop-color="#bce4c3"/><stop offset=".344" stop-color="#9cd7a7"/><stop offset=".349" stop-color="#85cc93"/><stop offset=".354" stop-color="#78c787"/><stop offset=".373" stop-color="#5cbb6d"/><stop offset=".431" stop-color="#3fb25b"/><stop offset=".455" stop-color="#2bab4e"/><stop offset=".464" stop-color="#20a747"/><stop offset=".502" stop-color="#48b460"/><stop offset=".531" stop-color="#55b869"/><stop offset=".77" stop-color="#68be7d"/><stop offset="1" stop-color="#68be7d"/></linearGradient>
<linearGradient id="b121" href="#tb" y2="283"><stop offset="0" stop-color="#e9676f"/><stop offset=".28" stop-color="#f9d9d8"/><stop offset=".338" stop-color="#fdf1f1"/><stop offset=".343" stop-color="#ecf5ec"/><stop offset=".348" stop-color="#c3e6c9"/><stop offset=".353" stop-color="#a0d8aa"/><stop offset=".357" stop-color="#89ce96"/><stop offset=".362" stop-color="#79c789"/><stop offset=".382" stop-color="#5cbb6e"/><stop offset=".444" stop-color="#3cb159"/><stop offset=".469" stop-color="#27aa4c"/><stop offset=".473" stop-color="#21a848"/><stop offset=".517" stop-color="#4ab461"/><stop offset=".541" stop-color="#55b869"/><stop offset=".763" stop-color="#65bd7b"/><stop offset="1" stop-color="#65bd7b"/></linearGradient>
<linearGradient id="b122" href="#tb" y2="281"><stop offset="0" stop-color="#e9656d"/><stop offset=".288" stop-color="#f9d9d8"/><stop offset=".346" stop-color="#fdf1f0"/><stop offset=".351" stop-color="#eff6ee"/><stop offset=".361" stop-color="#a4daad"/><stop offset=".371" stop-color="#7bc88a"/><stop offset=".39" stop-color="#5dbb6e"/><stop offset=".454" stop-color="#3eb25a"/><stop offset=".478" stop-color="#29ab4e"/><stop offset=".488" stop-color="#21a848"/><stop offset=".522" stop-color="#45b35e"/><stop offset=".551" stop-color="#55b868"/><stop offset=".756" stop-color="#63bc78"/><stop offset="1" stop-color="#63bc78"/></linearGradient>
<linearGradient id="b123" href="#tb" y2="279"><stop offset="0" stop-color="#e9626a"/><stop offset=".296" stop-color="#f9d9d8"/><stop offset=".355" stop-color="#fdf0f0"/><stop offset=".36" stop-color="#f3f7f1"/><stop offset=".365" stop-color="#d1ebd5"/><stop offset=".369" stop-color="#a7dcb1"/><stop offset=".379" stop-color="#7cc98b"/><stop offset=".399" stop-color="#5ebb6f"/><stop offset=".468" stop-color="#3bb159"/><stop offset=".488" stop-color="#2bab4f"/><stop offset=".498" stop-color="#1fa747"/><stop offset=".537" stop-color="#47b460"/><stop offset=".567" stop-color="#55b869"/><stop offset=".754" stop-color="#61bc76"/><stop offset="1" stop-color="#61bc76"/></linearGradient>
<linearGradient id="b124" href="#tb" y2="277"><stop offset="0" stop-color="#e85f67"/><stop offset=".299" stop-color="#f9d7d6"/><stop offset=".363" stop-color="#fdf0f0"/><stop offset=".368" stop-color="#f6f8f3"/><stop offset=".373" stop-color="#d7eedb"/><stop offset=".378" stop-color="#acdeb5"/><stop offset=".388" stop-color="#7eca8d"/><stop offset=".408" stop-color="#60bc71"/><stop offset=".478" stop-color="#3cb159"/><stop offset=".502" stop-color="#28aa4d"/><stop offset=".507" stop-color="#22a849"/><stop offset=".512" stop-color="#22a849"/><stop offset=".547" stop-color="#46b35f"/><stop offset=".577" stop-color="#55b869"/><stop offset=".751" stop-color="#5fbb73"/><stop offset="1" stop-color="#5fbb73"/></linearGradient>
<linearGradient id="b125" href="#tb" y2="275"><stop offset="0" stop-color="#e85c65"/><stop offset=".296" stop-color="#f9d3d2"/><stop offset=".372" stop-color="#fdf0ef"/><stop offset=".377" stop-color="#faf8f5"/><stop offset=".382" stop-color="#def0e0"/><stop offset=".387" stop-color="#b3e0bb"/><stop offset=".397" stop-color="#82cb91"/><stop offset=".412" stop-color="#69c079"/><stop offset=".422" stop-color="#5cbb6d"/><stop offset=".487" stop-color="#3eb25a"/><stop offset=".513" stop-color="#2aab4e"/><stop offset=".523" stop-color="#20a748"/><stop offset=".563" stop-color="#48b460"/><stop offset=".593" stop-color="#55b869"/><stop offset=".749" stop-color="#5dbb71"/><stop offset="1" stop-color="#5dbb71"/></linearGradient>
<linearGradient id="b126" href="#tb" y2="273"><stop offset="0" stop-color="#e75a62"/><stop offset=".294" stop-color="#f8d0cf"/><stop offset=".386" stop-color="#fdf1f1"/><stop offset=".391" stop-color="#e5f3e6"/><stop offset=".396" stop-color="#bbe3c1"/><stop offset=".401" stop-color="#9dd7a7"/><stop offset=".406" stop-color="#87cd94"/><stop offset=".411" stop-color="#79c788"/><stop offset=".431" stop-color="#5dbb6e"/><stop offset=".497" stop-color="#3fb25b"/><stop offset=".523" stop-color="#2cac4f"/><stop offset=".533" stop-color="#20a748"/><stop offset=".579" stop-color="#4ab561"/><stop offset=".604" stop-color="#55b869"/><stop offset=".746" stop-color="#5bba6f"/><stop offset="1" stop-color="#5bba6f"/></linearGradient>
<linearGradient id="b127" href="#tb" y2="271"><stop offset="0" stop-color="#e75760"/><stop offset=".282" stop-color="#f7c8c7"/><stop offset=".395" stop-color="#fdf1f1"/><stop offset=".4" stop-color="#eaf5ea"/><stop offset=".405" stop-color="#c2e6c8"/><stop offset=".41" stop-color="#a0d9ab"/><stop offset=".415" stop-color="#8bcf98"/><stop offset=".421" stop-color="#7ac889"/><stop offset=".441" stop-color="#5dbb6e"/><stop offset=".513" stop-color="#3cb159"/><stop offset=".538" stop-color="#28aa4d"/><stop offset=".549" stop-color="#21a848"/><stop offset=".585" stop-color="#45b35e"/><stop offset=".615" stop-color="#55b868"/><stop offset=".764" stop-color="#59b96d"/><stop offset="1" stop-color="#59b96d"/></linearGradient>
<linearGradient id="b128" href="#tb" y2="269"><stop offset="0" stop-color="#e6545d"/><stop offset=".212" stop-color="#f2a9ab"/><stop offset=".404" stop-color="#fdf1f0"/><stop offset=".409" stop-color="#eef5ed"/><stop offset=".42" stop-color="#a4daae"/><stop offset=".43" stop-color="#7cc88b"/><stop offset=".451" stop-color="#5fbc70"/><stop offset=".523" stop-color="#3eb25a"/><stop offset=".549" stop-color="#2aab4e"/><stop offset=".56" stop-color="#1fa747"/><stop offset=".601" stop-color="#47b460"/><stop offset=".632" stop-color="#55b869"/><stop offset="1" stop-color="#58b96b"/></linearGradient>
<linearGradient id="b129" href="#tb" y2="267"><stop offset="0" stop-color="#e6515a"/><stop offset=".168" stop-color="#f09599"/><stop offset=".414" stop-color="#fdf0f0"/><stop offset=".419" stop-color="#f1f6f0"/><stop offset=".424" stop-color="#d0ebd4"/><stop offset=".429" stop-color="#a8dcb1"/><stop offset=".44" stop-color="#7dc98c"/><stop offset=".466" stop-color="#5cbb6d"/><stop offset=".534" stop-color="#3fb25b"/><stop offset=".56" stop-color="#2dac50"/><stop offset=".571" stop-color="#21a848"/><stop offset=".581" stop-color="#29aa4d"/><stop offset=".618" stop-color="#49b461"/><stop offset=".644" stop-color="#55b869"/><stop offset="1" stop-color="#56b86a"/></linearGradient>
<linearGradient id="b130" href="#tb" y2="265"><stop offset="0" stop-color="#e64f58"/><stop offset=".164" stop-color="#ef9195"/><stop offset=".423" stop-color="#fdf0f0"/><stop offset=".429" stop-color="#f5f7f2"/><stop offset=".434" stop-color="#d7eeda"/><stop offset=".439" stop-color="#aedeb6"/><stop offset=".45" stop-color="#81cb90"/><stop offset=".471" stop-color="#62bd73"/><stop offset=".481" stop-color="#5aba6c"/><stop offset=".55" stop-color="#3cb159"/><stop offset=".577" stop-color="#29aa4d"/><stop offset=".587" stop-color="#21a748"/><stop offset=".624" stop-color="#44b35e"/><stop offset=".656" stop-color="#55b868"/><stop offset="1" stop-color="#55b868"/></linearGradient>
<linearGradient id="b131" href="#tb" y2="263"><stop offset="0" stop-color="#e54c56"/><stop offset=".176" stop-color="#ef9396"/><stop offset=".433" stop-color="#fdf0ef"/><stop offset=".439" stop-color="#f9f8f5"/><stop offset=".444" stop-color="#def0e0"/><stop offset=".449" stop-color="#b5e1bd"/><stop offset=".455" stop-color="#9bd6a6"/><stop offset=".46" stop-color="#85cd93"/><stop offset=".465" stop-color="#79c788"/><stop offset=".487" stop-color="#5dbb6e"/><stop offset=".561" stop-color="#3eb25a"/><stop offset=".588" stop-color="#2bab4f"/><stop offset=".599" stop-color="#20a747"/><stop offset=".647" stop-color="#4ab562"/><stop offset="1" stop-color="#4ab562"/></linearGradient>
<linearGradient id="b132" href="#tb" y2="261"><stop offset="0" stop-color="#e54a54"/><stop offset=".195" stop-color="#f0969a"/><stop offset=".449" stop-color="#fdf2f1"/><stop offset=".454" stop-color="#e5f3e6"/><stop offset=".459" stop-color="#bce4c3"/><stop offset=".465" stop-color="#9ed8a9"/><stop offset=".47" stop-color="#89ce97"/><stop offset=".476" stop-color="#7ac889"/><stop offset=".497" stop-color="#5ebb6f"/><stop offset=".578" stop-color="#3bb159"/><stop offset=".605" stop-color="#27aa4c"/><stop offset=".611" stop-color="#22a849"/><stop offset=".616" stop-color="#22a849"/><stop offset=".638" stop-color="#38af56"/><stop offset="1" stop-color="#38af56"/></linearGradient>
<linearGradient id="b133" href="#tb" y2="259"><stop offset="0" stop-color="#e54852"/><stop offset=".23" stop-color="#f1a0a3"/><stop offset=".459" stop-color="#fdf1f1"/><stop offset=".464" stop-color="#eaf4ea"/><stop offset=".47" stop-color="#c3e6c9"/><stop offset=".475" stop-color="#a2daac"/><stop offset=".486" stop-color="#7bc88b"/><stop offset=".508" stop-color="#60bc71"/><stop offset=".59" stop-color="#3cb159"/><stop offset=".617" stop-color="#2aab4e"/><stop offset=".628" stop-color="#20a747"/><stop offset="1" stop-color="#20a747"/></linearGradient>
<linearGradient id="b134" href="#tb" y2="257"><stop offset="0" stop-color="#e44650"/><stop offset=".254" stop-color="#f2a6a8"/><stop offset=".47" stop-color="#fdf1f1"/><stop offset=".475" stop-color="#edf5ed"/><stop offset=".486" stop-color="#a6dbaf"/><stop offset=".497" stop-color="#7dc98c"/><stop offset=".525" stop-color="#5cbb6e"/><stop offset=".602" stop-color="#3eb25a"/><stop offset=".624" stop-color="#34ae54"/><stop offset="1" stop-color="#34ae54"/></linearGradient>
<linearGradient id="b135" href="#tb" y2="255"><stop offset="0" stop-color="#e4434d"/><stop offset=".268" stop-color="#f2a7a9"/><stop offset=".48" stop-color="#fdf1f0"/><stop offset=".486" stop-color="#f1f6ef"/><stop offset=".492" stop-color="#d1ebd5"/><stop offset=".497" stop-color="#aaddb3"/><stop offset=".508" stop-color="#80ca8f"/><stop offset=".536" stop-color="#5dbb6e"/><stop offset=".609" stop-color="#45b45e"/><stop offset="1" stop-color="#45b45e"/></linearGradient>
<linearGradient id="b136" href="#tb" y2="253"><stop offset="0" stop-color="#e3414b"/><stop offset=".277" stop-color="#f2a7a9"/><stop offset=".492" stop-color="#fdf0f0"/><stop offset=".497" stop-color="#f4f7f2"/><stop offset=".503" stop-color="#d7eedb"/><stop offset=".508" stop-color="#b0dfb8"/><stop offset=".52" stop-color="#84cc92"/><stop offset=".531" stop-color="#72c482"/><stop offset=".548" stop-color="#5dbb6e"/><stop offset=".599" stop-color="#4db764"/><stop offset="1" stop-color="#4db764"/></linearGradient>
<linearGradient id="b137" href="#tb" y2="251"><stop offset="0" stop-color="#e23f49"/><stop offset=".286" stop-color="#f2a6a8"/><stop offset=".503" stop-color="#fdf0f0"/><stop offset=".509" stop-color="#f8f8f4"/><stop offset=".514" stop-color="#def0e0"/><stop offset=".52" stop-color="#b7e2be"/><stop offset=".526" stop-color="#9cd7a7"/><stop offset=".531" stop-color="#88ce96"/><stop offset=".537" stop-color="#7ac889"/><stop offset=".56" stop-color="#5fbc70"/><stop offset=".589" stop-color="#56b969"/><stop offset="1" stop-color="#56b969"/></linearGradient>
<linearGradient id="b138" href="#tb" y2="249"><stop offset="0" stop-color="#e13d47"/><stop offset=".295" stop-color="#f2a6a8"/><stop offset=".514" stop-color="#fdf0ef"/><stop offset=".52" stop-color="#fbf9f6"/><stop offset=".526" stop-color="#e4f3e6"/><stop offset=".532" stop-color="#bee4c4"/><stop offset=".538" stop-color="#a0d9aa"/><stop offset=".549" stop-color="#7bc88a"/><stop offset=".572" stop-color="#61bd71"/><stop offset="1" stop-color="#61bd71"/></linearGradient>
<linearGradient id="b139" href="#tb" y2="247"><stop offset="0" stop-color="#e03b45"/><stop offset=".304" stop-color="#f2a6a8"/><stop offset=".532" stop-color="#fdf1f1"/><stop offset=".538" stop-color="#eaf4ea"/><stop offset=".55" stop-color="#a4daad"/><stop offset=".561" stop-color="#7dc98c"/><stop offset="1" stop-color="#7dc98c"/></linearGradient>
<linearGradient id="b140" href="#tb" y2="245"><stop offset="0" stop-color="#df3943"/><stop offset=".302" stop-color="#f1a2a4"/><stop offset=".544" stop-color="#fdf1f1"/><stop offset=".55" stop-color="#edf5ec"/><stop offset="1" stop-color="#edf5ec"/></linearGradient>
<linearGradient id="b141" href="#tb" y2="243"><stop offset="0" stop-color="#df3741"/><stop offset=".114" stop-color="#e85d66"/><stop offset=".473" stop-color="#f9d6d5"/><stop offset=".545" stop-color="#fceaea"/><stop offset="1" stop-color="#fceaea"/></linearGradient>
<linearGradient id="b142" href="#tb" y2="241"><stop offset="0" stop-color="#de3640"/><stop offset=".115" stop-color="#e75b63"/><stop offset=".467" stop-color="#f8d0cf"/><stop offset=".527" stop-color="#fbe0e0"/><stop offset="1" stop-color="#fbe0e0"/></linearGradient>
<linearGradient id="b143" href="#tb" y2="239"><stop offset="0" stop-color="#de343e"/><stop offset=".11" stop-color="#e7565e"/><stop offset=".442" stop-color="#f7c5c5"/><stop offset=".515" stop-color="#f9d8d8"/><stop offset="1" stop-color="#f9d8d8"/></linearGradient>
<linearGradient id="b144" href="#tb" y2="237"><stop offset="0" stop-color="#dd333d"/><stop offset=".099" stop-color="#e64e58"/><stop offset=".292" stop-color="#ef9195"/><stop offset=".503" stop-color="#f8d1d1"/><stop offset="1" stop-color="#f8d1d1"/></linearGradient>
<linearGradient id="b145" href="#tb" y2="235"><stop offset="0" stop-color="#dd323c"/><stop offset=".088" stop-color="#e54852"/><stop offset=".352" stop-color="#f1a0a3"/><stop offset=".491" stop-color="#f7cac9"/><stop offset="1" stop-color="#f7cac9"/></linearGradient>
<linearGradient id="b146" href="#tb" y2="233"><stop offset="0" stop-color="#dc303a"/><stop offset=".089" stop-color="#e44650"/><stop offset=".376" stop-color="#f2a4a6"/><stop offset=".478" stop-color="#f6c2c2"/><stop offset="1" stop-color="#f6c2c2"/></linearGradient>
<linearGradient id="b147" href="#tb" y2="231"><stop offset="0" stop-color="#db2f39"/><stop offset=".09" stop-color="#e4444e"/><stop offset=".4" stop-color="#f2a7a9"/><stop offset=".458" stop-color="#f5b7b8"/><stop offset="1" stop-color="#f5b7b8"/></linearGradient>
<linearGradient id="b148" href="#tb" y2="229"><stop offset="0" stop-color="#db2e38"/><stop offset=".092" stop-color="#e3414b"/><stop offset=".412" stop-color="#f2a7a9"/><stop offset=".444" stop-color="#f3afb0"/><stop offset="1" stop-color="#f3afb0"/></linearGradient>
<linearGradient id="b149" href="#tb" y2="227"><stop offset="0" stop-color="#db2e38"/><stop offset=".093" stop-color="#e23f49"/><stop offset=".424" stop-color="#f2a7a9"/><stop offset="1" stop-color="#f2a7a9"/></linearGradient>
<linearGradient id="b150" href="#tb" y2="225"><stop offset="0" stop-color="#db2e38"/><stop offset=".081" stop-color="#e03943"/><stop offset=".409" stop-color="#f19fa1"/><stop offset="1" stop-color="#f19fa1"/></linearGradient>
<linearGradient id="b151" href="#tb" y2="223"><stop offset="0" stop-color="#db2e38"/><stop offset=".061" stop-color="#de343e"/><stop offset=".184" stop-color="#e7555e"/><stop offset=".388" stop-color="#ef9498"/><stop offset="1" stop-color="#ef9498"/></linearGradient>
<linearGradient id="b152" href="#tb" y2="221"><stop offset="0" stop-color="#db2e38"/><stop offset=".055" stop-color="#dc323c"/><stop offset=".152" stop-color="#e54852"/><stop offset=".372" stop-color="#ee8c91"/><stop offset="1" stop-color="#ee8c91"/></linearGradient>
<linearGradient id="b153" href="#tb" y2="219"><stop offset="0" stop-color="#da2e38"/><stop offset=".063" stop-color="#dc313b"/><stop offset=".168" stop-color="#e54a53"/><stop offset=".357" stop-color="#ed8489"/><stop offset="1" stop-color="#ed8489"/></linearGradient>
<linearGradient id="b154" href="#tb" y2="217"><stop offset="0" stop-color="#da2e38"/><stop offset=".071" stop-color="#dc313b"/><stop offset=".177" stop-color="#e54953"/><stop offset=".34" stop-color="#ec797f"/><stop offset="1" stop-color="#ec797f"/></linearGradient>
<linearGradient id="b155" href="#tb" y2="215"><stop offset="0" stop-color="#da2e38"/><stop offset=".079" stop-color="#dc313b"/><stop offset=".18" stop-color="#e44751"/><stop offset=".324" stop-color="#eb7178"/><stop offset="1" stop-color="#eb7178"/></linearGradient>
<linearGradient id="b156" href="#tb" y2="213"><stop offset="0" stop-color="#da2e38"/><stop offset=".088" stop-color="#dc313b"/><stop offset=".19" stop-color="#e44751"/><stop offset=".307" stop-color="#e96870"/><stop offset="1" stop-color="#e96870"/></linearGradient>
<linearGradient id="b157" href="#tb" y2="211"><stop offset="0" stop-color="#da2e38"/><stop offset=".096" stop-color="#dc313b"/><stop offset=".193" stop-color="#e4454f"/><stop offset=".281" stop-color="#e85c65"/><stop offset="1" stop-color="#e85c65"/></linearGradient>
<linearGradient id="b158" href="#tb" y2="209"><stop offset="0" stop-color="#da2e38"/><stop offset=".105" stop-color="#dc303a"/><stop offset=".211" stop-color="#e44650"/><stop offset=".263" stop-color="#e6525b"/><stop offset="1" stop-color="#e6525b"/></linearGradient>
<linearGradient id="b159" href="#tb" y2="207"><stop offset="0" stop-color="#da2e38"/><stop offset=".115" stop-color="#dc303a"/><stop offset=".237" stop-color="#e54852"/><stop offset="1" stop-color="#e54852"/></linearGradient>
<linearGradient id="b160" href="#tb" y2="205"><stop offset="0" stop-color="#da2e38"/><stop offset=".124" stop-color="#dc303a"/><stop offset=".225" stop-color="#e2404a"/><stop offset="1" stop-color="#e2404a"/></linearGradient>
<linearGradient id="b161" href="#tb" y2="203"><stop offset="0" stop-color="#d92e38"/><stop offset=".134" stop-color="#dc303a"/><stop offset=".205" stop-color="#df3741"/><stop offset="1" stop-color="#df3741"/></linearGradient>
<linearGradient id="b162" href="#tb" y2="201"><stop offset="0" stop-color="#d92e38"/><stop offset=".344" stop-color="#dd323c"/><stop offset="1" stop-color="#dd323c"/></linearGradient>
<linearGradient id="b163" href="#tb" y2="199"><stop offset="0" stop-color="#d92e38"/><stop offset="1" stop-color="#db2e38"/></linearGradient>
<linearGradient id="b164" href="#tb" y2="197"><stop offset="0" stop-color="#d92d37"/><stop offset="1" stop-color="#da2e38"/></linearGradient>
<linearGradient id="b165" href="#tb" y2="195"><stop offset="0" stop-color="#d92d37"/><stop offset="1" stop-color="#da2e38"/></linearGradient>
<linearGradient id="b166" href="#tb" y2="193"><stop offset="0" stop-color="#d92d37"/><stop offset="1" stop-color="#d92e38"/></linearGradient>
<linearGradient id="b167" href="#tb" y2="191"><stop offset="0" stop-color="#d92d37"/><stop offset="1" stop-color="#d92d37"/></linearGradient>
<linearGradient id="b168" href="#tb" y2="189"><stop offset="0" stop-color="#d92d37"/><stop offset="1" stop-color="#d92d37"/></linearGradient>
<linearGradient id="b169" href="#tb" y2="187"><stop offset="0" stop-color="#d92d37"/><stop offset="1" stop-color="#d92d37"/></linearGradient>
<linearGradient id="b170" href="#tb" y2="185"><stop offset="0" stop-color="#d82d37"/><stop offset="1" stop-color="#d92d37"/></linearGradient>
<linearGradient id="b171" href="#tb" y2="183"><stop offset="0" stop-color="#d82d37"/><stop offset="1" stop-color="#d82d37"/></linearGradient>
<linearGradient id="b172" href="#tb" y2="181"><stop offset="0" stop-color="#d82d37"/><stop offset="1" stop-color="#d82d37"/></linearGradient>
<linearGradient id="b173" href="#tb" y2="179"><stop offset="0" stop-color="#d82d37"/><stop offset="1" stop-color="#d82d37"/></linearGradient>
<linearGradient id="b174" href="#tb" y2="177"><stop offset="0" stop-color="#d82d37"/><stop offset="1" stop-color="#d82d37"/></linearGradient>
<linearGradient id="b175" href="#tb" y2="175"><stop offset="0" stop-color="#d82d37"/><stop offset="1" stop-color="#d82d37"/></linearGradient>
<linearGradient id="b176" href="#tb" y2="173"><stop offset="0" stop-color="#d82d37"/><stop offset="1" stop-color="#d82d37"/></linearGradient>
<linearGradient id="b177" href="#tb" y2="171"><stop offset="0" stop-color="#d82d37"/><stop offset="1" stop-color="#d82d37"/></linearGradient>
<linearGradient id="b178" href="#tb" y2="169"><stop offset="0" stop-color="#d82d37"/><stop offset="1" stop-color="#d82d37"/></linearGradient>
<linearGradient id="b179" href="#tb" y2="167"><stop offset="0" stop-color="#d72d37"/><stop offset="1" stop-color="#d82d37"/></linearGradient>
<linearGradient id="b180" href="#tb" y2="165"><stop offset="0" stop-color="#d72d37"/><stop offset="1" stop-color="#d72d37"/></linearGradient>
<linearGradient id="b181" href="#tb" y2="163"><stop offset="0" stop-color="#d72d37"/><stop offset="1" stop-color="#d72d37"/></linearGradient>
<linearGradient id="b182" href="#tb" y2="161"><stop offset="0" stop-color="#d72d37"/><stop offset="1" stop-color="#d72d37"/></linearGradient>
<linearGradient id="b183" href="#tb" y2="159"><stop offset="0" stop-color="#d72d37"/><stop offset="1" stop-color="#d72d37"/></linearGradient>
<linearGradient id="b184" href="#tb" y2="157"><stop offset="0" stop-color="#d72d37"/><stop offset="1" stop-color="#d72d37"/></linearGradient>
<linearGradient id="b185" href="#tb" y2="155"><stop offset="0" stop-color="#d72d37"/><stop offset="1" stop-color="#d72d37"/></linearGradient>
<linearGradient id="b186" href="#tb" y2="153"><stop offset="0" stop-color="#d72d37"/><stop offset="1" stop-color="#d72d37"/></linearGradient>
<linearGradient id="b187" href="#tb" y2="151"><stop offset="0" stop-color="#d72d37"/><stop offset="1" stop-color="#d72d37"/></linearGradient>
<linearGradient id="b188" href="#tb" y2="149"><stop offset="0" stop-color="#d62d37"/><stop offset="1" stop-color="#d72d37"/></linearGradient>
<linearGradient id="b189" href="#tb" y2="147"><stop offset="0" stop-color="#d62d37"/><stop offset="1" stop-color="#d62d37"/></linearGradient>
<linearGradient id="b190" href="#tb" y2="145"><stop offset="0" stop-color="#d62d37"/><stop offset="1" stop-color="#d62d37"/></linearGradient>
<linearGradient id="b191" href="#tb" y2="143"><stop offset="0" stop-color="#d62d37"/><stop offset="1" stop-color="#d62d37"/></linearGradient>
<linearGradient id="b192" href="#tb" y2="141"><stop offset="0" stop-color="#d62d37"/><stop offset="1" stop-color="#d62d37"/></linearGradient>
<linearGradient id="b193" href="#tb" y2="139"><stop offset="0" stop-color="#d62d37"/><stop offset="1" stop-color="#d62d37"/></linearGradient>
<linearGradient id="b194" href="#tb" y2="137"><stop offset="0" stop-color="#d62c36"/><stop offset="1" stop-color="#d62d37"/></linearGradient>
<linearGradient id="b195" href="#tb" y2="135"><stop offset="0" stop-color="#d62c36"/><stop offset="1" stop-color="#d62c36"/></linearGradient>
<linearGradient id="b196" href="#tb" y2="133"><stop offset="0" stop-color="#d62c36"/><stop offset="1" stop-color="#d62c36"/></linearGradient>
<linearGradient id="b197" href="#tb" y2="131"><stop offset="0" stop-color="#d52c36"/><stop offset="1" stop-color="#d62c36"/></linearGradient>
<linearGradient id="b198" href="#tb" y2="129"><stop offset="0" stop-color="#d52c36"/><stop offset="1" stop-color="#d52c36"/></linearGradient>
<linearGradient id="b199" href="#tb" y2="127"><stop offset="0" stop-color="#d52c36"/><stop offset="1" stop-color="#d52c36"/></linearGradient>
<linearGradient id="b200" href="#tb" y2="125"><stop offset="0" stop-color="#d52c36"/><stop offset="1" stop-color="#d52c36"/></linearGradient>
<linearGradient id="b201" href="#tb" y2="123"><stop offset="0" stop-color="#d52c36"/><stop offset="1" stop-color="#d52c36"/></linearGradient>
<linearGradient id="b202" href="#tb" y2="121"><stop offset="0" stop-color="#d52c36"/><stop offset="1" stop-color="#d52c36"/></linearGradient>
<linearGradient id="b203" href="#tb" y2="119"><stop offset="0" stop-color="#d52c36"/><stop offset="1" stop-color="#d52c36"/></linearGradient>
<linearGradient id="b204" href="#tb" y2="117"><stop offset="0" stop-color="#d52c36"/><stop offset="1" stop-color="#d52c36"/></linearGradient>
<linearGradient id="b205" href="#tb" y2="115"><stop offset="0" stop-color="#d52c36"/><stop offset="1" stop-color="#d52c36"/></linearGradient>
<linearGradient id="b206" href="#tb" y2="113"><stop offset="0" stop-color="#d52c36"/><stop offset="1" stop-color="#d52c36"/></linearGradient>
<linearGradient id="b207" href="#tb" y2="111"><stop offset="0" stop-color="#d52c36"/><stop offset="1" stop-color="#d52c36"/></linearGradient>
<linearGradient id="b208" href="#tb" y2="109"><stop offset="0" stop-color="#d52c36"/><stop offset="1" stop-color="#d52c36"/></linearGradient>
<linearGradient id="b209" href="#tb" y2="107"><stop offset="0" stop-color="#d52c36"/><stop offset="1" stop-color="#d52c36"/></linearGradient>
<linearGradient id="b210" href="#tb" y2="105"><stop offset="0" stop-color="#d52c36"/><stop offset="1" stop-color="#d52c36"/></linearGradient>
<linearGradient id="b211" href="#tb" y2="103"><stop offset="0" stop-color="#d52c36"/><stop offset="1" stop-color="#d52c36"/></linearGradient>
<linearGradient id="b212" href="#tb" y2="101"><stop offset="0" stop-color="#d52c36"/><stop offset="1" stop-color="#d52c36"/></linearGradient>
<linearGradient id="b213" href="#tb" y2="99"><stop offset="0" stop-color="#d52c36"/><stop offset="1" stop-color="#d52c36"/></linearGradient>
<linearGradient id="b214" href="#tb" y2="97"><stop offset="0" stop-color="#d52c36"/><stop offset="1" stop-color="#d52c36"/></linearGradient>
<linearGradient id="b215" href="#tb" y2="95"><stop offset="0" stop-color="#d52c36"/><stop offset="1" stop-color="#d52c36"/></linearGradient>
<linearGradient id="b216" href="#tb" y2="93"><stop offset="0" stop-color="#d52c36"/><stop offset="1" stop-color="#d52c36"/></linearGradient>
<linearGradient id="b217" href="#tb" y2="91"><stop offset="0" stop-color="#d52c36"/><stop offset="1" stop-color="#d52c36"/></linearGradient>
<linearGradient id="b218" href="#tb" y2="89"><stop offset="0" stop-color="#d52c36"/><stop offset="1" stop-color="#d52c36"/></linearGradient>
<linearGradient id="b219" href="#tb" y2="87"><stop offset="0" stop-color="#d52c36"/><stop offset="1" stop-color="#d52c36"/></linearGradient>
<linearGradient id="b220" href="#tb" y2="85"><stop offset="0" stop-color="#d52c36"/><stop offset="1" stop-color="#d52c36"/></linearGradient>
<linearGradient id="b221" href="#tb" y2="83"><stop offset="0" stop-color="#d52c36"/><stop offset="1" stop-color="#d52c36"/></linearGradient>
<linearGradient id="b222" href="#tb" y2="82"><stop offset="0" stop-color="#d52c36"/><stop offset="1" stop-color="#d62c36"/></linearGradient>
<linearGradient id="cb" x1="0" y1="1" x2="0" y2="0"><stop offset="0" stop-color="#6b1f70"/><stop offset=".029" stop-color="#5c2c82"/><stop offset=".059" stop-color="#46308f"/><stop offset=".118" stop-color="#2f409c"/><stop offset=".176" stop-color="#3458a8"/><stop offset=".206" stop-color="#3a5fae"/><stop offset=".235" stop-color="#3d6ab4"/><stop offset=".265" stop-color="#3b78bc"/><stop offset=".294" stop-color="#3a88c0"/><stop offset=".324" stop-color="#3c93bc"/><stop offset=".353" stop-color="#459ca8"/><stop offset=".382" stop-color="#4da098"/><stop offset=".412" stop-color="#54a48a"/><stop offset=".441" stop-color="#5daa7e"/><stop offset=".471" stop-color="#68ae76"/><stop offset=".5" stop-color="#72b06f"/><stop offset=".529" stop-color="#7db268"/><stop offset=".559" stop-color="#88b360"/><stop offset=".588" stop-color="#94b45a"/><stop offset=".618" stop-color="#a0b454"/><stop offset=".647" stop-color="#aeb44e"/><stop offset=".676" stop-color="#bdb44a"/><stop offset=".706" stop-color="#cbb244"/><stop offset=".735" stop-color="#d0aa42"/><stop offset=".765" stop-color="#d8a040"/><stop offset=".794" stop-color="#de983e"/><stop offset=".824" stop-color="#e28e3c"/><stop offset=".853" stop-color="#e4803a"/><stop offset=".882" stop-color="#e56f38"/><stop offset=".912" stop-color="#e06237"/><stop offset=".941" stop-color="#e04e33"/><stop offset=".971" stop-color="#e0332e"/><stop offset="1" stop-color="#e21f2d"/></linearGradient>
<linearGradient id="stk" gradientUnits="userSpaceOnUse" x1="700" y1="520" x2="760" y2="460"><stop offset="0" stop-color="#76bd51"/><stop offset=".4" stop-color="#aacf48"/><stop offset=".75" stop-color="#d6df40"/><stop offset="1" stop-color="#e6e33e"/></linearGradient>
<clipPath id="cl"><path d="M87 520L533 74V520Z"/></clipPath>
<clipPath id="cr"><path d="M700 520L1146 76V520Z"/></clipPath>
<clipPath id="cp"><rect x="700" y="76" width="446" height="444"/></clipPath>
<filter id="bl" x="-2%" y="-2%" width="104%" height="104%" color-interpolation-filters="sRGB"><feGaussianBlur stdDeviation="0.9"/></filter>
</defs>
<g transform="matrix(1.0022 0 0 1 -.1914 0)"><g id="hl" shape-rendering="crispEdges"><rect x="87" y="74" width="446.5" height="1" fill="url(#a0)"/><rect x="87" y="75" width="446.5" height="1" fill="url(#a1)"/><rect x="87" y="76" width="446.5" height="1" fill="url(#a2)"/><rect x="87" y="77" width="446.5" height="1" fill="url(#a3)"/><rect x="87" y="78" width="446" height="1" fill="url(#a4)"/><rect x="87" y="79" width="445" height="1" fill="url(#a5)"/><rect x="87" y="80" width="444" height="1" fill="url(#a6)"/><rect x="87" y="81" width="443" height="1" fill="url(#a7)"/><rect x="87" y="82" width="442" height="1" fill="url(#a8)"/><rect x="87" y="83" width="441" height="1" fill="url(#a9)"/><rect x="87" y="84" width="440" height="1" fill="url(#a10)"/><rect x="87" y="85" width="439" height="1" fill="url(#a11)"/><rect x="87" y="86" width="438" height="1" fill="url(#a12)"/><rect x="87" y="87" width="437" height="1" fill="url(#a13)"/><rect x="87" y="88" width="436" height="1" fill="url(#a14)"/><rect x="87" y="89" width="435" height="1" fill="url(#a15)"/><rect x="87" y="90" width="434" height="1" fill="url(#a16)"/><rect x="87" y="91" width="433" height="1" fill="url(#a17)"/><rect x="87" y="92" width="432" height="1" fill="url(#a18)"/><rect x="87" y="93" width="431" height="1" fill="url(#a19)"/><rect x="87" y="94" width="430" height="1" fill="url(#a20)"/><rect x="87" y="95" width="429" height="1" fill="url(#a21)"/><rect x="87" y="96" width="428" height="1" fill="url(#a22)"/><rect x="87" y="97" width="427" height="1" fill="url(#a23)"/><rect x="87" y="98" width="426" height="1" fill="url(#a24)"/><rect x="87" y="99" width="425" height="1" fill="url(#a25)"/><rect x="87" y="100" width="424" height="1" fill="url(#a26)"/><rect x="87" y="101" width="423" height="1" fill="url(#a27)"/><rect x="87" y="102" width="422" height="1" fill="url(#a28)"/><rect x="87" y="103" width="421" height="1" fill="url(#a29)"/><rect x="87" y="104" width="420" height="1" fill="url(#a30)"/><rect x="87" y="105" width="419" height="1" fill="url(#a31)"/><rect x="87" y="106" width="418" height="1" fill="url(#a32)"/><rect x="87" y="107" width="417" height="1" fill="url(#a33)"/><rect x="87" y="108" width="416" height="1" fill="url(#a34)"/><rect x="87" y="109" width="415" height="1" fill="url(#a35)"/><rect x="87" y="110" width="414" height="1" fill="url(#a36)"/><rect x="87" y="111" width="413" height="1" fill="url(#a37)"/><rect x="87" y="112" width="412" height="1" fill="url(#a38)"/><rect x="87" y="113" width="411" height="1" fill="url(#a39)"/><rect x="87" y="114" width="410" height="1" fill="url(#a40)"/><rect x="87" y="115" width="409" height="1" fill="url(#a41)"/><rect x="87" y="116" width="408" height="1" fill="url(#a42)"/><rect x="87" y="117" width="407" height="1" fill="url(#a43)"/><rect x="87" y="118" width="406" height="1" fill="url(#a44)"/><rect x="87" y="119" width="405" height="1" fill="url(#a45)"/><rect x="87" y="120" width="404" height="1" fill="url(#a46)"/><rect x="87" y="121" width="403" height="1" fill="url(#a47)"/><rect x="87" y="122" width="402" height="1" fill="url(#a48)"/><rect x="87" y="123" width="401" height="1" fill="url(#a49)"/><rect x="87" y="124" width="400" height="1" fill="url(#a50)"/><rect x="87" y="125" width="399" height="1" fill="url(#a51)"/><rect x="87" y="126" width="398" height="1" fill="url(#a52)"/><rect x="87" y="127" width="397" height="1" fill="url(#a53)"/><rect x="87" y="128" width="396" height="1" fill="url(#a54)"/><rect x="87" y="129" width="395" height="1" fill="url(#a55)"/><rect x="87" y="130" width="394" height="1" fill="url(#a56)"/><rect x="87" y="131" width="393" height="1" fill="url(#a57)"/><rect x="87" y="132" width="392" height="1" fill="url(#a58)"/><rect x="87" y="133" width="391" height="1" fill="url(#a59)"/><rect x="87" y="134" width="390" height="1" fill="url(#a60)"/><rect x="87" y="135" width="389" height="1" fill="url(#a61)"/><rect x="87" y="136" width="388" height="1" fill="url(#a62)"/><rect x="87" y="137" width="387" height="1" fill="url(#a63)"/><rect x="87" y="138" width="386" height="1" fill="url(#a64)"/><rect x="87" y="139" width="385" height="1" fill="url(#a65)"/><rect x="87" y="140" width="384" height="1" fill="url(#a66)"/><rect x="87" y="141" width="383" height="1" fill="url(#a67)"/><rect x="87" y="142" width="382" height="1" fill="url(#a68)"/><rect x="87" y="143" width="381" height="1" fill="url(#a69)"/><rect x="87" y="144" width="380" height="1" fill="url(#a70)"/><rect x="87" y="145" width="379" height="1" fill="url(#a71)"/><rect x="87" y="146" width="378" height="1" fill="url(#a72)"/><rect x="87" y="147" width="377" height="1" fill="url(#a73)"/><rect x="87" y="148" width="376" height="1" fill="url(#a74)"/><rect x="87" y="149" width="375" height="1" fill="url(#a75)"/><rect x="87" y="150" width="374" height="1" fill="url(#a76)"/><rect x="87" y="151" width="373" height="1" fill="url(#a77)"/><rect x="87" y="152" width="372" height="1" fill="url(#a78)"/><rect x="87" y="153" width="371" height="1" fill="url(#a79)"/><rect x="87" y="154" width="370" height="1" fill="url(#a80)"/><rect x="87" y="155" width="369" height="1" fill="url(#a81)"/><rect x="87" y="156" width="368" height="1" fill="url(#a82)"/><rect x="87" y="157" width="367" height="1" fill="url(#a83)"/><rect x="87" y="158" width="366" height="1" fill="url(#a84)"/><rect x="87" y="159" width="365" height="1" fill="url(#a85)"/><rect x="87" y="160" width="364" height="1" fill="url(#a86)"/><rect x="87" y="161" width="363" height="1" fill="url(#a87)"/><rect x="87" y="162" width="362" height="1" fill="url(#a88)"/><rect x="87" y="163" width="361" height="1" fill="url(#a89)"/><rect x="87" y="164" width="360" height="1" fill="url(#a90)"/><rect x="87" y="165" width="359" height="1" fill="url(#a91)"/><rect x="87" y="166" width="358" height="1" fill="url(#a92)"/><rect x="87" y="167" width="357" height="1" fill="url(#a93)"/><rect x="87" y="168" width="356" height="1" fill="url(#a94)"/><rect x="87" y="169" width="355" height="1" fill="url(#a95)"/><rect x="87" y="170" width="354" height="1" fill="url(#a96)"/><rect x="87" y="171" width="353" height="1" fill="url(#a97)"/><rect x="87" y="172" width="352" height="1" fill="url(#a98)"/><rect x="87" y="173" width="351" height="1" fill="url(#a99)"/><rect x="87" y="174" width="350" height="1" fill="url(#a100)"/><rect x="87" y="175" width="349" height="1" fill="url(#a101)"/><rect x="87" y="176" width="348" height="1" fill="url(#a102)"/><rect x="87" y="177" width="347" height="1" fill="url(#a103)"/><rect x="87" y="178" width="346" height="1" fill="url(#a104)"/><rect x="87" y="179" width="345" height="1" fill="url(#a105)"/><rect x="87" y="180" width="344" height="1" fill="url(#a106)"/><rect x="87" y="181" width="343" height="1" fill="url(#a107)"/><rect x="87" y="182" width="342" height="1" fill="url(#a108)"/><rect x="87" y="183" width="341" height="1" fill="url(#a109)"/><rect x="87" y="184" width="340" height="1" fill="url(#a110)"/><rect x="87" y="185" width="339" height="1" fill="url(#a111)"/><rect x="87" y="186" width="338" height="1" fill="url(#a112)"/><rect x="87" y="187" width="337" height="1" fill="url(#a113)"/><rect x="87" y="188" width="336" height="1" fill="url(#a114)"/><rect x="87" y="189" width="335" height="1" fill="url(#a115)"/><rect x="87" y="190" width="334" height="1" fill="url(#a116)"/><rect x="87" y="191" width="333" height="1" fill="url(#a117)"/><rect x="87" y="192" width="332" height="1" fill="url(#a118)"/><rect x="87" y="193" width="331" height="1" fill="url(#a119)"/><rect x="87" y="194" width="330" height="1" fill="url(#a120)"/><rect x="87" y="195" width="329" height="1" fill="url(#a121)"/><rect x="87" y="196" width="328" height="1" fill="url(#a122)"/><rect x="87" y="197" width="327" height="1" fill="url(#a123)"/><rect x="87" y="198" width="326" height="1" fill="url(#a124)"/><rect x="87" y="199" width="325" height="1" fill="url(#a125)"/><rect x="87" y="200" width="324" height="1" fill="url(#a126)"/><rect x="87" y="201" width="323" height="1" fill="url(#a127)"/><rect x="87" y="202" width="322" height="1" fill="url(#a128)"/><rect x="87" y="203" width="321" height="1" fill="url(#a129)"/><rect x="87" y="204" width="320" height="1" fill="url(#a130)"/><rect x="87" y="205" width="319" height="1" fill="url(#a131)"/><rect x="87" y="206" width="318" height="1" fill="url(#a132)"/><rect x="87" y="207" width="317" height="1" fill="url(#a133)"/><rect x="87" y="208" width="316" height="1" fill="url(#a134)"/><rect x="87" y="209" width="315" height="1" fill="url(#a135)"/><rect x="87" y="210" width="314" height="1" fill="url(#a136)"/><rect x="87" y="211" width="313" height="1" fill="url(#a137)"/><rect x="87" y="212" width="312" height="1" fill="url(#a138)"/><rect x="87" y="213" width="311" height="1" fill="url(#a139)"/><rect x="87" y="214" width="310" height="1" fill="url(#a140)"/><rect x="87" y="215" width="309" height="1" fill="url(#a141)"/><rect x="87" y="216" width="308" height="1" fill="url(#a142)"/><rect x="87" y="217" width="307" height="1" fill="url(#a143)"/><rect x="87" y="218" width="306" height="1" fill="url(#a144)"/><rect x="87" y="219" width="305" height="1" fill="url(#a145)"/><rect x="87" y="220" width="304" height="1" fill="url(#a146)"/><rect x="87" y="221" width="303" height="1" fill="url(#a147)"/><rect x="87" y="222" width="302" height="1" fill="url(#a148)"/><rect x="87" y="223" width="301" height="1" fill="url(#a149)"/><rect x="87" y="224" width="300" height="1" fill="url(#a150)"/><rect x="87" y="225" width="299" height="1" fill="url(#a151)"/><rect x="87" y="226" width="298" height="1" fill="url(#a152)"/><rect x="87" y="227" width="297" height="1" fill="url(#a153)"/><rect x="87" y="228" width="296" height="1" fill="url(#a154)"/><rect x="87" y="229" width="295" height="1" fill="url(#a155)"/><rect x="87" y="230" width="294" height="1" fill="url(#a156)"/><rect x="87" y="231" width="293" height="1" fill="url(#a157)"/><rect x="87" y="232" width="292" height="1" fill="url(#a158)"/><rect x="87" y="233" width="291" height="1" fill="url(#a159)"/><rect x="87" y="234" width="290" height="1" fill="url(#a160)"/><rect x="87" y="235" width="289" height="1" fill="url(#a161)"/><rect x="87" y="236" width="288" height="1" fill="url(#a162)"/><rect x="87" y="237" width="287" height="1" fill="url(#a163)"/><rect x="87" y="238" width="286" height="1" fill="url(#a164)"/><rect x="87" y="239" width="285" height="1" fill="url(#a165)"/><rect x="87" y="240" width="284" height="1" fill="url(#a166)"/><rect x="87" y="241" width="283" height="1" fill="url(#a167)"/><rect x="87" y="242" width="282" height="1" fill="url(#a168)"/><rect x="87" y="243" width="281" height="1" fill="url(#a169)"/><rect x="87" y="244" width="280" height="1" fill="url(#a170)"/><rect x="87" y="245" width="279" height="1" fill="url(#a171)"/><rect x="87" y="246" width="278" height="1" fill="url(#a172)"/><rect x="87" y="247" width="277" height="1" fill="url(#a173)"/><rect x="87" y="248" width="276" height="1" fill="url(#a174)"/><rect x="87" y="249" width="275" height="1" fill="url(#a175)"/><rect x="87" y="250" width="274" height="1" fill="url(#a176)"/><rect x="87" y="251" width="273" height="1" fill="url(#a177)"/><rect x="87" y="252" width="272" height="1" fill="url(#a178)"/><rect x="87" y="253" width="271" height="1" fill="url(#a179)"/><rect x="87" y="254" width="270" height="1" fill="url(#a180)"/><rect x="87" y="255" width="269" height="1" fill="url(#a181)"/><rect x="87" y="256" width="268" height="1" fill="url(#a182)"/><rect x="87" y="257" width="267" height="1" fill="url(#a183)"/><rect x="87" y="258" width="266" height="1" fill="url(#a184)"/><rect x="87" y="259" width="265" height="1" fill="url(#a185)"/><rect x="87" y="260" width="264" height="1" fill="url(#a186)"/><rect x="87" y="261" width="263" height="1" fill="url(#a187)"/><rect x="87" y="262" width="262" height="1" fill="url(#a188)"/><rect x="87" y="263" width="261" height="1" fill="url(#a189)"/><rect x="87" y="264" width="260" height="1" fill="url(#a190)"/><rect x="87" y="265" width="259" height="1" fill="url(#a191)"/><rect x="87" y="266" width="258" height="1" fill="url(#a192)"/><rect x="87" y="267" width="257" height="1" fill="url(#a193)"/><rect x="87" y="268" width="256" height="1" fill="url(#a194)"/><rect x="87" y="269" width="255" height="1" fill="url(#a195)"/><rect x="87" y="270" width="254" height="1" fill="url(#a196)"/><rect x="87" y="271" width="253" height="1" fill="url(#a197)"/><rect x="87" y="272" width="252" height="1" fill="url(#a198)"/><rect x="87" y="273" width="251" height="1" fill="url(#a199)"/><rect x="87" y="274" width="250" height="1" fill="url(#a200)"/><rect x="87" y="275" width="249" height="1" fill="url(#a201)"/><rect x="87" y="276" width="248" height="1" fill="url(#a202)"/><rect x="87" y="277" width="247" height="1" fill="url(#a203)"/><rect x="87" y="278" width="246" height="1" fill="url(#a204)"/><rect x="87" y="279" width="245" height="1" fill="url(#a205)"/><rect x="87" y="280" width="244" height="1" fill="url(#a206)"/><rect x="87" y="281" width="243" height="1" fill="url(#a207)"/><rect x="87" y="282" width="242" height="1" fill="url(#a208)"/><rect x="87" y="283" width="241" height="1" fill="url(#a209)"/><rect x="87" y="284" width="240" height="1" fill="url(#a210)"/><rect x="87" y="285" width="239" height="1" fill="url(#a211)"/><rect x="87" y="286" width="238" height="1" fill="url(#a212)"/><rect x="87" y="287" width="237" height="1" fill="url(#a213)"/><rect x="87" y="288" width="236" height="1" fill="url(#a214)"/><rect x="87" y="289" width="235" height="1" fill="url(#a215)"/><rect x="87" y="290" width="234" height="1" fill="url(#a216)"/><rect x="87" y="291" width="233" height="1" fill="url(#a217)"/><rect x="87" y="292" width="232" height="1" fill="url(#a218)"/><rect x="87" y="293" width="231" height="1" fill="url(#a219)"/><rect x="87" y="294" width="230" height="1" fill="url(#a220)"/><rect x="87" y="295" width="229" height="1" fill="url(#a221)"/><rect x="87" y="296" width="228" height="1" fill="url(#a222)"/><rect x="87" y="297" width="227" height="1" fill="url(#a223)"/><rect x="87" y="298" width="226" height="1" fill="url(#a224)"/><rect x="87" y="299" width="225" height="1" fill="url(#a225)"/><rect x="87" y="300" width="224" height="1" fill="url(#a226)"/><rect x="87" y="301" width="223" height="1" fill="url(#a227)"/><rect x="87" y="302" width="222" height="1" fill="url(#a228)"/><rect x="87" y="303" width="221" height="1" fill="url(#a229)"/><rect x="87" y="304" width="220" height="1" fill="url(#a230)"/><rect x="87" y="305" width="219" height="1" fill="url(#a231)"/><rect x="87" y="306" width="218" height="1" fill="url(#a232)"/><rect x="87" y="307" width="217" height="1" fill="url(#a233)"/><rect x="87" y="308" width="216" height="1" fill="url(#a234)"/><rect x="87" y="309" width="215" height="1" fill="url(#a235)"/><rect x="87" y="310" width="214" height="1" fill="url(#a236)"/><rect x="87" y="311" width="213" height="1" fill="url(#a237)"/><rect x="87" y="312" width="212" height="1" fill="url(#a238)"/><rect x="87" y="313" width="211" height="1" fill="url(#a239)"/><rect x="87" y="314" width="210" height="1" fill="url(#a240)"/><rect x="87" y="315" width="209" height="1" fill="url(#a241)"/><rect x="87" y="316" width="208" height="1" fill="url(#a242)"/><rect x="87" y="317" width="207" height="1" fill="url(#a243)"/><rect x="87" y="318" width="206" height="1" fill="url(#a244)"/><rect x="87" y="319" width="205" height="1" fill="url(#a245)"/><rect x="87" y="320" width="204" height="1" fill="url(#a246)"/><rect x="87" y="321" width="203" height="1" fill="url(#a247)"/><rect x="87" y="322" width="202" height="1" fill="url(#a248)"/><rect x="87" y="323" width="201" height="1" fill="url(#a249)"/><rect x="87" y="324" width="200" height="1" fill="url(#a250)"/><rect x="87" y="325" width="199" height="1" fill="url(#a251)"/><rect x="87" y="326" width="198" height="1" fill="url(#a252)"/><rect x="87" y="327" width="197" height="1" fill="url(#a253)"/><rect x="87" y="328" width="196" height="1" fill="url(#a254)"/><rect x="87" y="329" width="195" height="1" fill="url(#a255)"/><rect x="87" y="330" width="194" height="1" fill="url(#a256)"/><rect x="87" y="331" width="193" height="1" fill="url(#a257)"/><rect x="87" y="332" width="192" height="1" fill="url(#a258)"/><rect x="87" y="333" width="191" height="1" fill="url(#a259)"/><rect x="87" y="334" width="190" height="1" fill="url(#a260)"/><rect x="87" y="335" width="189" height="1" fill="url(#a261)"/><rect x="87" y="336" width="188" height="1" fill="url(#a262)"/><rect x="87" y="337" width="187" height="1" fill="url(#a263)"/><rect x="87" y="338" width="186" height="1" fill="url(#a264)"/><rect x="87" y="339" width="185" height="1" fill="url(#a265)"/><rect x="87" y="340" width="184" height="1" fill="url(#a266)"/><rect x="87" y="341" width="183" height="1" fill="url(#a267)"/><rect x="87" y="342" width="182" height="1" fill="url(#a268)"/><rect x="87" y="343" width="181" height="1" fill="url(#a269)"/><rect x="87" y="344" width="180" height="1" fill="url(#a270)"/><rect x="87" y="345" width="179" height="1" fill="url(#a271)"/><rect x="87" y="346" width="178" height="1" fill="url(#a272)"/><rect x="87" y="347" width="177" height="1" fill="url(#a273)"/><rect x="87" y="348" width="176" height="1" fill="url(#a274)"/><rect x="87" y="349" width="175" height="1" fill="url(#a275)"/><rect x="87" y="350" width="174" height="1" fill="url(#a276)"/><rect x="87" y="351" width="173" height="1" fill="url(#a277)"/><rect x="87" y="352" width="172" height="1" fill="url(#a278)"/><rect x="87" y="353" width="171" height="1" fill="url(#a279)"/><rect x="87" y="354" width="170" height="1" fill="url(#a280)"/><rect x="87" y="355" width="169" height="1" fill="url(#a281)"/><rect x="87" y="356" width="168" height="1" fill="url(#a282)"/><rect x="87" y="357" width="167" height="1" fill="url(#a283)"/><rect x="87" y="358" width="166" height="1" fill="url(#a284)"/><rect x="87" y="359" width="165" height="1" fill="url(#a285)"/><rect x="87" y="360" width="164" height="1" fill="url(#a286)"/><rect x="87" y="361" width="163" height="1" fill="url(#a287)"/><rect x="87" y="362" width="162" height="1" fill="url(#a288)"/><rect x="87" y="363" width="161" height="1" fill="url(#a289)"/><rect x="87" y="364" width="160" height="1" fill="url(#a290)"/><rect x="87" y="365" width="159" height="1" fill="url(#a291)"/><rect x="87" y="366" width="158" height="1" fill="url(#a292)"/><rect x="87" y="367" width="157" height="1" fill="url(#a293)"/><rect x="87" y="368" width="156" height="1" fill="url(#a294)"/><rect x="87" y="369" width="155" height="1" fill="url(#a295)"/><rect x="87" y="370" width="154" height="1" fill="url(#a296)"/><rect x="87" y="371" width="153" height="1" fill="url(#a297)"/><rect x="87" y="372" width="152" height="1" fill="url(#a298)"/><rect x="87" y="373" width="151" height="1" fill="url(#a299)"/><rect x="87" y="374" width="150" height="1" fill="url(#a300)"/><rect x="87" y="375" width="149" height="1" fill="url(#a301)"/><rect x="87" y="376" width="148" height="1" fill="url(#a302)"/><rect x="87" y="377" width="147" height="1" fill="url(#a303)"/><rect x="87" y="378" width="146" height="1" fill="url(#a304)"/><rect x="87" y="379" width="145" height="1" fill="url(#a305)"/><rect x="87" y="380" width="144" height="1" fill="url(#a306)"/><rect x="87" y="381" width="143" height="1" fill="url(#a307)"/><rect x="87" y="382" width="142" height="1" fill="url(#a308)"/><rect x="87" y="383" width="141" height="1" fill="url(#a309)"/><rect x="87" y="384" width="140" height="1" fill="url(#a310)"/><rect x="87" y="385" width="139" height="1" fill="url(#a311)"/><rect x="87" y="386" width="138" height="1" fill="url(#a312)"/><rect x="87" y="387" width="137" height="1" fill="url(#a313)"/><rect x="87" y="388" width="136" height="1" fill="url(#a314)"/><rect x="87" y="389" width="135" height="1" fill="url(#a315)"/><rect x="87" y="390" width="134" height="1" fill="url(#a316)"/><rect x="87" y="391" width="133" height="1" fill="url(#a317)"/><rect x="87" y="392" width="132" height="1" fill="url(#a318)"/><rect x="87" y="393" width="131" height="1" fill="url(#a319)"/><rect x="87" y="394" width="130" height="1" fill="url(#a320)"/><rect x="87" y="395" width="129" height="1" fill="url(#a321)"/><rect x="87" y="396" width="128" height="1" fill="url(#a322)"/><rect x="87" y="397" width="127" height="1" fill="url(#a323)"/><rect x="87" y="398" width="126" height="1" fill="url(#a324)"/><rect x="87" y="399" width="125" height="1" fill="url(#a325)"/><rect x="87" y="400" width="124" height="1" fill="url(#a326)"/><rect x="87" y="401" width="123" height="1" fill="url(#a327)"/><rect x="87" y="402" width="122" height="1" fill="url(#a328)"/><rect x="87" y="403" width="121" height="1" fill="url(#a329)"/><rect x="87" y="404" width="120" height="1" fill="url(#a330)"/><rect x="87" y="405" width="119" height="1" fill="url(#a331)"/><rect x="87" y="406" width="118" height="1" fill="url(#a332)"/><rect x="87" y="407" width="117" height="1" fill="url(#a333)"/><rect x="87" y="408" width="116" height="1" fill="url(#a334)"/><rect x="87" y="409" width="115" height="1" fill="url(#a335)"/><rect x="87" y="410" width="114" height="1" fill="url(#a336)"/><rect x="87" y="411" width="113" height="1" fill="url(#a337)"/><rect x="87" y="412" width="112" height="1" fill="url(#a338)"/><rect x="87" y="413" width="111" height="1" fill="url(#a339)"/><rect x="87" y="414" width="110" height="1" fill="url(#a340)"/><rect x="87" y="415" width="109" height="1" fill="url(#a341)"/><rect x="87" y="416" width="108" height="1" fill="url(#a342)"/><rect x="87" y="417" width="107" height="1" fill="url(#a343)"/><rect x="87" y="418" width="106" height="1" fill="url(#a344)"/><rect x="87" y="419" width="105" height="1" fill="url(#a345)"/><rect x="87" y="420" width="104" height="1" fill="url(#a346)"/><rect x="87" y="421" width="103" height="1" fill="url(#a347)"/><rect x="87" y="422" width="102" height="1" fill="url(#a348)"/><rect x="87" y="423" width="101" height="1" fill="url(#a349)"/><rect x="87" y="424" width="100" height="1" fill="url(#a350)"/><rect x="87" y="425" width="99" height="1" fill="url(#a351)"/><rect x="87" y="426" width="98" height="1" fill="url(#a352)"/><rect x="87" y="427" width="97" height="1" fill="url(#a353)"/><rect x="87" y="428" width="96" height="1" fill="url(#a354)"/><rect x="87" y="429" width="95" height="1" fill="url(#a355)"/><rect x="87" y="430" width="94" height="1" fill="url(#a356)"/><rect x="87" y="431" width="93" height="1" fill="url(#a357)"/><rect x="87" y="432" width="92" height="1" fill="url(#a358)"/><rect x="87" y="433" width="91" height="1" fill="url(#a359)"/><rect x="87" y="434" width="90" height="1" fill="url(#a360)"/><rect x="87" y="435" width="89" height="1" fill="url(#a361)"/><rect x="87" y="436" width="88" height="1" fill="url(#a362)"/><rect x="87" y="437" width="87" height="1" fill="url(#a363)"/><rect x="87" y="438" width="86" height="1" fill="url(#a364)"/><rect x="87" y="439" width="85" height="1" fill="url(#a365)"/><rect x="87" y="440" width="84" height="1" fill="url(#a366)"/><rect x="87" y="441" width="83" height="1" fill="url(#a367)"/><rect x="87" y="442" width="82" height="1" fill="url(#a368)"/><rect x="87" y="443" width="81" height="1" fill="url(#a369)"/><rect x="87" y="444" width="80" height="1" fill="url(#a370)"/><rect x="87" y="445" width="79" height="1" fill="url(#a371)"/><rect x="87" y="446" width="78" height="1" fill="url(#a372)"/><rect x="87" y="447" width="77" height="1" fill="url(#a373)"/><rect x="87" y="448" width="76" height="1" fill="url(#a374)"/><rect x="87" y="449" width="75" height="1" fill="url(#a375)"/><rect x="87" y="450" width="74" height="1" fill="url(#a376)"/><rect x="87" y="451" width="73" height="1" fill="url(#a377)"/><rect x="87" y="452" width="72" height="1" fill="url(#a378)"/><rect x="87" y="453" width="71" height="1" fill="url(#a379)"/><rect x="87" y="454" width="70" height="1" fill="url(#a380)"/><rect x="87" y="455" width="69" height="1" fill="url(#a381)"/><rect x="87" y="456" width="68" height="1" fill="url(#a382)"/><rect x="87" y="457" width="67" height="1" fill="url(#a383)"/><rect x="87" y="458" width="66" height="1" fill="url(#a384)"/><rect x="87" y="459" width="65" height="1" fill="url(#a385)"/><rect x="87" y="460" width="64" height="1" fill="url(#a386)"/><rect x="87" y="461" width="63" height="1" fill="url(#a387)"/><rect x="87" y="462" width="62" height="1" fill="url(#a388)"/><rect x="87" y="463" width="61" height="1" fill="url(#a389)"/><rect x="87" y="464" width="60" height="1" fill="url(#a390)"/><rect x="87" y="465" width="59" height="1" fill="url(#a391)"/><rect x="87" y="466" width="58" height="1" fill="url(#a392)"/><rect x="87" y="467" width="57" height="1" fill="url(#a393)"/><rect x="87" y="468" width="56" height="1" fill="url(#a394)"/><rect x="87" y="469" width="55" height="1" fill="url(#a395)"/><rect x="87" y="470" width="54" height="1" fill="url(#a396)"/><rect x="87" y="471" width="53" height="1" fill="url(#a397)"/><rect x="87" y="472" width="52" height="1" fill="url(#a398)"/><rect x="87" y="473" width="51" height="1" fill="url(#a399)"/><rect x="87" y="474" width="50" height="1" fill="url(#a400)"/><rect x="87" y="475" width="49" height="1" fill="url(#a401)"/><rect x="87" y="476" width="48" height="1" fill="url(#a402)"/><rect x="87" y="477" width="47" height="1" fill="url(#a403)"/><rect x="87" y="478" width="46" height="1" fill="url(#a404)"/><rect x="87" y="479" width="45" height="1" fill="url(#a405)"/><rect x="87" y="480" width="44" height="1" fill="url(#a406)"/><rect x="87" y="481" width="43" height="1" fill="url(#a407)"/><rect x="87" y="482" width="42" height="1" fill="url(#a408)"/><rect x="87" y="483" width="41" height="1" fill="url(#a409)"/><rect x="87" y="484" width="40" height="1" fill="url(#a410)"/><rect x="87" y="485" width="39" height="1" fill="url(#a411)"/><rect x="87" y="486" width="38" height="1" fill="url(#a412)"/><rect x="87" y="487" width="37" height="1" fill="url(#a413)"/><rect x="87" y="488" width="36" height="1" fill="url(#a414)"/><rect x="87" y="489" width="35" height="1" fill="url(#a415)"/><rect x="87" y="490" width="34" height="1" fill="url(#a416)"/><rect x="87" y="491" width="33" height="1" fill="url(#a417)"/><rect x="87" y="492" width="32" height="1" fill="url(#a418)"/><rect x="87" y="493" width="31" height="1" fill="url(#a419)"/><rect x="87" y="494" width="30" height="1" fill="url(#a420)"/><rect x="87" y="495" width="29" height="1" fill="url(#a421)"/><rect x="87" y="496" width="28" height="1" fill="url(#a422)"/><rect x="87" y="497" width="27" height="1" fill="url(#a423)"/><rect x="87" y="498" width="26" height="1" fill="url(#a424)"/><rect x="87" y="499" width="25" height="1" fill="url(#a425)"/><rect x="87" y="500" width="24" height="1" fill="url(#a426)"/><rect x="87" y="501" width="23" height="1" fill="url(#a427)"/><rect x="87" y="502" width="22" height="1" fill="url(#a428)"/><rect x="87" y="503" width="21" height="1" fill="url(#a429)"/><rect x="87" y="504" width="20" height="1" fill="url(#a430)"/><rect x="87" y="505" width="19" height="1" fill="url(#a431)"/><rect x="87" y="506" width="18" height="1" fill="url(#a432)"/><rect x="87" y="507" width="17" height="1" fill="url(#a433)"/><rect x="87" y="508" width="16" height="1" fill="url(#a434)"/><rect x="87" y="509" width="15" height="1" fill="url(#a435)"/><rect x="87" y="510" width="14" height="1" fill="url(#a436)"/><rect x="87" y="511" width="13" height="1" fill="url(#a437)"/><rect x="87" y="512" width="12" height="1" fill="url(#a438)"/><rect x="87" y="513" width="11" height="1" fill="url(#a439)"/><rect x="87" y="514" width="10" height="1" fill="url(#a440)"/><rect x="87" y="515" width="9" height="1" fill="url(#a441)"/><rect x="87" y="516" width="8" height="1" fill="url(#a442)"/><rect x="87" y="517" width="7" height="1" fill="url(#a443)"/><rect x="87" y="518" width="6" height="1" fill="url(#a444)"/><rect x="87" y="519" width="5" height="1" fill="url(#a445)"/></g>
<g clip-path="url(#cl)"><use href="#hl" transform="matrix(0 -1 -1 0 607 607)"/></g></g>
<rect x="308.75" y="74" width=".85" height="446" fill="#fff" opacity=".27"/>
<g id="rf"><g id="hr" shape-rendering="crispEdges"><rect x="700" y="76" width="2" height="444" fill="url(#b0)"/><rect x="702" y="76" width="2" height="444" fill="url(#b1)"/><rect x="704" y="76" width="2" height="444" fill="url(#b2)"/><rect x="706" y="76" width="2" height="442" fill="url(#b3)"/><rect x="708" y="76" width="2" height="440" fill="url(#b4)"/><rect x="710" y="76" width="2" height="438" fill="url(#b5)"/><rect x="712" y="76" width="2" height="436" fill="url(#b6)"/><rect x="714" y="76" width="2" height="434" fill="url(#b7)"/><rect x="716" y="76" width="2" height="432" fill="url(#b8)"/><rect x="718" y="76" width="2" height="430" fill="url(#b9)"/><rect x="720" y="76" width="2" height="428" fill="url(#b10)"/><rect x="722" y="76" width="2" height="426" fill="url(#b11)"/><rect x="724" y="76" width="2" height="424" fill="url(#b12)"/><rect x="726" y="76" width="2" height="422" fill="url(#b13)"/><rect x="728" y="76" width="2" height="420" fill="url(#b14)"/><rect x="730" y="76" width="2" height="418" fill="url(#b15)"/><rect x="732" y="76" width="2" height="416" fill="url(#b16)"/><rect x="734" y="76" width="2" height="414" fill="url(#b17)"/><rect x="736" y="76" width="2" height="412" fill="url(#b18)"/><rect x="738" y="76" width="2" height="410" fill="url(#b19)"/><rect x="740" y="76" width="2" height="408" fill="url(#b20)"/><rect x="742" y="76" width="2" height="406" fill="url(#b21)"/><rect x="744" y="76" width="2" height="404" fill="url(#b22)"/><rect x="746" y="76" width="2" height="402" fill="url(#b23)"/><rect x="748" y="76" width="2" height="400" fill="url(#b24)"/><rect x="750" y="76" width="2" height="398" fill="url(#b25)"/><rect x="752" y="76" width="2" height="396" fill="url(#b26)"/><rect x="754" y="76" width="2" height="394" fill="url(#b27)"/><rect x="756" y="76" width="2" height="392" fill="url(#b28)"/><rect x="758" y="76" width="2" height="390" fill="url(#b29)"/><rect x="760" y="76" width="2" height="388" fill="url(#b30)"/><rect x="762" y="76" width="2" height="386" fill="url(#b31)"/><rect x="764" y="76" width="2" height="384" fill="url(#b32)"/><rect x="766" y="76" width="2" height="382" fill="url(#b33)"/><rect x="768" y="76" width="2" height="380" fill="url(#b34)"/><rect x="770" y="76" width="2" height="378" fill="url(#b35)"/><rect x="772" y="76" width="2" height="376" fill="url(#b36)"/><rect x="774" y="76" width="2" height="374" fill="url(#b37)"/><rect x="776" y="76" width="2" height="372" fill="url(#b38)"/><rect x="778" y="76" width="2" height="370" fill="url(#b39)"/><rect x="780" y="76" width="2" height="368" fill="url(#b40)"/><rect x="782" y="76" width="2" height="366" fill="url(#b41)"/><rect x="784" y="76" width="2" height="364" fill="url(#b42)"/><rect x="786" y="76" width="2" height="362" fill="url(#b43)"/><rect x="788" y="76" width="2" height="360" fill="url(#b44)"/><rect x="790" y="76" width="2" height="358" fill="url(#b45)"/><rect x="792" y="76" width="2" height="356" fill="url(#b46)"/><rect x="794" y="76" width="2" height="354" fill="url(#b47)"/><rect x="796" y="76" width="2" height="352" fill="url(#b48)"/><rect x="798" y="76" width="2" height="350" fill="url(#b49)"/><rect x="800" y="76" width="2" height="348" fill="url(#b50)"/><rect x="802" y="76" width="2" height="346" fill="url(#b51)"/><rect x="804" y="76" width="2" height="344" fill="url(#b52)"/><rect x="806" y="76" width="2" height="342" fill="url(#b53)"/><rect x="808" y="76" width="2" height="340" fill="url(#b54)"/><rect x="810" y="76" width="2" height="338" fill="url(#b55)"/><rect x="812" y="76" width="2" height="336" fill="url(#b56)"/><rect x="814" y="76" width="2" height="334" fill="url(#b57)"/><rect x="816" y="76" width="2" height="332" fill="url(#b58)"/><rect x="818" y="76" width="2" height="330" fill="url(#b59)"/><rect x="820" y="76" width="2" height="328" fill="url(#b60)"/><rect x="822" y="76" width="2" height="326" fill="url(#b61)"/><rect x="824" y="76" width="2" height="324" fill="url(#b62)"/><rect x="826" y="76" width="2" height="322" fill="url(#b63)"/><rect x="828" y="76" width="2" height="320" fill="url(#b64)"/><rect x="830" y="76" width="2" height="318" fill="url(#b65)"/><rect x="832" y="76" width="2" height="316" fill="url(#b66)"/><rect x="834" y="76" width="2" height="314" fill="url(#b67)"/><rect x="836" y="76" width="2" height="312" fill="url(#b68)"/><rect x="838" y="76" width="2" height="310" fill="url(#b69)"/><rect x="840" y="76" width="2" height="308" fill="url(#b70)"/><rect x="842" y="76" width="2" height="306" fill="url(#b71)"/><rect x="844" y="76" width="2" height="304" fill="url(#b72)"/><rect x="846" y="76" width="2" height="302" fill="url(#b73)"/><rect x="848" y="76" width="2" height="300" fill="url(#b74)"/><rect x="850" y="76" width="2" height="298" fill="url(#b75)"/><rect x="852" y="76" width="2" height="296" fill="url(#b76)"/><rect x="854" y="76" width="2" height="294" fill="url(#b77)"/><rect x="856" y="76" width="2" height="292" fill="url(#b78)"/><rect x="858" y="76" width="2" height="290" fill="url(#b79)"/><rect x="860" y="76" width="2" height="288" fill="url(#b80)"/><rect x="862" y="76" width="2" height="286" fill="url(#b81)"/><rect x="864" y="76" width="2" height="284" fill="url(#b82)"/><rect x="866" y="76" width="2" height="282" fill="url(#b83)"/><rect x="868" y="76" width="2" height="280" fill="url(#b84)"/><rect x="870" y="76" width="2" height="278" fill="url(#b85)"/><rect x="872" y="76" width="2" height="276" fill="url(#b86)"/><rect x="874" y="76" width="2" height="274" fill="url(#b87)"/><rect x="876" y="76" width="2" height="272" fill="url(#b88)"/><rect x="878" y="76" width="2" height="270" fill="url(#b89)"/><rect x="880" y="76" width="2" height="268" fill="url(#b90)"/><rect x="882" y="76" width="2" height="266" fill="url(#b91)"/><rect x="884" y="76" width="2" height="264" fill="url(#b92)"/><rect x="886" y="76" width="2" height="262" fill="url(#b93)"/><rect x="888" y="76" width="2" height="260" fill="url(#b94)"/><rect x="890" y="76" width="2" height="258" fill="url(#b95)"/><rect x="892" y="76" width="2" height="256" fill="url(#b96)"/><rect x="894" y="76" width="2" height="254" fill="url(#b97)"/><rect x="896" y="76" width="2" height="252" fill="url(#b98)"/><rect x="898" y="76" width="2" height="250" fill="url(#b99)"/><rect x="900" y="76" width="2" height="248" fill="url(#b100)"/><rect x="902" y="76" width="2" height="246" fill="url(#b101)"/><rect x="904" y="76" width="2" height="244" fill="url(#b102)"/><rect x="906" y="76" width="2" height="242" fill="url(#b103)"/><rect x="908" y="76" width="2" height="240" fill="url(#b104)"/><rect x="910" y="76" width="2" height="238" fill="url(#b105)"/><rect x="912" y="76" width="2" height="236" fill="url(#b106)"/><rect x="914" y="76" width="2" height="234" fill="url(#b107)"/><rect x="916" y="76" width="2" height="232" fill="url(#b108)"/><rect x="918" y="76" width="2" height="230" fill="url(#b109)"/><rect x="920" y="76" width="2" height="228" fill="url(#b110)"/><rect x="922" y="76" width="2" height="227" fill="url(#b111)"/><rect x="924" y="76" width="2" height="225" fill="url(#b112)"/><rect x="926" y="76" width="2" height="223" fill="url(#b113)"/><rect x="928" y="76" width="2" height="221" fill="url(#b114)"/><rect x="930" y="76" width="2" height="219" fill="url(#b115)"/><rect x="932" y="76" width="2" height="217" fill="url(#b116)"/><rect x="934" y="76" width="2" height="215" fill="url(#b117)"/><rect x="936" y="76" width="2" height="213" fill="url(#b118)"/><rect x="938" y="76" width="2" height="211" fill="url(#b119)"/><rect x="940" y="76" width="2" height="209" fill="url(#b120)"/><rect x="942" y="76" width="2" height="207" fill="url(#b121)"/><rect x="944" y="76" width="2" height="205" fill="url(#b122)"/><rect x="946" y="76" width="2" height="203" fill="url(#b123)"/><rect x="948" y="76" width="2" height="201" fill="url(#b124)"/><rect x="950" y="76" width="2" height="199" fill="url(#b125)"/><rect x="952" y="76" width="2" height="197" fill="url(#b126)"/><rect x="954" y="76" width="2" height="195" fill="url(#b127)"/><rect x="956" y="76" width="2" height="193" fill="url(#b128)"/><rect x="958" y="76" width="2" height="191" fill="url(#b129)"/><rect x="960" y="76" width="2" height="189" fill="url(#b130)"/><rect x="962" y="76" width="2" height="187" fill="url(#b131)"/><rect x="964" y="76" width="2" height="185" fill="url(#b132)"/><rect x="966" y="76" width="2" height="183" fill="url(#b133)"/><rect x="968" y="76" width="2" height="181" fill="url(#b134)"/><rect x="970" y="76" width="2" height="179" fill="url(#b135)"/><rect x="972" y="76" width="2" height="177" fill="url(#b136)"/><rect x="974" y="76" width="2" height="175" fill="url(#b137)"/><rect x="976" y="76" width="2" height="173" fill="url(#b138)"/><rect x="978" y="76" width="2" height="171" fill="url(#b139)"/><rect x="980" y="76" width="2" height="169" fill="url(#b140)"/><rect x="982" y="76" width="2" height="167" fill="url(#b141)"/><rect x="984" y="76" width="2" height="165" fill="url(#b142)"/><rect x="986" y="76" width="2" height="163" fill="url(#b143)"/><rect x="988" y="76" width="2" height="161" fill="url(#b144)"/><rect x="990" y="76" width="2" height="159" fill="url(#b145)"/><rect x="992" y="76" width="2" height="157" fill="url(#b146)"/><rect x="994" y="76" width="2" height="155" fill="url(#b147)"/><rect x="996" y="76" width="2" height="153" fill="url(#b148)"/><rect x="998" y="76" width="2" height="151" fill="url(#b149)"/><rect x="1000" y="76" width="2" height="149" fill="url(#b150)"/><rect x="1002" y="76" width="2" height="147" fill="url(#b151)"/><rect x="1004" y="76" width="2" height="145" fill="url(#b152)"/><rect x="1006" y="76" width="2" height="143" fill="url(#b153)"/><rect x="1008" y="76" width="2" height="141" fill="url(#b154)"/><rect x="1010" y="76" width="2" height="139" fill="url(#b155)"/><rect x="1012" y="76" width="2" height="137" fill="url(#b156)"/><rect x="1014" y="76" width="2" height="135" fill="url(#b157)"/><rect x="1016" y="76" width="2" height="133" fill="url(#b158)"/><rect x="1018" y="76" width="2" height="131" fill="url(#b159)"/><rect x="1020" y="76" width="2" height="129" fill="url(#b160)"/><rect x="1022" y="76" width="2" height="127" fill="url(#b161)"/><rect x="1024" y="76" width="2" height="125" fill="url(#b162)"/><rect x="1026" y="76" width="2" height="123" fill="url(#b163)"/><rect x="1028" y="76" width="2" height="121" fill="url(#b164)"/><rect x="1030" y="76" width="2" height="119" fill="url(#b165)"/><rect x="1032" y="76" width="2" height="117" fill="url(#b166)"/><rect x="1034" y="76" width="2" height="115" fill="url(#b167)"/><rect x="1036" y="76" width="2" height="113" fill="url(#b168)"/><rect x="1038" y="76" width="2" height="111" fill="url(#b169)"/><rect x="1040" y="76" width="2" height="109" fill="url(#b170)"/><rect x="1042" y="76" width="2" height="107" fill="url(#b171)"/><rect x="1044" y="76" width="2" height="105" fill="url(#b172)"/><rect x="1046" y="76" width="2" height="103" fill="url(#b173)"/><rect x="1048" y="76" width="2" height="101" fill="url(#b174)"/><rect x="1050" y="76" width="2" height="99" fill="url(#b175)"/><rect x="1052" y="76" width="2" height="97" fill="url(#b176)"/><rect x="1054" y="76" width="2" height="95" fill="url(#b177)"/><rect x="1056" y="76" width="2" height="93" fill="url(#b178)"/><rect x="1058" y="76" width="2" height="91" fill="url(#b179)"/><rect x="1060" y="76" width="2" height="89" fill="url(#b180)"/><rect x="1062" y="76" width="2" height="87" fill="url(#b181)"/><rect x="1064" y="76" width="2" height="85" fill="url(#b182)"/><rect x="1066" y="76" width="2" height="83" fill="url(#b183)"/><rect x="1068" y="76" width="2" height="81" fill="url(#b184)"/><rect x="1070" y="76" width="2" height="79" fill="url(#b185)"/><rect x="1072" y="76" width="2" height="77" fill="url(#b186)"/><rect x="1074" y="76" width="2" height="75" fill="url(#b187)"/><rect x="1076" y="76" width="2" height="73" fill="url(#b188)"/><rect x="1078" y="76" width="2" height="71" fill="url(#b189)"/><rect x="1080" y="76" width="2" height="69" fill="url(#b190)"/><rect x="1082" y="76" width="2" height="67" fill="url(#b191)"/><rect x="1084" y="76" width="2" height="65" fill="url(#b192)"/><rect x="1086" y="76" width="2" height="63" fill="url(#b193)"/><rect x="1088" y="76" width="2" height="61" fill="url(#b194)"/><rect x="1090" y="76" width="2" height="59" fill="url(#b195)"/><rect x="1092" y="76" width="2" height="57" fill="url(#b196)"/><rect x="1094" y="76" width="2" height="55" fill="url(#b197)"/><rect x="1096" y="76" width="2" height="53" fill="url(#b198)"/><rect x="1098" y="76" width="2" height="51" fill="url(#b199)"/><rect x="1100" y="76" width="2" height="49" fill="url(#b200)"/><rect x="1102" y="76" width="2" height="47" fill="url(#b201)"/><rect x="1104" y="76" width="2" height="45" fill="url(#b202)"/><rect x="1106" y="76" width="2" height="43" fill="url(#b203)"/><rect x="1108" y="76" width="2" height="41" fill="url(#b204)"/><rect x="1110" y="76" width="2" height="39" fill="url(#b205)"/><rect x="1112" y="76" width="2" height="37" fill="url(#b206)"/><rect x="1114" y="76" width="2" height="35" fill="url(#b207)"/><rect x="1116" y="76" width="2" height="33" fill="url(#b208)"/><rect x="1118" y="76" width="2" height="31" fill="url(#b209)"/><rect x="1120" y="76" width="2" height="29" fill="url(#b210)"/><rect x="1122" y="76" width="2" height="27" fill="url(#b211)"/><rect x="1124" y="76" width="2" height="25" fill="url(#b212)"/><rect x="1126" y="76" width="2" height="23" fill="url(#b213)"/><rect x="1128" y="76" width="2" height="21" fill="url(#b214)"/><rect x="1130" y="76" width="2" height="19" fill="url(#b215)"/><rect x="1132" y="76" width="2" height="17" fill="url(#b216)"/><rect x="1134" y="76" width="2" height="15" fill="url(#b217)"/><rect x="1136" y="76" width="2" height="13" fill="url(#b218)"/><rect x="1138" y="76" width="2" height="11" fill="url(#b219)"/><rect x="1140" y="76" width="2" height="9" fill="url(#b220)"/><rect x="1142" y="76" width="2" height="7" fill="url(#b221)"/><rect x="1144" y="76" width="2" height="6" fill="url(#b222)"/></g>
<g clip-path="url(#cr)"><use href="#hr" transform="matrix(0 -0.996 -1.00450 0 1222.342 1216.861)"/></g></g>
<g clip-path="url(#cp)"><use href="#rf" filter="url(#bl)"/></g>
<path d="M700 520.6L700 275.3C701.95 277.05 706.983 281.55 711.7 285.8C716.417 290.05 722.75 295.8 728.3 300.8C733.85 305.8 739.433 310.8 745 315.8C750.567 320.8 756.15 325.9 761.7 330.8C767.25 335.7 773.583 341.167 778.3 345.2C783.017 349.233 786.383 352.233 790 355C793.617 357.767 796.667 359.883 800 361.8C803.333 363.717 806.667 365.3 810 366.5C813.333 367.7 816.667 368.583 820 369C823.333 369.417 826.667 369.333 830 369C833.333 368.667 836.667 368 840 367C843.333 366 846.667 364.5 850 363C853.333 361.5 857.433 359.233 860 358C862.567 356.767 864.5 356 865.4 355.6C864.833 356.833 863.233 360.6 862 363C860.767 365.4 859.267 367.167 858 370C856.733 372.833 855.333 376.667 854.4 380C853.467 383.333 852.733 386.667 852.4 390C852.067 393.333 851.967 396.667 852.4 400C852.833 403.333 853.45 405.833 855 410C856.55 414.167 858.917 420.417 861.7 425C864.483 429.583 867.267 432.083 871.7 437.5C876.133 442.917 882.75 451.117 888.3 457.5C893.85 463.883 899.433 469.683 905 475.8C910.567 481.917 916.15 488.083 921.7 494.2C927.25 500.317 934.283 508.1 938.3 512.5C942.317 516.9 944.55 519.25 945.8 520.6Z" fill="url(#stk)"/>
<path d="M865.3 355.7C866.888 352.37 871.473 342.381 874.829 335.721C878.185 329.062 881.757 322.402 885.437 315.743C889.116 309.083 892.972 302.424 896.906 295.764C900.839 289.105 904.914 282.445 909.038 275.786C913.162 269.126 917.393 262.467 921.649 255.807C925.905 249.148 930.238 242.488 934.573 235.829C938.908 229.169 943.292 222.51 947.658 215.85C952.024 209.19 956.414 202.531 960.768 195.871C965.122 189.212 969.478 182.552 973.783 175.893C978.088 169.233 982.375 162.574 986.599 155.914C990.823 149.255 995.011 142.595 999.127 135.936C1003.243 129.276 1007.308 122.617 1011.294 115.957C1015.28 109.298 1019.204 102.638 1023.044 95.979C1026.884 89.319 1032.453 79.33 1034.334 76L1146.4 76L1146.4 187.195L1146 187.195C1142.658 188.996 1132.633 194.3 1125.95 198.002C1119.267 201.705 1112.583 205.525 1105.9 209.409C1099.217 213.293 1092.533 217.276 1085.85 221.304C1079.167 225.333 1072.483 229.442 1065.8 233.58C1059.117 237.718 1052.433 241.919 1045.75 246.132C1039.067 250.345 1032.383 254.603 1025.7 258.858C1019.017 263.112 1012.333 267.395 1005.65 271.659C998.967 275.923 992.283 280.198 985.6 284.44C978.917 288.681 972.233 292.918 965.55 297.107C958.867 301.296 952.183 305.465 945.5 309.571C938.817 313.677 932.133 317.749 925.45 321.745C918.767 325.74 912.083 329.687 905.4 333.545C898.717 337.402 892.033 341.197 885.35 344.89C878.667 348.582 868.642 353.898 865.3 355.7Z" fill="#a61718"/>
<path d="M77.8 520h9.2M80.2 490.198h6.8M80.2 472.765h6.8M80.2 460.396h6.8M80.2 450.802h6.8M80.2 442.963h6.8M80.2 436.335h6.8M80.2 430.594h6.8M80.2 425.53h6.8M77.8 421h9.2M80.2 391.198h6.8M80.2 373.765h6.8M80.2 361.396h6.8M80.2 351.802h6.8M80.2 343.963h6.8M80.2 337.335h6.8M80.2 331.594h6.8M80.2 326.53h6.8M77.8 322h9.2M80.2 292.198h6.8M80.2 274.765h6.8M80.2 262.396h6.8M80.2 252.802h6.8M80.2 244.963h6.8M80.2 238.335h6.8M80.2 232.594h6.8M80.2 227.53h6.8M77.8 223h9.2M80.2 193.198h6.8M80.2 175.765h6.8M80.2 163.396h6.8M80.2 153.802h6.8M80.2 145.963h6.8M80.2 139.335h6.8M80.2 133.594h6.8M80.2 128.53h6.8M77.8 124h9.2M80.2 94.198h6.8M80.2 76.765h6.8M87 520v8.6M116.832 520v7M134.283 520v7M146.664 520v7M156.268 520v7M164.115 520v7M170.749 520v7M176.496 520v7M181.565 520v7M186.1 520v8.6M215.932 520v7M233.383 520v7M245.764 520v7M255.368 520v7M263.215 520v7M269.849 520v7M275.596 520v7M280.665 520v7M285.2 520v8.6M315.032 520v7M332.483 520v7M344.864 520v7M354.468 520v7M362.315 520v7M368.949 520v7M374.696 520v7M379.765 520v7M384.3 520v8.6M414.132 520v7M431.583 520v7M443.964 520v7M453.568 520v7M461.415 520v7M468.049 520v7M473.796 520v7M478.865 520v7M483.4 520v8.6M513.232 520v7M530.683 520v7" stroke="#1c1c1c" stroke-width="1.45" fill="none"/>
<path d="M87 74V520.4H533.5" stroke="#0a0a0a" stroke-width="1.5" fill="none"/>
<text x="77.5" y="530.6" text-anchor="end" class="tk">10<tspan class="sp" dy="-6.2">−6</tspan></text>
<text x="87.3" y="547.6" text-anchor="middle" class="tk">10<tspan class="sp" dy="-6.2">−6</tspan></text>
<text x="77.5" y="431.6" text-anchor="end" class="tk">10<tspan class="sp" dy="-6.2">−5</tspan></text>
<text x="186.4" y="547.6" text-anchor="middle" class="tk">10<tspan class="sp" dy="-6.2">−5</tspan></text>
<text x="77.5" y="332.6" text-anchor="end" class="tk">10<tspan class="sp" dy="-6.2">−4</tspan></text>
<text x="285.5" y="547.6" text-anchor="middle" class="tk">10<tspan class="sp" dy="-6.2">−4</tspan></text>
<text x="77.5" y="233.6" text-anchor="end" class="tk">10<tspan class="sp" dy="-6.2">−3</tspan></text>
<text x="384.6" y="547.6" text-anchor="middle" class="tk">10<tspan class="sp" dy="-6.2">−3</tspan></text>
<text x="77.5" y="134.6" text-anchor="end" class="tk">10<tspan class="sp" dy="-6.2">−2</tspan></text>
<text x="483.7" y="547.6" text-anchor="middle" class="tk">10<tspan class="sp" dy="-6.2">−2</tspan></text>
<path d="M690.8 520h9.2M693.2 490.379h6.8M693.2 473.051h6.8M693.2 460.757h6.8M693.2 451.221h6.8M693.2 443.43h6.8M693.2 436.842h6.8M693.2 431.136h6.8M693.2 426.103h6.8M690.8 421.6h9.2M693.2 391.979h6.8M693.2 374.651h6.8M693.2 362.357h6.8M693.2 352.821h6.8M693.2 345.03h6.8M693.2 338.442h6.8M693.2 332.736h6.8M693.2 327.703h6.8M690.8 323.2h9.2M693.2 293.579h6.8M693.2 276.251h6.8M693.2 263.957h6.8M693.2 254.421h6.8M693.2 246.63h6.8M693.2 240.042h6.8M693.2 234.336h6.8M693.2 229.303h6.8M690.8 224.8h9.2M693.2 195.179h6.8M693.2 177.851h6.8M693.2 165.557h6.8M693.2 156.021h6.8M693.2 148.23h6.8M693.2 141.642h6.8M693.2 135.936h6.8M693.2 130.903h6.8M690.8 126.4h9.2M693.2 96.779h6.8M693.2 79.451h6.8M700 520v8.6M729.742 520v7M747.14 520v7M759.484 520v7M769.058 520v7M776.881 520v7M783.496 520v7M789.225 520v7M794.279 520v7M798.8 520v8.6M828.542 520v7M845.94 520v7M858.284 520v7M867.858 520v7M875.681 520v7M882.296 520v7M888.025 520v7M893.079 520v7M897.6 520v8.6M927.342 520v7M944.74 520v7M957.084 520v7M966.658 520v7M974.481 520v7M981.096 520v7M986.825 520v7M991.879 520v7M996.4 520v8.6M1026.142 520v7M1043.54 520v7M1055.884 520v7M1065.458 520v7M1073.281 520v7M1079.896 520v7M1085.625 520v7M1090.679 520v7M1095.2 520v8.6M1124.942 520v7" stroke="#1c1c1c" stroke-width="1.45" fill="none"/>
<path d="M700 76V520.4H1146" stroke="#0a0a0a" stroke-width="1.5" fill="none"/>
<text x="688.5" y="530.6" text-anchor="end" class="tk">10<tspan class="sp" dy="-6.2">−6</tspan></text>
<text x="700.3" y="547.6" text-anchor="middle" class="tk">10<tspan class="sp" dy="-6.2">−6</tspan></text>
<text x="688.5" y="432.2" text-anchor="end" class="tk">10<tspan class="sp" dy="-6.2">−5</tspan></text>
<text x="799.1" y="547.6" text-anchor="middle" class="tk">10<tspan class="sp" dy="-6.2">−5</tspan></text>
<text x="688.5" y="333.8" text-anchor="end" class="tk">10<tspan class="sp" dy="-6.2">−4</tspan></text>
<text x="897.9" y="547.6" text-anchor="middle" class="tk">10<tspan class="sp" dy="-6.2">−4</tspan></text>
<text x="688.5" y="235.4" text-anchor="end" class="tk">10<tspan class="sp" dy="-6.2">−3</tspan></text>
<text x="996.7" y="547.6" text-anchor="middle" class="tk">10<tspan class="sp" dy="-6.2">−3</tspan></text>
<text x="688.5" y="137" text-anchor="end" class="tk">10<tspan class="sp" dy="-6.2">−2</tspan></text>
<text x="1095.5" y="547.6" text-anchor="middle" class="tk">10<tspan class="sp" dy="-6.2">−2</tspan></text>
<rect x="545" y="103.8" width="18" height="401.3" fill="url(#cb)" stroke="#0a0a0a" stroke-width="1.4"/>
<path d="M563 504.42h5M563 480.908h5M563 457.396h5M563 433.884h5M563 410.372h5M563 386.86h5M563 363.348h5M563 339.836h5M563 316.324h5M563 292.812h5M563 269.3h5M563 245.788h5M563 222.276h5M563 198.764h5M563 175.252h5M563 151.74h5M563 128.228h5M563 104.716h5" stroke="#1c1c1c" stroke-width="1.35" fill="none"/>
<text x="573.2" y="510.52" class="tk">0</text>
<text x="573.2" y="392.96" class="tk">50</text>
<text x="573.2" y="275.4" class="tk">100</text>
<text x="573.2" y="157.84" class="tk">150</text>
<text x="540.5" y="90.7" class="ax" style="font-size:19px"><tspan font-style="italic">v</tspan> (m s<tspan class="sp2" dy="-6.5">−1</tspan><tspan dy="6.5">)</tspan></text>
<text x="86.8" y="31.7" class="tt" textLength="180">Relative velocities</text>
<text x="700" y="31.7" class="tt" textLength="206">Collisional outcomes</text>
<text x="280.2" y="64.7" class="ax" textLength="58.7">1.0 AU</text>
<text x="892.8" y="64.7" class="ax" textLength="58.7">1.0 AU</text>
<text x="309.6" y="579.7" text-anchor="middle" class="ax"><tspan font-style="italic">r</tspan><tspan class="sb" dy="7.5" dx="1">p1</tspan><tspan dy="-7.5"> (m)</tspan></text>
<text x="922.5" y="579.7" text-anchor="middle" class="ax"><tspan font-style="italic">r</tspan><tspan class="sb" dy="7.5" dx="1">p1</tspan><tspan dy="-7.5"> (m)</tspan></text>
<text transform="translate(17.6 298) rotate(-90)" text-anchor="middle" class="ax"><tspan font-style="italic">r</tspan><tspan class="sb" dy="7.5" dx="1">p2</tspan><tspan dy="-7.5"> (m)</tspan></text>
<text transform="translate(636.8 298) rotate(-90)" text-anchor="middle" class="ax"><tspan font-style="italic">r</tspan><tspan class="sb" dy="7.5" dx="1">p2</tspan><tspan dy="-7.5"> (m)</tspan></text>
<rect x="928.1" y="92.9" width="75" height="23.8" fill="#fff"/><text x="935" y="110.1" class="lb" textLength="61.7">Erosion</text>
<rect x="994.9" y="160.1" width="135.2" height="23.8" fill="#fff"/><text x="1001.3" y="178.4" class="lb" textLength="123.4">Fragmentation</text>
<rect x="792.6" y="189.3" width="123.5" height="23.8" fill="#fff"/><text x="799" y="207" class="lb" textLength="111">Mass transfer</text>
<rect x="757.5" y="381.3" width="86.1" height="23.5" fill="#fff"/><text x="761.6" y="399.7" class="lb" textLength="78.6">Bouncing</text>
<rect x="705.6" y="487.3" width="80.8" height="23.5" fill="#fff"/><text x="712.7" y="505.4" class="lb" textLength="68">Sticking</text>
</svg>
</body></html>
